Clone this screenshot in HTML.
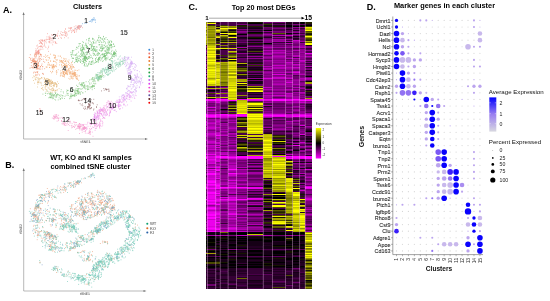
<!DOCTYPE html>
<html><head><meta charset="utf-8"><style>
html,body{margin:0;padding:0;background:#fff;}
body{width:550px;height:301px;overflow:hidden;position:relative;}
svg{position:absolute;left:0;top:0;will-change:transform;font-family:"Liberation Sans",sans-serif;}
</style></head><body>
<svg width="550" height="301" viewBox="0 0 550 301">
<text x="3.00" y="12.80" font-size="9" font-weight="bold" text-anchor="start" fill="#000" >A.</text>
<text x="87.50" y="8.70" font-size="7.25" font-weight="bold" text-anchor="middle" fill="#000" >Clusters</text>
<text x="5.30" y="168.00" font-size="9" font-weight="bold" text-anchor="start" fill="#000" >B.</text>
<text x="91.00" y="159.80" font-size="7.35" font-weight="bold" text-anchor="middle" fill="#000" >WT, KO and KI samples</text>
<text x="90.50" y="168.60" font-size="7.3" font-weight="bold" text-anchor="middle" fill="#000" >combined tSNE cluster</text>
<text x="188.50" y="9.90" font-size="9" font-weight="bold" text-anchor="start" fill="#000" >C.</text>
<text x="263.60" y="9.50" font-size="7.26" font-weight="bold" text-anchor="middle" fill="#000" >Top 20 most DEGs</text>
<text x="366.80" y="10.00" font-size="9" font-weight="bold" text-anchor="start" fill="#000" >D.</text>
<text x="444.50" y="8.20" font-size="7.36" font-weight="bold" text-anchor="middle" fill="#000" >Marker genes in each cluster</text>
<g fill="none" stroke-width="0.8" opacity="0.7"><path stroke="#3ea83e" d="M88.1 38.9h0.8M88.7 38.5h0.8M89.0 38.2h0.8M92.0 38.3h0.8M92.3 38.9h0.8M92.7 38.6h0.8M98.1 38.1h0.8M98.2 37.4h0.8M98.5 35.7h0.8M98.8 37.2h0.8M100.0 38.2h0.8M100.2 37.5h0.8M101.6 38.4h0.8M101.7 39.3h0.8M102.0 39.2h0.8M103.0 36.9h0.8M103.2 36.4h0.8M103.9 38.8h0.8M103.9 38.9h0.8M104.6 39.1h0.8M105.6 37.6h0.8M78.7 43.5h0.8M78.9 44.0h0.8M79.9 43.5h0.8M81.8 44.9h0.8M82.4 41.7h0.8M82.4 45.0h0.8M83.2 42.6h0.8M85.3 44.9h0.8M85.4 43.2h0.8M85.5 43.9h0.8M85.9 45.1h0.8M86.1 39.8h0.8M87.9 43.1h0.8M88.1 40.8h0.8M88.7 40.1h0.8M89.3 44.8h0.8M89.7 41.3h0.8M90.2 44.4h0.8M90.5 44.8h0.8M90.9 42.6h0.8M91.0 44.0h0.8M91.7 45.3h0.8M92.3 44.1h0.8M92.5 39.5h0.8M92.7 41.6h0.8M93.1 42.1h0.8M93.2 42.5h0.8M93.3 43.4h0.8M93.8 40.1h0.8M94.5 42.9h0.8M95.6 42.9h0.8M95.7 41.2h0.8M97.3 39.9h0.8M97.5 40.4h0.8M97.6 40.8h0.8M98.4 42.2h0.8M98.5 44.8h0.8M99.1 44.8h0.8M99.2 42.3h0.8M99.3 44.6h0.8M99.5 40.1h0.8M99.9 40.9h0.8M100.8 44.4h0.8M100.9 42.1h0.8M101.5 42.4h0.8M102.3 44.9h0.8M102.9 40.4h0.8M103.2 42.1h0.8M103.8 45.1h0.8M103.9 41.4h0.8M104.9 42.3h0.8M105.3 43.7h0.8M106.9 39.5h0.8M107.6 42.3h0.8M107.8 43.8h0.8M107.9 41.0h0.8M108.5 44.7h0.8M108.7 42.6h0.8M109.0 45.4h0.8M109.1 42.3h0.8M109.2 41.3h0.8M109.8 43.9h0.8M110.4 44.6h0.8M110.5 40.8h0.8M110.7 44.8h0.8M111.0 41.8h0.8M111.0 42.0h0.8M111.1 44.4h0.8M111.3 44.5h0.8M111.4 41.9h0.8M113.0 43.9h0.8M113.3 44.4h0.8M71.9 50.9h0.8M72.1 50.7h0.8M73.4 50.6h0.8M75.7 49.3h0.8M76.2 47.4h0.8M76.6 47.3h0.8M77.5 48.2h0.8M78.2 46.3h0.8M79.6 46.0h0.8M80.1 49.0h0.8M80.3 50.6h0.8M80.5 48.7h0.8M80.6 49.8h0.8M80.8 47.4h0.8M81.0 50.7h0.8M81.6 50.9h0.8M81.6 50.0h0.8M81.8 50.8h0.8M81.9 50.0h0.8M82.0 49.4h0.8M82.2 49.1h0.8M82.2 46.0h0.8M82.2 46.0h0.8M82.2 47.2h0.8M82.4 49.5h0.8M82.5 51.3h0.8M82.5 49.4h0.8M82.6 47.6h0.8M82.9 48.4h0.8M83.1 48.1h0.8M83.3 49.4h0.8M83.4 47.2h0.8M83.4 47.7h0.8M83.7 48.6h0.8M84.3 49.7h0.8M84.6 45.7h0.8M85.8 47.5h0.8M86.1 45.8h0.8M86.2 47.6h0.8M86.3 45.5h0.8M86.4 46.3h0.8M86.8 46.5h0.8M86.9 46.8h0.8M87.2 48.1h0.8M87.5 48.0h0.8M87.7 47.7h0.8M88.5 49.2h0.8M89.3 48.8h0.8M90.7 48.7h0.8M90.7 50.2h0.8M90.7 48.0h0.8M90.9 46.5h0.8M91.0 47.3h0.8M91.4 45.6h0.8M91.4 50.5h0.8M91.5 46.0h0.8M91.8 46.6h0.8M92.0 49.8h0.8M92.2 49.3h0.8M92.4 50.0h0.8M92.7 49.0h0.8M93.0 50.9h0.8M93.0 46.8h0.8M93.1 46.9h0.8M93.2 48.6h0.8M93.4 48.7h0.8M93.5 48.1h0.8M93.6 46.9h0.8M93.9 49.5h0.8M93.9 49.8h0.8M94.0 46.5h0.8M94.0 50.5h0.8M94.6 48.4h0.8M94.7 50.9h0.8M95.1 49.7h0.8M95.3 51.1h0.8M95.4 51.0h0.8M95.8 46.8h0.8M95.8 50.6h0.8M96.5 49.5h0.8M96.6 47.1h0.8M96.8 51.2h0.8M98.9 50.2h0.8M99.0 50.0h0.8M99.8 47.2h0.8M100.0 48.3h0.8M100.6 48.1h0.8M100.7 51.0h0.8M100.7 46.3h0.8M100.7 50.5h0.8M100.8 48.1h0.8M100.9 51.1h0.8M101.4 46.0h0.8M101.7 47.3h0.8M101.7 49.2h0.8M101.8 48.4h0.8M102.1 50.6h0.8M102.1 48.6h0.8M102.3 48.6h0.8M102.3 46.2h0.8M102.4 49.7h0.8M102.6 48.8h0.8M103.3 48.0h0.8M103.5 48.3h0.8M103.7 47.6h0.8M103.9 45.6h0.8M104.3 50.9h0.8M104.9 51.1h0.8M105.0 51.0h0.8M105.2 46.4h0.8M105.6 47.2h0.8M105.9 50.1h0.8M106.3 48.8h0.8M106.6 46.2h0.8M106.7 45.8h0.8M107.0 50.3h0.8M107.0 47.6h0.8M107.1 49.4h0.8M107.7 48.9h0.8M107.7 47.2h0.8M107.8 49.8h0.8M108.2 47.8h0.8M108.4 49.1h0.8M108.4 48.1h0.8M108.5 50.4h0.8M108.6 48.5h0.8M108.6 50.0h0.8M109.2 47.8h0.8M109.3 49.2h0.8M109.4 46.1h0.8M109.7 45.8h0.8M110.0 45.4h0.8M110.5 47.7h0.8M110.9 45.6h0.8M111.0 45.8h0.8M111.2 47.8h0.8M111.6 50.3h0.8M111.7 46.9h0.8M112.7 46.6h0.8M113.5 51.3h0.8M114.0 46.4h0.8M114.3 46.1h0.8M115.3 50.0h0.8M70.4 52.3h0.8M70.6 54.8h0.8M70.8 54.3h0.8M71.1 56.4h0.8M71.3 54.8h0.8M71.8 52.7h0.8M72.1 54.0h0.8M72.4 51.9h0.8M72.8 55.0h0.8M74.6 54.9h0.8M74.8 55.4h0.8M75.2 55.0h0.8M76.2 54.7h0.8M76.5 53.4h0.8M76.5 55.9h0.8M77.2 57.3h0.8M77.8 56.2h0.8M78.2 52.1h0.8M79.2 55.9h0.8M79.9 56.5h0.8M80.4 54.3h0.8M80.5 57.0h0.8M80.6 53.7h0.8M81.0 55.6h0.8M81.1 52.1h0.8M81.6 53.6h0.8M81.7 54.5h0.8M81.7 56.2h0.8M81.8 52.1h0.8M81.8 55.6h0.8M82.4 54.9h0.8M82.8 56.4h0.8M82.8 54.2h0.8M82.9 52.7h0.8M83.3 52.3h0.8M83.3 53.4h0.8M83.4 53.1h0.8M83.5 56.0h0.8M83.7 57.3h0.8M83.9 56.2h0.8M84.2 57.3h0.8M84.2 54.1h0.8M84.2 57.0h0.8M84.4 57.0h0.8M84.5 54.8h0.8M84.5 56.6h0.8M84.6 56.1h0.8M84.9 56.7h0.8M85.2 56.6h0.8M85.3 56.8h0.8M85.4 55.4h0.8M85.4 52.7h0.8M85.6 56.9h0.8M85.9 52.7h0.8M85.9 57.4h0.8M86.2 54.3h0.8M86.3 51.9h0.8M86.7 54.2h0.8M87.1 53.8h0.8M87.5 52.2h0.8M87.9 56.8h0.8M88.1 56.9h0.8M88.9 51.6h0.8M89.0 56.5h0.8M89.1 53.3h0.8M89.6 54.8h0.8M90.6 55.5h0.8M91.0 57.2h0.8M92.7 52.0h0.8M92.7 53.7h0.8M93.3 55.3h0.8M93.5 53.5h0.8M93.9 53.8h0.8M94.1 54.6h0.8M94.8 55.2h0.8M95.4 55.6h0.8M95.5 51.7h0.8M96.4 54.2h0.8M96.9 55.4h0.8M97.1 53.6h0.8M97.4 54.9h0.8M97.7 52.6h0.8M98.3 54.9h0.8M98.3 52.9h0.8M98.6 53.7h0.8M98.6 53.6h0.8M99.1 53.6h0.8M99.6 56.9h0.8M100.4 55.6h0.8M100.9 54.4h0.8M102.2 54.7h0.8M102.2 54.0h0.8M102.3 54.1h0.8M102.6 54.9h0.8M102.7 56.9h0.8M103.0 56.5h0.8M103.0 56.7h0.8M103.5 55.0h0.8M103.5 53.9h0.8M103.8 54.1h0.8M103.8 55.0h0.8M103.9 55.5h0.8M104.0 56.3h0.8M104.0 53.6h0.8M104.0 56.5h0.8M104.3 54.8h0.8M104.3 55.9h0.8M104.5 56.5h0.8M104.6 56.7h0.8M104.7 55.5h0.8M104.7 56.2h0.8M105.0 55.5h0.8M105.0 53.5h0.8M105.2 56.0h0.8M105.6 52.0h0.8M105.9 52.7h0.8M105.9 55.0h0.8M106.1 53.7h0.8M106.4 55.0h0.8M106.4 52.3h0.8M106.5 55.0h0.8M106.6 52.0h0.8M106.8 53.5h0.8M107.4 53.4h0.8M107.5 52.7h0.8M107.5 52.2h0.8M107.6 57.2h0.8M107.9 52.2h0.8M108.4 52.1h0.8M108.4 53.2h0.8M109.1 53.3h0.8M109.7 53.0h0.8M110.5 54.2h0.8M111.0 57.0h0.8M111.0 51.7h0.8M111.2 53.8h0.8M111.8 55.0h0.8M111.9 55.1h0.8M112.4 56.0h0.8M112.5 56.6h0.8M112.7 54.5h0.8M113.0 52.7h0.8M113.0 53.5h0.8M113.0 53.9h0.8M113.0 53.9h0.8M113.2 54.8h0.8M113.4 52.8h0.8M113.5 53.8h0.8M113.5 56.6h0.8M113.6 53.9h0.8M113.7 54.9h0.8M113.8 54.1h0.8M113.8 53.3h0.8M113.9 53.2h0.8M114.0 52.6h0.8M114.0 51.9h0.8M114.0 56.7h0.8M114.2 54.5h0.8M114.2 53.0h0.8M114.4 53.9h0.8M114.4 54.9h0.8M115.1 53.6h0.8M115.1 52.7h0.8M115.3 53.6h0.8M115.4 55.7h0.8M115.5 53.3h0.8M115.6 54.8h0.8M115.9 51.4h0.8M71.7 58.0h0.8M72.0 61.2h0.8M72.3 58.4h0.8M72.8 58.3h0.8M73.0 58.4h0.8M74.0 62.6h0.8M75.0 58.0h0.8M75.4 61.6h0.8M75.5 59.6h0.8M75.6 60.0h0.8M76.1 61.3h0.8M76.1 57.7h0.8M76.1 59.5h0.8M76.3 61.0h0.8M76.5 59.9h0.8M76.6 59.8h0.8M76.9 58.4h0.8M77.2 62.2h0.8M77.3 61.4h0.8M77.9 60.0h0.8M78.2 60.8h0.8M78.3 58.4h0.8M78.6 60.5h0.8M79.1 58.3h0.8M79.6 61.4h0.8M79.9 59.7h0.8M80.2 62.2h0.8M80.2 62.2h0.8M80.2 59.9h0.8M81.4 60.9h0.8M82.2 61.4h0.8M82.2 59.2h0.8M82.8 58.3h0.8M83.1 62.4h0.8M83.1 60.9h0.8M83.2 61.7h0.8M83.2 61.3h0.8M83.3 58.4h0.8M83.5 59.7h0.8M83.6 59.3h0.8M83.7 63.1h0.8M83.7 60.2h0.8M84.1 57.6h0.8M84.2 58.2h0.8M84.2 58.1h0.8M84.2 58.1h0.8M84.3 58.8h0.8M84.4 62.7h0.8M84.5 60.2h0.8M84.5 58.8h0.8M84.6 58.7h0.8M84.6 60.7h0.8M84.6 63.0h0.8M84.7 59.2h0.8M84.8 59.9h0.8M84.8 59.2h0.8M84.9 60.7h0.8M85.0 58.1h0.8M85.1 58.8h0.8M85.2 60.4h0.8M85.3 57.5h0.8M85.5 57.5h0.8M85.7 61.1h0.8M85.9 61.5h0.8M86.0 58.8h0.8M86.0 58.3h0.8M86.1 58.3h0.8M86.1 57.5h0.8M86.5 57.4h0.8M86.5 57.9h0.8M86.7 58.6h0.8M86.8 59.3h0.8M87.0 59.4h0.8M88.0 58.5h0.8M88.6 58.2h0.8M88.6 63.2h0.8M88.9 61.5h0.8M89.5 57.7h0.8M89.6 62.1h0.8M89.8 57.7h0.8M91.0 61.4h0.8M91.1 62.4h0.8M91.4 61.9h0.8M92.0 58.7h0.8M92.1 61.2h0.8M92.3 58.2h0.8M92.6 62.3h0.8M92.7 60.9h0.8M93.8 63.2h0.8M94.8 62.6h0.8M95.1 59.3h0.8M95.1 58.5h0.8M95.2 60.6h0.8M95.4 62.3h0.8M95.9 61.8h0.8M96.1 57.8h0.8M96.3 61.7h0.8M96.5 61.7h0.8M96.9 59.8h0.8M97.6 59.4h0.8M97.6 61.2h0.8M97.9 60.7h0.8M97.9 62.3h0.8M98.0 58.5h0.8M98.2 59.2h0.8M98.3 58.5h0.8M98.4 57.7h0.8M98.4 60.7h0.8M98.5 58.7h0.8M98.5 59.4h0.8M98.6 59.4h0.8M98.8 57.9h0.8M98.9 57.4h0.8M99.2 58.2h0.8M99.4 59.5h0.8M99.6 57.7h0.8M100.4 60.7h0.8M100.6 58.0h0.8M101.4 59.1h0.8M101.7 58.2h0.8M102.1 57.5h0.8M102.3 61.5h0.8M102.8 60.6h0.8M104.2 59.2h0.8M104.6 57.9h0.8M104.7 57.6h0.8M104.9 58.8h0.8M105.1 58.3h0.8M105.1 59.0h0.8M105.5 60.6h0.8M105.7 59.4h0.8M105.9 58.3h0.8M106.0 57.8h0.8M107.4 58.8h0.8M108.9 59.6h0.8M109.0 59.8h0.8M110.0 58.7h0.8M110.2 60.0h0.8M111.1 58.1h0.8M112.1 58.4h0.8M81.7 63.6h0.8M83.8 65.6h0.8M84.0 64.7h0.8M84.2 64.6h0.8M84.6 66.1h0.8M85.8 66.0h0.8M86.3 64.1h0.8M87.0 66.1h0.8M87.5 65.6h0.8M88.0 63.9h0.8M88.2 64.3h0.8M89.7 64.1h0.8M90.0 64.2h0.8M90.9 64.0h0.8M91.2 64.5h0.8M92.5 64.0h0.8"/><path stroke="#ee6cd2" d="M106.1 104.3h0.8M106.4 102.6h0.8M107.3 102.2h0.8M107.7 100.8h0.8M107.7 103.9h0.8M108.4 103.7h0.8M108.4 101.3h0.8M108.6 104.9h0.8M108.8 101.9h0.8M109.0 104.3h0.8M109.0 103.2h0.8M109.2 104.0h0.8M109.4 104.0h0.8M109.5 103.6h0.8M109.5 103.6h0.8M109.6 103.4h0.8M109.8 102.5h0.8M110.1 104.3h0.8M110.2 103.1h0.8M110.4 103.6h0.8M110.8 101.3h0.8M112.1 104.2h0.8M112.2 103.0h0.8M98.4 110.1h0.8M98.6 110.3h0.8M99.0 109.6h0.8M99.3 111.0h0.8M99.4 109.9h0.8M99.8 107.6h0.8M100.0 111.1h0.8M100.1 108.7h0.8M100.7 109.8h0.8M101.0 110.5h0.8M101.2 109.6h0.8M101.5 109.0h0.8M101.5 110.9h0.8M101.6 109.2h0.8M101.7 109.8h0.8M102.0 111.0h0.8M102.0 110.1h0.8M102.2 110.2h0.8M102.8 110.8h0.8M102.9 107.5h0.8M102.9 108.3h0.8M103.1 109.8h0.8M103.2 111.0h0.8M103.6 105.8h0.8M103.7 107.4h0.8M103.7 109.7h0.8M104.1 110.4h0.8M104.2 108.5h0.8M104.6 106.0h0.8M104.7 109.7h0.8M105.2 109.8h0.8M105.3 110.8h0.8M105.7 105.4h0.8M106.9 106.8h0.8M107.0 110.6h0.8M107.3 109.6h0.8M107.5 106.6h0.8M107.7 107.7h0.8M109.0 108.1h0.8M110.4 110.6h0.8M110.9 107.5h0.8M112.0 106.3h0.8M112.2 105.9h0.8M94.3 116.5h0.8M94.6 115.3h0.8M96.0 117.2h0.8M96.7 111.7h0.8M96.9 115.0h0.8M97.1 112.3h0.8M97.1 113.4h0.8M97.2 112.6h0.8M98.6 113.1h0.8M98.9 115.7h0.8M99.4 113.5h0.8M99.9 113.6h0.8M100.3 111.5h0.8M100.6 113.5h0.8M100.8 114.8h0.8M101.2 114.7h0.8M102.0 115.3h0.8M102.4 111.8h0.8M103.5 111.5h0.8M103.9 112.3h0.8M103.9 112.9h0.8M104.5 112.7h0.8M105.7 111.8h0.8M105.9 115.3h0.8M106.6 113.3h0.8M106.9 114.5h0.8M108.7 115.9h0.8M109.0 114.9h0.8M109.4 113.1h0.8M110.1 111.5h0.8M87.1 123.1h0.8M87.6 122.2h0.8M89.4 123.3h0.8M89.5 122.9h0.8M90.3 123.1h0.8M90.7 121.0h0.8M92.2 119.5h0.8M92.9 119.4h0.8M93.1 121.2h0.8M93.2 121.4h0.8M93.7 119.8h0.8M93.8 122.5h0.8M94.0 119.2h0.8M94.8 120.7h0.8M96.3 122.1h0.8M97.6 119.6h0.8M99.1 118.1h0.8M99.3 122.4h0.8M99.9 121.6h0.8M100.1 120.3h0.8M100.3 119.2h0.8M100.8 121.0h0.8M101.9 123.3h0.8M102.1 121.3h0.8M102.3 118.4h0.8M102.5 122.8h0.8M103.0 117.6h0.8M103.7 117.6h0.8M103.8 118.3h0.8M104.5 118.3h0.8M80.4 126.2h0.8M81.4 124.4h0.8M82.6 125.0h0.8M82.7 128.4h0.8M82.8 124.6h0.8M82.8 124.5h0.8M83.3 129.0h0.8M83.8 129.2h0.8M84.1 128.3h0.8M84.1 126.9h0.8M85.6 127.1h0.8M85.6 127.4h0.8M86.5 124.7h0.8M86.5 128.7h0.8M86.6 128.0h0.8M87.6 126.3h0.8M89.7 123.8h0.8M89.9 126.2h0.8M90.3 123.6h0.8M90.8 124.3h0.8M90.8 124.3h0.8M90.8 124.3h0.8M91.0 123.9h0.8M91.1 124.1h0.8M91.2 128.4h0.8M91.3 128.8h0.8M92.0 127.0h0.8M92.6 123.7h0.8M92.6 123.6h0.8M93.2 127.5h0.8M93.4 123.6h0.8M93.7 123.8h0.8M94.0 124.5h0.8M94.1 125.5h0.8M94.1 126.8h0.8M94.9 128.7h0.8M95.0 126.0h0.8M95.3 125.2h0.8M95.4 128.3h0.8M95.6 123.8h0.8M95.7 124.5h0.8M95.7 124.1h0.8M95.9 128.4h0.8M96.3 124.1h0.8M96.4 127.0h0.8M96.5 123.7h0.8M96.5 123.8h0.8M96.6 126.5h0.8M96.6 125.6h0.8M97.3 126.0h0.8M98.1 124.9h0.8M98.4 125.2h0.8M98.9 124.8h0.8M99.0 123.4h0.8M99.1 126.9h0.8M99.1 126.7h0.8M99.2 127.1h0.8M99.4 124.7h0.8M99.5 128.3h0.8M99.5 125.7h0.8M99.6 126.0h0.8M99.9 125.7h0.8M100.0 123.9h0.8M101.5 126.3h0.8M102.3 125.0h0.8M81.8 130.3h0.8M82.4 129.4h0.8M85.2 131.0h0.8M85.5 130.2h0.8M86.4 129.4h0.8M86.7 133.3h0.8M89.7 131.0h0.8M91.9 132.1h0.8M94.7 130.4h0.8"/><path stroke="#c58ff0" d="M125.3 56.9h0.8M126.7 57.4h0.8M127.7 57.2h0.8M128.6 57.3h0.8M131.1 57.2h0.8M121.7 58.0h0.8M121.9 58.9h0.8M122.7 59.1h0.8M122.9 61.7h0.8M123.6 57.9h0.8M124.1 57.7h0.8M124.3 59.9h0.8M124.5 58.7h0.8M124.8 60.5h0.8M124.9 63.1h0.8M125.1 59.4h0.8M125.3 62.7h0.8M125.6 57.5h0.8M126.4 60.8h0.8M126.7 59.6h0.8M126.8 59.0h0.8M127.1 58.8h0.8M127.2 62.4h0.8M127.8 58.5h0.8M128.0 57.5h0.8M128.0 58.1h0.8M128.6 59.3h0.8M129.9 60.0h0.8M130.2 62.8h0.8M130.2 61.9h0.8M130.6 62.8h0.8M130.8 62.5h0.8M130.8 62.7h0.8M131.0 61.1h0.8M131.2 61.5h0.8M131.4 62.9h0.8M131.4 62.1h0.8M131.4 63.1h0.8M131.8 61.9h0.8M132.0 62.8h0.8M124.1 64.4h0.8M125.3 66.6h0.8M125.9 64.1h0.8M125.9 65.5h0.8M126.3 65.8h0.8M126.6 68.9h0.8M127.5 68.5h0.8M127.6 64.7h0.8M127.7 63.7h0.8M128.3 68.0h0.8M128.4 67.9h0.8M128.5 68.3h0.8M128.6 67.0h0.8M128.9 63.9h0.8M128.9 66.6h0.8M128.9 67.9h0.8M129.2 65.7h0.8M129.3 67.4h0.8M129.6 66.5h0.8M129.6 64.6h0.8M129.6 66.7h0.8M129.6 69.3h0.8M129.7 67.2h0.8M129.9 67.0h0.8M130.0 65.3h0.8M130.1 63.5h0.8M130.5 64.1h0.8M130.6 63.5h0.8M130.6 65.5h0.8M130.6 63.8h0.8M130.7 63.8h0.8M130.9 63.9h0.8M131.1 63.8h0.8M131.2 64.2h0.8M131.6 64.0h0.8M131.7 66.5h0.8M132.0 63.6h0.8M132.4 63.8h0.8M132.7 68.8h0.8M133.1 68.7h0.8M133.5 63.8h0.8M133.8 63.5h0.8M134.2 67.0h0.8M134.9 67.6h0.8M135.1 64.5h0.8M135.7 66.3h0.8M135.7 65.4h0.8M126.9 70.9h0.8M127.4 73.9h0.8M127.6 72.2h0.8M127.9 69.8h0.8M128.0 73.0h0.8M128.3 73.8h0.8M128.4 73.6h0.8M128.5 70.3h0.8M128.6 72.5h0.8M128.7 74.9h0.8M128.9 74.7h0.8M129.1 72.9h0.8M129.4 70.1h0.8M129.5 73.4h0.8M129.7 72.3h0.8M129.7 72.8h0.8M129.8 74.2h0.8M129.8 73.6h0.8M129.8 73.6h0.8M129.9 71.4h0.8M130.1 69.8h0.8M130.2 74.2h0.8M130.2 74.4h0.8M130.4 73.3h0.8M130.6 71.9h0.8M131.1 71.6h0.8M131.3 71.3h0.8M131.3 72.9h0.8M131.3 72.0h0.8M134.0 70.2h0.8M134.1 75.1h0.8M134.6 75.0h0.8M134.7 69.7h0.8M136.6 70.6h0.8M136.8 74.5h0.8M136.8 73.7h0.8M137.1 70.6h0.8M139.1 71.7h0.8M140.5 74.1h0.8M129.3 76.3h0.8M129.3 76.3h0.8M130.1 78.4h0.8M130.4 77.7h0.8M130.6 79.6h0.8M130.7 79.6h0.8M130.8 78.6h0.8M130.8 80.1h0.8M131.0 80.1h0.8M131.2 78.7h0.8M131.8 80.5h0.8M131.9 78.9h0.8M132.2 78.9h0.8M132.5 80.4h0.8M132.7 80.5h0.8M132.9 80.4h0.8M133.2 79.5h0.8M133.2 79.4h0.8M133.8 80.5h0.8M134.3 80.1h0.8M134.3 78.0h0.8M134.6 79.8h0.8M134.8 75.5h0.8M135.2 77.4h0.8M135.3 76.9h0.8M135.3 78.1h0.8M135.5 76.7h0.8M135.9 77.3h0.8M135.9 77.6h0.8M136.0 81.2h0.8M136.3 78.6h0.8M136.4 79.9h0.8M136.6 79.2h0.8M136.6 76.2h0.8M136.9 75.8h0.8M136.9 76.4h0.8M137.4 81.1h0.8M137.6 77.3h0.8M138.0 77.7h0.8M138.4 81.1h0.8M138.6 77.0h0.8M138.8 80.6h0.8M139.7 79.1h0.8M140.4 78.0h0.8M140.6 78.5h0.8M140.8 75.6h0.8M141.0 79.0h0.8M141.1 78.3h0.8M141.2 80.3h0.8M141.9 77.0h0.8M127.6 85.8h0.8M127.6 86.0h0.8M128.3 86.7h0.8M128.5 86.6h0.8M129.6 86.8h0.8M129.7 86.1h0.8M130.3 84.5h0.8M130.6 82.0h0.8M130.8 82.5h0.8M131.1 81.8h0.8M131.7 84.6h0.8M132.6 86.6h0.8M132.7 87.3h0.8M132.8 84.7h0.8M132.9 84.5h0.8M133.5 85.7h0.8M133.6 82.7h0.8M133.7 86.2h0.8M133.8 83.4h0.8M134.1 81.9h0.8M134.9 81.8h0.8M135.1 82.1h0.8M135.2 87.2h0.8M135.4 82.9h0.8M136.1 83.5h0.8M136.6 87.1h0.8M136.7 85.4h0.8M136.8 82.6h0.8M137.5 81.8h0.8M138.4 82.7h0.8M138.9 86.8h0.8M138.9 81.5h0.8M139.2 87.3h0.8M139.6 81.9h0.8M139.7 81.7h0.8M139.9 84.0h0.8M140.1 82.3h0.8M140.3 85.0h0.8M140.3 83.4h0.8M140.5 81.7h0.8M142.1 82.8h0.8M142.5 82.4h0.8M125.2 93.0h0.8M125.6 92.6h0.8M126.1 88.5h0.8M126.4 93.0h0.8M126.5 93.3h0.8M126.5 88.3h0.8M126.7 89.6h0.8M126.9 87.8h0.8M127.0 91.4h0.8M128.4 90.3h0.8M128.6 90.6h0.8M128.6 90.8h0.8M128.7 91.3h0.8M130.3 92.1h0.8M130.5 91.5h0.8M130.8 89.2h0.8M130.9 93.0h0.8M131.4 93.0h0.8M131.5 88.4h0.8M132.4 92.7h0.8M132.6 91.7h0.8M133.0 91.5h0.8M133.7 92.3h0.8M133.9 89.8h0.8M134.4 89.6h0.8M134.8 89.6h0.8M134.9 93.1h0.8M135.2 90.8h0.8M135.2 88.8h0.8M135.5 91.1h0.8M135.9 91.7h0.8M136.2 90.8h0.8M136.2 88.3h0.8M138.9 87.7h0.8M118.9 96.9h0.8M120.9 96.5h0.8M121.6 97.6h0.8M121.6 95.3h0.8M122.4 95.5h0.8M122.5 95.9h0.8M122.5 94.8h0.8M123.3 94.7h0.8M124.2 98.7h0.8M124.3 96.6h0.8M124.5 97.3h0.8M124.6 95.0h0.8M125.7 98.8h0.8M127.3 96.3h0.8M127.8 94.2h0.8M128.4 94.2h0.8M128.8 95.5h0.8M129.0 96.3h0.8M129.0 94.9h0.8M129.4 97.7h0.8M130.9 96.7h0.8M132.5 95.3h0.8M132.7 94.6h0.8M133.6 96.2h0.8M123.6 99.4h0.8M124.1 99.5h0.8M124.7 99.6h0.8M125.0 100.0h0.8"/><path stroke="#3a8ad8" d="M89.6 21.3h0.8M90.4 21.4h0.8M90.7 20.5h0.8M91.3 19.5h0.8M91.9 19.7h0.8M92.0 21.0h0.8M92.4 19.0h0.8M92.5 19.5h0.8M92.6 20.5h0.8M93.0 19.5h0.8M93.5 17.7h0.8M93.7 18.2h0.8M93.8 19.4h0.8M94.5 20.3h0.8M95.1 19.9h0.8M77.1 27.1h0.8M77.3 27.2h0.8M79.2 25.9h0.8M79.4 27.1h0.8M80.4 26.7h0.8M80.8 25.7h0.8M82.2 23.7h0.8M84.5 23.5h0.8M85.5 22.7h0.8M86.0 23.2h0.8M88.9 21.5h0.8M91.4 22.0h0.8M95.2 22.3h0.8M75.3 28.5h0.8M77.6 27.7h0.8"/><path stroke="#f068b0" d="M53.3 115.8h0.8M53.4 117.0h0.8M53.6 116.5h0.8M54.2 117.2h0.8M54.3 116.2h0.8M54.7 114.7h0.8M54.9 116.6h0.8M55.0 117.1h0.8M55.5 115.4h0.8M56.1 114.7h0.8M56.2 116.8h0.8M56.2 116.8h0.8M56.5 115.1h0.8M57.1 117.1h0.8M57.6 117.4h0.8M58.1 115.3h0.8M61.6 117.4h0.8M51.9 118.0h0.8M53.2 118.6h0.8M53.7 119.0h0.8M53.8 118.7h0.8M54.6 117.7h0.8M54.7 117.7h0.8M55.7 118.5h0.8M56.7 121.1h0.8M57.6 118.5h0.8M57.7 118.4h0.8M58.0 119.0h0.8M58.0 120.6h0.8M59.6 118.0h0.8M61.1 120.9h0.8M61.1 120.7h0.8M61.3 121.3h0.8M62.2 118.4h0.8M62.6 122.9h0.8M63.5 122.8h0.8M64.2 122.9h0.8M64.7 122.7h0.8M67.0 122.9h0.8M68.2 121.0h0.8M68.3 120.2h0.8M68.7 119.5h0.8M68.9 122.9h0.8M70.1 121.3h0.8M70.3 122.9h0.8M73.0 122.0h0.8M74.3 122.1h0.8M74.6 122.4h0.8M75.4 122.6h0.8M76.1 122.5h0.8M61.6 123.8h0.8M62.5 124.0h0.8M63.1 123.8h0.8M63.8 125.1h0.8M64.1 124.4h0.8M64.3 124.9h0.8M64.7 123.6h0.8M65.1 125.4h0.8M66.5 125.1h0.8M66.5 123.7h0.8M68.0 124.5h0.8M69.4 125.6h0.8M71.1 125.9h0.8M71.4 127.8h0.8M71.5 125.7h0.8M71.7 123.7h0.8M72.3 127.3h0.8M72.8 126.3h0.8M73.1 126.5h0.8M74.1 127.5h0.8M74.3 126.2h0.8M74.3 124.3h0.8M75.1 125.8h0.8M75.8 124.8h0.8M76.4 128.4h0.8M77.4 128.3h0.8M77.4 126.0h0.8M77.5 127.1h0.8M77.6 126.4h0.8M77.8 126.3h0.8M77.8 124.5h0.8M77.8 125.7h0.8M77.8 126.5h0.8M78.3 126.8h0.8M78.4 128.2h0.8M78.6 127.7h0.8M78.6 126.2h0.8M78.6 126.4h0.8M78.8 124.0h0.8M78.9 125.7h0.8M78.9 128.5h0.8M79.0 126.7h0.8M79.0 123.5h0.8M79.1 127.8h0.8M79.3 123.8h0.8M79.3 127.4h0.8M79.4 127.0h0.8M79.6 124.5h0.8M79.6 128.0h0.8M79.8 126.3h0.8M80.2 126.9h0.8M80.3 124.3h0.8M80.4 125.9h0.8M80.7 128.7h0.8M80.9 125.9h0.8M81.6 126.8h0.8M82.0 125.1h0.8M82.0 128.3h0.8M82.5 127.7h0.8M82.9 125.9h0.8M83.0 125.6h0.8M83.3 128.6h0.8M83.3 127.6h0.8M83.4 127.8h0.8M83.5 129.0h0.8M83.8 128.8h0.8M83.8 128.0h0.8M83.8 126.8h0.8M84.1 127.4h0.8M84.1 127.0h0.8M84.4 127.7h0.8M84.6 124.4h0.8M84.8 127.7h0.8M85.0 128.4h0.8M85.4 128.5h0.8M85.6 127.7h0.8M89.2 128.7h0.8M89.9 129.3h0.8M67.8 130.5h0.8M75.4 129.4h0.8M79.2 133.5h0.8M79.3 129.8h0.8M80.8 129.9h0.8M81.7 129.8h0.8M81.8 132.2h0.8M83.6 129.7h0.8M83.7 131.5h0.8M84.9 133.0h0.8M85.0 131.1h0.8M88.0 133.4h0.8M88.6 132.2h0.8M88.9 130.8h0.8M89.2 132.4h0.8M89.3 133.7h0.8M89.4 131.8h0.8M89.4 132.5h0.8M89.8 134.5h0.8M90.0 133.0h0.8M90.0 131.7h0.8M92.6 136.3h0.8"/><path stroke="#d9a04c" d="M32.4 77.7h0.8M33.0 76.0h0.8M33.0 80.5h0.8M34.0 76.7h0.8M34.7 79.1h0.8M34.9 75.7h0.8M35.3 79.8h0.8M35.3 78.0h0.8M35.5 79.5h0.8M36.1 77.3h0.8M37.3 81.1h0.8M37.5 78.1h0.8M37.6 77.9h0.8M37.9 79.6h0.8M38.1 81.3h0.8M38.6 78.6h0.8M38.8 80.9h0.8M38.9 79.0h0.8M39.5 79.1h0.8M40.3 78.5h0.8M41.2 77.7h0.8M41.3 77.6h0.8M41.6 78.1h0.8M43.7 79.7h0.8M43.8 77.6h0.8M44.0 78.7h0.8M44.3 78.5h0.8M45.0 79.6h0.8M45.0 79.7h0.8M45.0 81.3h0.8M45.2 80.6h0.8M45.5 81.3h0.8M45.8 78.9h0.8M46.2 78.9h0.8M46.8 81.0h0.8M46.9 79.0h0.8M47.3 80.5h0.8M47.5 78.6h0.8M47.7 80.2h0.8M48.1 79.4h0.8M48.2 80.1h0.8M48.2 79.5h0.8M48.3 80.4h0.8M48.3 79.9h0.8M48.7 81.3h0.8M48.9 79.7h0.8M48.9 80.8h0.8M49.1 79.6h0.8M49.5 80.6h0.8M49.9 80.2h0.8M49.9 81.2h0.8M50.9 80.2h0.8M51.4 81.2h0.8M34.0 83.2h0.8M37.0 87.0h0.8M37.0 82.7h0.8M37.4 82.2h0.8M37.5 84.2h0.8M37.9 82.6h0.8M37.9 82.4h0.8M39.5 82.7h0.8M40.5 82.3h0.8M40.7 83.3h0.8M41.2 85.2h0.8M42.8 85.6h0.8M44.0 82.5h0.8M44.0 84.5h0.8M44.0 84.5h0.8M44.3 81.6h0.8M44.7 87.0h0.8M45.1 85.3h0.8M45.4 86.5h0.8M45.6 84.3h0.8M45.7 82.5h0.8M45.8 83.6h0.8M46.1 82.7h0.8M46.3 82.0h0.8M46.4 81.9h0.8M46.5 85.9h0.8M46.6 82.0h0.8M46.8 85.4h0.8M47.1 83.3h0.8M47.3 81.6h0.8M47.9 81.9h0.8M48.0 81.6h0.8M48.8 82.8h0.8M49.1 85.0h0.8M49.1 83.9h0.8M49.2 81.7h0.8M49.3 83.4h0.8M49.3 85.6h0.8M49.4 83.7h0.8M49.5 84.9h0.8M49.5 82.3h0.8M49.5 81.5h0.8M49.7 86.5h0.8M49.8 83.4h0.8M49.8 84.0h0.8M50.0 81.6h0.8M50.2 83.0h0.8M50.6 85.0h0.8M50.8 82.7h0.8M51.1 83.0h0.8M51.1 83.1h0.8M51.1 82.6h0.8M51.1 86.5h0.8M51.2 83.1h0.8M51.2 84.1h0.8M51.8 81.7h0.8M51.8 82.9h0.8M51.9 81.8h0.8M52.0 83.3h0.8M52.2 82.6h0.8M52.2 81.7h0.8M52.3 83.1h0.8M52.5 83.5h0.8M52.7 83.1h0.8M52.8 85.6h0.8M52.9 85.5h0.8M53.0 83.0h0.8M53.0 85.0h0.8M53.6 86.4h0.8M53.7 86.1h0.8M53.9 85.5h0.8M53.9 84.5h0.8M53.9 83.7h0.8M54.3 82.5h0.8M54.4 83.9h0.8M55.1 82.8h0.8M55.2 83.1h0.8M55.3 83.9h0.8M55.6 84.2h0.8M55.6 83.8h0.8M56.0 86.0h0.8M56.0 83.9h0.8M56.1 86.8h0.8M56.1 84.7h0.8M56.3 84.7h0.8M56.3 86.8h0.8M56.6 86.2h0.8M56.9 85.0h0.8M57.1 81.8h0.8M58.1 83.5h0.8M41.3 88.5h0.8M41.5 88.5h0.8M42.3 87.5h0.8M42.5 89.5h0.8M42.9 90.2h0.8M44.8 88.0h0.8M44.9 89.2h0.8M45.7 91.7h0.8M46.2 90.0h0.8M46.4 89.8h0.8M47.7 87.8h0.8M48.3 92.0h0.8M48.6 88.1h0.8M49.3 89.3h0.8M49.7 92.1h0.8M50.4 89.5h0.8M50.6 92.3h0.8M50.8 90.2h0.8M51.4 88.9h0.8M51.7 88.9h0.8M51.9 92.2h0.8M51.9 90.6h0.8M52.3 88.3h0.8M52.5 87.9h0.8M52.8 90.6h0.8M52.9 90.4h0.8M52.9 90.1h0.8M53.0 88.9h0.8M53.4 89.5h0.8M54.4 92.0h0.8M54.7 90.6h0.8M54.8 90.4h0.8M55.0 90.9h0.8M55.6 90.4h0.8M56.7 90.7h0.8M56.8 89.5h0.8M58.7 88.6h0.8"/><path stroke="#ee883a" d="M45.2 55.0h0.8M46.4 56.3h0.8M47.4 55.6h0.8M50.2 54.2h0.8M53.2 55.1h0.8M53.7 55.2h0.8M54.4 57.3h0.8M54.4 55.2h0.8M55.2 55.9h0.8M55.2 56.0h0.8M57.8 56.0h0.8M59.8 56.2h0.8M59.9 56.2h0.8M45.2 57.4h0.8M45.7 59.6h0.8M46.3 60.4h0.8M47.8 62.9h0.8M47.8 57.5h0.8M47.8 60.1h0.8M48.1 62.6h0.8M49.2 57.4h0.8M49.3 58.6h0.8M50.0 61.2h0.8M50.3 60.9h0.8M53.0 61.1h0.8M53.0 61.4h0.8M53.7 61.3h0.8M53.9 58.0h0.8M54.4 57.8h0.8M54.7 61.5h0.8M54.7 58.1h0.8M55.3 57.4h0.8M55.6 59.6h0.8M55.7 62.5h0.8M56.5 60.4h0.8M56.8 59.7h0.8M59.1 60.3h0.8M59.3 62.1h0.8M60.1 61.7h0.8M60.5 60.4h0.8M60.8 60.5h0.8M60.8 61.7h0.8M61.0 57.8h0.8M61.0 60.6h0.8M61.5 62.0h0.8M61.6 62.0h0.8M61.6 61.7h0.8M62.3 62.1h0.8M62.3 62.7h0.8M62.5 60.8h0.8M62.6 62.8h0.8M63.2 63.3h0.8M63.3 58.3h0.8M63.3 60.6h0.8M63.8 59.3h0.8M64.4 61.6h0.8M64.6 58.7h0.8M65.1 61.0h0.8M65.2 61.3h0.8M65.5 61.0h0.8M65.8 59.0h0.8M66.2 63.2h0.8M66.9 61.1h0.8M67.9 61.8h0.8M68.2 62.3h0.8M68.6 60.0h0.8M68.9 63.3h0.8M71.0 62.8h0.8M71.5 62.4h0.8M45.7 66.9h0.8M46.4 67.3h0.8M46.6 67.0h0.8M47.3 64.9h0.8M47.9 64.9h0.8M49.1 67.5h0.8M49.2 64.3h0.8M49.3 67.4h0.8M49.6 65.3h0.8M49.7 65.4h0.8M51.0 64.9h0.8M51.5 66.0h0.8M51.7 68.1h0.8M51.8 67.5h0.8M51.8 65.7h0.8M52.1 66.6h0.8M52.1 67.8h0.8M52.3 66.9h0.8M52.3 67.2h0.8M52.5 67.6h0.8M52.8 64.7h0.8M52.8 69.2h0.8M52.9 64.5h0.8M52.9 66.7h0.8M53.1 65.7h0.8M53.2 66.5h0.8M53.4 64.9h0.8M53.4 68.0h0.8M53.5 65.8h0.8M53.5 66.9h0.8M53.9 66.6h0.8M53.9 67.4h0.8M54.8 66.1h0.8M54.9 65.8h0.8M55.7 66.0h0.8M56.0 66.7h0.8M56.3 64.0h0.8M59.2 64.9h0.8M61.0 64.4h0.8M61.4 65.4h0.8M61.6 67.5h0.8M61.8 66.5h0.8M63.2 65.6h0.8M63.4 65.6h0.8M63.9 69.1h0.8M64.0 64.9h0.8M64.1 64.3h0.8M64.2 66.3h0.8M64.5 65.1h0.8M64.5 63.7h0.8M64.9 65.6h0.8M65.3 67.0h0.8M65.4 64.8h0.8M65.6 65.7h0.8M66.0 65.5h0.8M66.0 66.5h0.8M66.3 67.9h0.8M66.5 67.0h0.8M66.5 65.7h0.8M66.7 65.2h0.8M66.7 67.5h0.8M67.0 66.3h0.8M68.0 64.6h0.8M68.4 68.7h0.8M68.8 68.3h0.8M69.0 65.6h0.8M69.9 67.6h0.8M70.2 66.3h0.8M70.5 65.8h0.8M70.5 66.9h0.8M70.6 67.8h0.8M70.6 64.3h0.8M70.6 68.8h0.8M70.6 66.6h0.8M71.1 69.4h0.8M71.4 68.8h0.8M71.8 66.0h0.8M71.9 67.8h0.8M72.0 64.7h0.8M72.7 66.7h0.8M72.9 66.6h0.8M73.1 67.0h0.8M73.7 67.6h0.8M50.2 71.4h0.8M51.1 72.8h0.8M52.2 71.3h0.8M52.3 71.8h0.8M55.8 71.7h0.8M56.0 74.1h0.8M56.1 70.5h0.8M56.3 72.7h0.8M56.6 72.1h0.8M57.8 69.7h0.8M60.4 74.1h0.8M60.4 70.8h0.8M60.5 73.0h0.8M60.6 73.2h0.8M61.4 72.7h0.8M61.7 75.1h0.8M62.0 70.0h0.8M62.3 71.2h0.8M62.5 72.0h0.8M62.6 73.3h0.8M62.9 73.5h0.8M63.1 72.0h0.8M63.1 73.1h0.8M63.1 73.2h0.8M63.3 71.6h0.8M63.3 73.0h0.8M63.3 72.9h0.8M63.4 71.7h0.8M63.5 72.4h0.8M63.5 74.5h0.8M63.7 74.8h0.8M63.8 72.1h0.8M63.8 74.2h0.8M63.9 74.7h0.8M64.2 75.1h0.8M64.6 71.9h0.8M64.6 69.7h0.8M64.8 70.8h0.8M64.9 73.9h0.8M65.1 73.0h0.8M65.1 73.5h0.8M65.2 72.9h0.8M65.4 73.5h0.8M65.7 72.4h0.8M66.0 72.4h0.8M66.0 70.8h0.8M66.1 73.8h0.8M66.1 71.5h0.8M66.1 73.6h0.8M66.5 70.2h0.8M66.5 71.3h0.8M66.6 70.0h0.8M66.6 73.8h0.8M66.9 74.7h0.8M67.2 72.2h0.8M67.3 70.9h0.8M67.3 74.3h0.8M67.3 73.7h0.8M68.0 70.0h0.8M68.3 69.4h0.8M68.4 70.6h0.8M68.6 71.5h0.8M68.6 72.2h0.8M69.0 73.0h0.8M69.3 74.2h0.8M69.3 70.3h0.8M69.6 73.5h0.8M69.6 72.5h0.8M69.8 72.6h0.8M69.8 71.8h0.8M70.0 75.0h0.8M70.1 73.3h0.8M70.6 71.5h0.8M70.8 72.9h0.8M71.3 75.0h0.8M71.4 73.3h0.8M71.7 74.1h0.8M72.0 74.2h0.8M72.0 74.1h0.8M72.0 72.1h0.8M72.1 73.7h0.8M72.2 71.0h0.8M72.6 73.5h0.8M72.9 72.7h0.8M72.9 73.3h0.8M72.9 74.0h0.8M73.1 74.0h0.8M73.2 74.0h0.8M73.5 74.0h0.8M73.6 71.2h0.8M73.7 73.5h0.8M74.0 72.2h0.8M74.0 73.9h0.8M74.1 73.2h0.8M74.1 75.1h0.8M74.1 72.5h0.8M74.2 74.5h0.8M74.3 75.0h0.8M74.5 70.1h0.8M74.5 73.9h0.8M74.8 73.1h0.8M74.8 73.2h0.8M74.8 72.8h0.8M74.9 74.7h0.8M75.0 75.4h0.8M75.0 74.4h0.8M75.3 72.7h0.8M75.5 70.4h0.8M76.5 74.4h0.8M77.1 70.6h0.8M78.5 69.9h0.8M59.9 76.0h0.8M60.4 75.6h0.8M62.0 76.0h0.8M62.7 76.2h0.8M62.9 76.4h0.8M63.7 76.1h0.8M64.0 77.0h0.8M68.5 78.4h0.8M69.5 79.3h0.8M69.8 76.5h0.8M70.6 78.0h0.8M70.9 78.2h0.8M71.0 76.5h0.8M71.4 77.8h0.8M71.8 76.1h0.8M72.4 78.9h0.8M72.5 77.2h0.8M72.6 78.6h0.8M73.1 75.8h0.8M73.4 76.5h0.8M73.9 75.5h0.8M74.6 75.6h0.8M74.8 76.5h0.8M75.2 75.8h0.8M75.4 77.8h0.8M75.9 78.0h0.8M76.1 78.7h0.8M76.3 78.9h0.8M76.3 76.4h0.8M76.4 76.5h0.8M76.8 75.8h0.8M76.8 77.9h0.8M77.0 78.9h0.8M77.3 79.3h0.8M78.3 80.3h0.8M78.5 75.9h0.8M79.1 75.8h0.8"/><path stroke="#f0766c" d="M73.8 26.8h0.8M75.5 25.8h0.8M75.8 27.3h0.8M76.8 27.1h0.8M77.5 26.8h0.8M77.6 27.3h0.8M77.6 26.4h0.8M77.8 25.6h0.8M77.9 27.1h0.8M78.0 27.1h0.8M78.3 25.7h0.8M78.4 26.6h0.8M78.5 27.0h0.8M78.8 26.5h0.8M79.2 25.7h0.8M79.6 27.3h0.8M80.4 25.8h0.8M80.6 26.2h0.8M80.7 26.3h0.8M57.4 33.2h0.8M57.9 31.1h0.8M60.1 33.3h0.8M60.7 31.7h0.8M62.3 32.5h0.8M63.7 32.5h0.8M64.1 30.9h0.8M64.4 32.1h0.8M64.8 31.6h0.8M65.0 33.2h0.8M65.0 28.9h0.8M65.2 29.1h0.8M65.7 32.7h0.8M66.3 32.2h0.8M66.5 33.4h0.8M68.1 31.3h0.8M68.2 28.0h0.8M68.9 30.9h0.8M69.0 28.2h0.8M69.8 28.1h0.8M70.0 29.1h0.8M70.1 28.6h0.8M70.4 27.6h0.8M70.7 30.5h0.8M71.1 32.6h0.8M71.2 28.3h0.8M71.3 27.5h0.8M71.6 31.6h0.8M71.9 30.0h0.8M72.9 30.8h0.8M73.3 30.3h0.8M73.4 30.2h0.8M74.0 32.2h0.8M74.0 30.9h0.8M74.1 29.1h0.8M74.2 32.5h0.8M74.3 32.0h0.8M74.7 28.7h0.8M75.6 29.8h0.8M75.9 31.8h0.8M76.3 30.0h0.8M76.6 29.5h0.8M76.8 28.0h0.8M77.5 28.4h0.8M77.8 28.6h0.8M78.4 28.2h0.8M78.7 29.0h0.8M79.2 28.3h0.8M79.4 29.4h0.8M79.9 27.5h0.8M82.1 27.7h0.8M45.9 39.2h0.8M46.5 36.9h0.8M47.2 33.7h0.8M47.2 39.4h0.8M48.3 37.0h0.8M48.5 39.3h0.8M48.6 39.0h0.8M48.9 39.2h0.8M48.9 36.2h0.8M49.0 37.6h0.8M49.4 38.2h0.8M49.5 39.1h0.8M49.7 38.0h0.8M50.4 37.1h0.8M50.6 38.5h0.8M51.2 34.8h0.8M51.3 38.9h0.8M51.8 35.4h0.8M52.4 37.6h0.8M52.8 34.8h0.8M53.0 34.5h0.8M54.1 34.3h0.8M55.2 36.9h0.8M55.7 34.8h0.8M56.5 35.7h0.8M56.5 35.1h0.8M57.2 36.5h0.8M57.3 35.3h0.8M58.2 38.4h0.8M59.4 35.8h0.8M60.5 37.6h0.8M60.9 34.7h0.8M61.0 34.9h0.8M61.2 38.3h0.8M62.3 35.4h0.8M62.6 34.5h0.8M63.8 35.3h0.8M64.0 37.7h0.8M64.8 33.6h0.8M65.0 35.3h0.8M65.2 35.0h0.8M65.8 36.5h0.8M65.9 35.1h0.8M67.0 34.9h0.8M67.8 37.9h0.8M37.0 45.1h0.8M38.7 40.7h0.8M39.0 40.8h0.8M39.3 43.3h0.8M39.6 43.3h0.8M40.0 40.0h0.8M40.2 41.6h0.8M40.4 42.3h0.8M40.5 42.4h0.8M40.6 42.7h0.8M41.0 42.9h0.8M41.1 40.1h0.8M41.1 43.2h0.8M41.2 43.4h0.8M41.5 40.7h0.8M41.7 40.0h0.8M41.9 44.4h0.8M42.0 41.1h0.8M42.0 40.6h0.8M42.1 43.7h0.8M42.3 40.0h0.8M42.7 41.0h0.8M43.7 40.8h0.8M43.9 42.9h0.8M44.0 45.2h0.8M44.0 40.6h0.8M44.2 44.1h0.8M44.3 40.7h0.8M44.3 40.8h0.8M44.5 39.6h0.8M45.4 41.4h0.8M45.8 42.8h0.8M45.9 39.9h0.8M48.2 41.9h0.8M49.0 41.2h0.8M49.1 42.4h0.8M49.4 39.6h0.8M49.4 41.6h0.8M49.6 42.9h0.8M50.7 40.6h0.8M51.6 42.9h0.8M52.3 44.8h0.8M52.4 40.9h0.8M52.7 39.6h0.8M53.1 42.1h0.8M54.7 41.5h0.8M54.8 43.1h0.8M55.0 42.3h0.8M55.3 42.5h0.8M55.3 42.9h0.8M56.4 43.5h0.8M35.1 50.7h0.8M35.5 48.8h0.8M35.8 51.4h0.8M36.3 45.9h0.8M36.3 50.1h0.8M36.7 51.0h0.8M37.3 48.4h0.8M37.4 47.1h0.8M37.4 51.3h0.8M38.0 51.2h0.8M38.0 50.7h0.8M38.0 50.0h0.8M38.1 50.8h0.8M38.2 50.7h0.8M38.3 46.9h0.8M38.5 50.8h0.8M38.7 51.1h0.8M39.2 46.5h0.8M39.5 50.0h0.8M39.7 49.1h0.8M40.1 46.2h0.8M40.2 46.2h0.8M40.6 47.1h0.8M40.7 46.5h0.8M40.7 49.3h0.8M41.2 45.9h0.8M41.4 46.5h0.8M42.2 47.3h0.8M42.5 49.1h0.8M42.8 46.1h0.8M44.6 46.3h0.8M45.5 47.4h0.8M47.4 48.9h0.8M48.2 47.4h0.8M48.3 46.2h0.8M34.9 52.9h0.8M35.0 54.3h0.8M35.1 52.1h0.8M35.6 53.4h0.8M35.7 52.8h0.8M36.0 52.9h0.8M36.1 52.5h0.8M36.4 52.5h0.8M36.5 52.5h0.8M36.7 54.5h0.8M36.8 52.1h0.8M37.1 51.7h0.8M37.3 52.1h0.8M37.5 53.7h0.8M37.6 51.8h0.8M37.6 52.8h0.8M37.7 53.3h0.8M37.8 52.9h0.8M37.8 52.8h0.8M37.9 51.8h0.8M38.0 51.5h0.8M38.1 53.2h0.8M38.2 52.0h0.8M38.3 52.4h0.8M38.4 53.0h0.8M38.5 52.1h0.8M38.8 53.4h0.8M38.9 52.5h0.8M48.1 51.4h0.8"/><path stroke="#e06ee8" d="M127.2 93.4h0.8M129.6 92.5h0.8M130.3 92.0h0.8M131.5 92.3h0.8M131.7 92.7h0.8M119.2 99.3h0.8M121.4 98.8h0.8M122.8 97.3h0.8M122.9 98.4h0.8M123.2 97.6h0.8M123.3 98.0h0.8M123.6 95.7h0.8M124.3 96.4h0.8M124.4 96.8h0.8M125.8 98.5h0.8M126.1 95.3h0.8M126.2 96.9h0.8M126.4 98.5h0.8M126.7 96.8h0.8M126.9 95.2h0.8M127.3 95.4h0.8M127.6 99.3h0.8M128.3 94.7h0.8M128.6 97.1h0.8M129.3 97.1h0.8M129.3 93.8h0.8M129.6 96.0h0.8M129.7 97.7h0.8M130.1 96.8h0.8M130.4 95.5h0.8M131.7 97.7h0.8M133.9 97.9h0.8M134.4 98.4h0.8M134.8 95.1h0.8M135.7 95.6h0.8M108.6 105.3h0.8M111.2 103.9h0.8M112.9 103.4h0.8M113.6 104.7h0.8M115.6 101.7h0.8M115.8 102.5h0.8M116.6 100.9h0.8M116.7 100.2h0.8M116.8 102.5h0.8M117.5 101.8h0.8M117.6 102.3h0.8M117.8 104.6h0.8M117.9 105.1h0.8M117.9 102.8h0.8M118.3 103.7h0.8M118.4 104.7h0.8M118.5 101.2h0.8M118.6 102.7h0.8M118.6 99.5h0.8M118.8 100.7h0.8M118.8 102.2h0.8M118.9 104.4h0.8M119.0 102.5h0.8M119.1 102.3h0.8M119.2 102.1h0.8M119.4 101.8h0.8M119.5 102.2h0.8M119.5 100.8h0.8M119.8 99.6h0.8M120.0 101.0h0.8M120.2 104.9h0.8M120.5 101.7h0.8M121.3 102.6h0.8M121.9 102.1h0.8M122.5 99.5h0.8M122.6 100.3h0.8M122.7 101.2h0.8M123.3 104.6h0.8M123.4 104.9h0.8M123.5 101.0h0.8M123.5 103.2h0.8M123.6 100.8h0.8M124.0 104.8h0.8M124.5 99.9h0.8M126.1 101.8h0.8M127.0 104.9h0.8M129.3 99.5h0.8M130.7 101.1h0.8M96.6 110.8h0.8M97.6 111.3h0.8M99.1 110.8h0.8M99.7 111.2h0.8M100.0 110.0h0.8M100.4 109.8h0.8M100.8 109.7h0.8M101.2 109.8h0.8M102.4 108.9h0.8M102.6 109.6h0.8M105.3 111.2h0.8M105.7 108.7h0.8M106.1 107.1h0.8M107.0 106.7h0.8M108.7 109.8h0.8M109.3 111.0h0.8M109.5 106.1h0.8M109.8 107.7h0.8M109.9 106.2h0.8M109.9 106.2h0.8M110.1 107.7h0.8M110.2 108.0h0.8M110.5 107.3h0.8M110.7 109.1h0.8M111.1 108.9h0.8M111.2 108.5h0.8M111.3 107.3h0.8M111.6 107.2h0.8M111.8 105.5h0.8M111.9 109.1h0.8M112.1 106.7h0.8M112.4 108.7h0.8M112.5 106.7h0.8M112.5 107.1h0.8M112.6 106.9h0.8M112.6 107.8h0.8M112.6 108.6h0.8M112.7 106.5h0.8M112.7 107.4h0.8M113.1 108.3h0.8M113.1 106.1h0.8M113.3 107.3h0.8M113.7 110.5h0.8M114.0 110.1h0.8M114.0 106.7h0.8M114.3 106.8h0.8M114.9 110.0h0.8M115.2 106.1h0.8M115.6 107.1h0.8M116.3 105.4h0.8M117.6 105.8h0.8M117.8 106.0h0.8M118.1 106.0h0.8M118.2 107.0h0.8M118.3 106.6h0.8M118.3 107.9h0.8M118.4 106.4h0.8M118.5 106.2h0.8M118.9 105.9h0.8M119.1 106.3h0.8M119.2 109.1h0.8M119.4 109.0h0.8M119.8 105.9h0.8M120.2 108.7h0.8M120.7 105.8h0.8M122.3 107.9h0.8M125.4 105.9h0.8M93.5 116.8h0.8M93.7 114.6h0.8M93.9 114.7h0.8M93.9 117.3h0.8M94.0 117.3h0.8M94.1 116.1h0.8M94.2 116.4h0.8M94.3 116.0h0.8M94.3 115.9h0.8M94.4 112.9h0.8M94.6 115.7h0.8M94.7 113.9h0.8M95.0 117.1h0.8M95.5 113.2h0.8M95.5 113.7h0.8M95.7 117.1h0.8M95.8 116.6h0.8M96.6 115.1h0.8M96.6 117.3h0.8M97.0 117.2h0.8M97.0 113.1h0.8M97.0 112.3h0.8M97.2 112.4h0.8M97.2 115.1h0.8M97.3 115.9h0.8M97.4 116.1h0.8M97.4 115.9h0.8M97.6 117.1h0.8M97.8 116.5h0.8M97.8 117.4h0.8M98.0 113.2h0.8M98.2 115.4h0.8M98.4 116.9h0.8M98.5 114.1h0.8M98.9 112.9h0.8M99.0 111.8h0.8M99.0 115.0h0.8M99.3 112.4h0.8M99.6 116.2h0.8M99.9 113.0h0.8M100.8 113.4h0.8M101.2 113.7h0.8M101.4 114.1h0.8M102.0 116.3h0.8M103.0 113.0h0.8M103.2 117.2h0.8M103.3 114.8h0.8M103.6 115.1h0.8M103.8 114.0h0.8M104.9 115.8h0.8M105.0 114.7h0.8M105.6 113.1h0.8M105.9 111.8h0.8M106.0 112.8h0.8M106.6 115.1h0.8M106.7 114.1h0.8M109.0 113.1h0.8M109.0 115.3h0.8M109.5 112.9h0.8M110.1 112.0h0.8M110.2 112.4h0.8M115.9 111.6h0.8M92.4 119.0h0.8M92.7 118.7h0.8M93.6 118.3h0.8M94.0 117.8h0.8M94.0 117.4h0.8M94.1 117.7h0.8M94.3 118.2h0.8M94.7 118.2h0.8M95.0 119.2h0.8M95.4 118.5h0.8M96.1 119.2h0.8M96.1 117.4h0.8M96.2 118.3h0.8M96.2 120.2h0.8M97.7 118.7h0.8M97.9 118.5h0.8M98.3 119.4h0.8M103.0 117.5h0.8"/><path stroke="#55b04e" d="M95.6 74.2h0.8M95.8 74.9h0.8M96.3 74.7h0.8M96.9 75.1h0.8M99.5 73.0h0.8M100.2 72.2h0.8M100.6 70.3h0.8M100.7 75.3h0.8M102.1 73.0h0.8M102.2 74.3h0.8M89.1 80.0h0.8M90.7 79.7h0.8M91.6 79.3h0.8M91.6 78.6h0.8M92.0 81.2h0.8M92.1 79.0h0.8M92.4 77.7h0.8M92.5 77.8h0.8M92.6 79.4h0.8M92.6 77.9h0.8M93.2 79.8h0.8M93.3 81.2h0.8M93.5 80.9h0.8M94.0 79.4h0.8M94.1 78.1h0.8M94.3 80.8h0.8M94.8 76.9h0.8M94.8 81.2h0.8M96.3 78.1h0.8M96.4 76.1h0.8M96.4 78.0h0.8M96.8 75.7h0.8M96.9 79.3h0.8M97.2 80.7h0.8M97.8 76.9h0.8M97.9 79.3h0.8M97.9 77.0h0.8M98.0 77.0h0.8M98.0 79.0h0.8M98.0 80.3h0.8M98.2 78.0h0.8M98.4 77.7h0.8M98.4 77.3h0.8M98.4 79.0h0.8M98.4 80.9h0.8M98.5 77.3h0.8M98.6 78.4h0.8M98.7 75.4h0.8M98.9 76.5h0.8M98.9 77.4h0.8M98.9 76.7h0.8M99.2 76.4h0.8M99.3 78.8h0.8M99.5 79.5h0.8M99.5 78.2h0.8M99.5 78.1h0.8M99.6 78.0h0.8M99.7 77.0h0.8M100.0 76.4h0.8M100.1 77.1h0.8M100.1 75.8h0.8M100.4 75.6h0.8M100.7 76.2h0.8M100.7 76.2h0.8M101.0 79.3h0.8M101.1 77.3h0.8M101.2 76.7h0.8M101.3 77.4h0.8M101.6 76.5h0.8M101.8 75.8h0.8M103.2 75.6h0.8M76.2 85.3h0.8M77.0 86.4h0.8M77.6 86.4h0.8M78.7 83.9h0.8M79.3 82.8h0.8M79.9 84.7h0.8M80.4 84.6h0.8M80.5 85.1h0.8M81.3 84.4h0.8M81.3 84.0h0.8M81.3 83.0h0.8M81.4 85.0h0.8M81.4 84.9h0.8M81.5 86.3h0.8M81.7 84.2h0.8M81.8 85.0h0.8M82.0 85.3h0.8M82.3 85.2h0.8M82.6 83.6h0.8M82.7 82.5h0.8M82.7 82.9h0.8M82.9 86.1h0.8M82.9 87.3h0.8M83.4 83.0h0.8M83.4 87.0h0.8M83.5 86.1h0.8M83.6 82.8h0.8M83.9 85.5h0.8M84.1 85.0h0.8M84.3 87.0h0.8M84.3 85.2h0.8M84.4 87.0h0.8M84.6 85.2h0.8M84.7 86.9h0.8M85.7 81.7h0.8M86.4 86.3h0.8M86.8 85.5h0.8M87.0 87.1h0.8M87.5 86.3h0.8M88.3 81.7h0.8M88.4 86.1h0.8M89.2 83.1h0.8M89.5 84.3h0.8M89.7 86.5h0.8M90.8 83.1h0.8M91.1 86.5h0.8M91.3 86.7h0.8M91.9 85.2h0.8M92.1 85.8h0.8M92.1 85.9h0.8M92.1 86.5h0.8M92.1 86.1h0.8M92.4 86.3h0.8M92.4 87.0h0.8M92.6 86.2h0.8M93.1 86.3h0.8M93.2 83.2h0.8M93.3 85.5h0.8M93.4 86.1h0.8M93.9 83.9h0.8M94.0 86.0h0.8M94.2 86.3h0.8M94.7 83.2h0.8M95.4 83.8h0.8M44.9 93.1h0.8M47.0 91.1h0.8M50.3 92.8h0.8M51.4 93.4h0.8M55.1 93.2h0.8M55.4 92.7h0.8M60.5 91.7h0.8M60.8 89.7h0.8M62.8 91.8h0.8M63.0 93.0h0.8M66.1 91.8h0.8M66.5 90.0h0.8M66.6 93.3h0.8M67.0 90.5h0.8M67.3 90.8h0.8M67.8 90.4h0.8M69.8 91.3h0.8M70.8 90.6h0.8M71.1 88.4h0.8M71.4 88.9h0.8M71.8 89.6h0.8M72.0 91.5h0.8M72.9 90.1h0.8M73.9 90.2h0.8M74.0 91.2h0.8M74.4 92.4h0.8M75.0 89.9h0.8M75.1 91.1h0.8M75.4 92.6h0.8M75.6 90.7h0.8M75.6 88.3h0.8M76.2 90.8h0.8M76.7 89.1h0.8M76.7 90.6h0.8M76.9 92.3h0.8M77.0 90.8h0.8M77.0 90.9h0.8M77.0 91.4h0.8M77.1 90.4h0.8M77.2 91.7h0.8M77.4 90.2h0.8M77.6 90.7h0.8M77.6 88.6h0.8M77.8 88.5h0.8M77.8 89.9h0.8M78.0 92.0h0.8M78.1 92.8h0.8M78.1 91.7h0.8M78.2 89.0h0.8M78.6 91.3h0.8M79.1 88.7h0.8M79.4 93.0h0.8M79.4 92.2h0.8M79.7 92.7h0.8M80.2 89.0h0.8M80.8 91.6h0.8M81.0 89.1h0.8M82.0 88.7h0.8M82.4 92.6h0.8M82.5 93.1h0.8M83.8 87.9h0.8M84.6 88.6h0.8M84.9 91.7h0.8M85.4 89.0h0.8M86.7 88.3h0.8M87.0 89.7h0.8M87.2 89.3h0.8M87.6 89.4h0.8M88.1 89.2h0.8M88.5 89.1h0.8M88.6 87.5h0.8M90.2 88.0h0.8M90.8 87.6h0.8M91.8 87.8h0.8M91.8 89.7h0.8M94.1 88.4h0.8M42.5 94.1h0.8M45.1 95.5h0.8M45.4 93.5h0.8M47.2 93.7h0.8M48.4 97.8h0.8M48.6 93.6h0.8M49.3 94.2h0.8M49.4 97.3h0.8M49.5 97.6h0.8M49.6 93.8h0.8M49.6 96.2h0.8M49.7 93.8h0.8M50.0 94.0h0.8M50.2 94.2h0.8M50.2 97.6h0.8M50.2 97.5h0.8M50.4 97.0h0.8M50.4 97.7h0.8M50.7 95.4h0.8M51.0 97.0h0.8M51.3 94.3h0.8M51.4 95.4h0.8M51.5 97.9h0.8M51.6 96.0h0.8M51.7 96.0h0.8M51.8 97.5h0.8M52.1 94.1h0.8M52.3 98.7h0.8M52.4 95.1h0.8M52.8 94.3h0.8M53.0 97.1h0.8M53.1 95.9h0.8M53.1 98.4h0.8M53.2 95.5h0.8M53.8 95.2h0.8M54.0 94.6h0.8M54.6 95.2h0.8M54.6 96.7h0.8M55.0 93.5h0.8M55.7 97.5h0.8M55.8 96.8h0.8M55.9 96.2h0.8M55.9 95.0h0.8M56.0 95.4h0.8M56.3 94.7h0.8M56.9 94.4h0.8M57.2 94.0h0.8M57.4 95.8h0.8M57.9 94.5h0.8M58.7 97.8h0.8M58.8 95.2h0.8M59.2 95.7h0.8M59.8 99.4h0.8M60.0 98.9h0.8M60.1 96.2h0.8M60.3 98.5h0.8M60.6 94.8h0.8M61.5 97.8h0.8M61.6 95.7h0.8M62.0 95.7h0.8M62.1 98.3h0.8M62.6 95.9h0.8M64.2 98.5h0.8M64.6 96.3h0.8M65.7 95.2h0.8M67.3 93.7h0.8M67.5 95.0h0.8M67.7 93.4h0.8M67.8 95.5h0.8M69.1 98.7h0.8M69.7 98.0h0.8M69.8 96.5h0.8M70.2 96.7h0.8M70.3 94.0h0.8M70.4 95.6h0.8M70.5 96.0h0.8M70.7 98.0h0.8M71.0 95.2h0.8M71.0 96.6h0.8M71.4 94.0h0.8M71.5 96.4h0.8M72.2 95.6h0.8M72.2 95.3h0.8M72.4 95.5h0.8M72.7 96.0h0.8M72.9 95.5h0.8M73.4 95.2h0.8M73.8 94.8h0.8M74.1 95.1h0.8M74.2 96.1h0.8M74.2 95.3h0.8M74.3 94.1h0.8M74.5 96.3h0.8M75.1 93.7h0.8M75.1 93.8h0.8M75.5 93.7h0.8M75.6 95.6h0.8M75.7 93.8h0.8M75.7 93.7h0.8M75.9 95.3h0.8M77.3 93.9h0.8M77.6 93.6h0.8M78.0 93.7h0.8M78.1 93.8h0.8M79.8 94.2h0.8M79.9 94.0h0.8M54.5 99.4h0.8M55.3 100.1h0.8M57.8 99.9h0.8"/><path stroke="#6b3232" d="M101.2 90.9h0.8M103.4 88.5h0.8M103.8 90.2h0.8M105.0 88.7h0.8M105.5 89.4h0.8M105.8 89.4h0.8M105.9 89.9h0.8M106.1 89.7h0.8M106.3 89.2h0.8M106.9 89.4h0.8M108.4 89.0h0.8M108.4 89.7h0.8M108.5 91.4h0.8M108.7 90.9h0.8M83.1 98.7h0.8M83.9 98.7h0.8M85.5 98.4h0.8M93.4 99.3h0.8M77.9 100.5h0.8M78.1 100.2h0.8M78.4 100.1h0.8M78.6 100.8h0.8M79.5 100.5h0.8M79.7 103.7h0.8M80.8 105.0h0.8M81.2 100.3h0.8M82.0 104.0h0.8M82.2 99.8h0.8M83.8 99.4h0.8M84.7 99.7h0.8M84.9 100.1h0.8M85.0 103.1h0.8M88.2 104.1h0.8M88.2 103.6h0.8M88.4 104.8h0.8M88.8 104.8h0.8M89.0 100.7h0.8M89.1 104.1h0.8M89.1 104.4h0.8M89.3 105.3h0.8M89.4 104.7h0.8M89.8 104.0h0.8M90.2 101.2h0.8M90.5 102.9h0.8M90.8 99.7h0.8M92.3 102.9h0.8M92.4 102.9h0.8M93.2 103.8h0.8M96.8 104.8h0.8M82.4 105.7h0.8M83.1 108.2h0.8M84.4 109.4h0.8M84.7 108.2h0.8M84.7 106.5h0.8M85.2 108.2h0.8M86.7 109.2h0.8M87.0 108.1h0.8M87.2 106.8h0.8M87.4 106.6h0.8M87.5 107.3h0.8M87.7 107.6h0.8M87.8 107.8h0.8M87.9 107.2h0.8M88.2 106.5h0.8M88.4 106.0h0.8M88.8 106.4h0.8M88.8 106.5h0.8M89.3 105.5h0.8M89.4 107.5h0.8M89.5 108.4h0.8M89.5 109.0h0.8M89.9 105.7h0.8M90.0 108.5h0.8M91.0 108.1h0.8M91.0 107.5h0.8M93.2 110.0h0.8M93.5 109.0h0.8M96.0 107.5h0.8M96.2 106.6h0.8"/><path stroke="#e8602e" d="M29.9 54.7h0.8M34.0 55.4h0.8M34.2 54.2h0.8M34.5 56.5h0.8M34.7 57.1h0.8M34.9 54.0h0.8M35.5 54.9h0.8M35.8 53.9h0.8M35.8 56.0h0.8M35.9 54.1h0.8M36.2 55.9h0.8M37.6 53.4h0.8M38.3 53.8h0.8M38.5 57.1h0.8M38.5 54.8h0.8M39.2 56.7h0.8M40.1 54.5h0.8M40.1 54.8h0.8M40.1 54.1h0.8M40.6 55.2h0.8M40.8 56.7h0.8M41.0 54.8h0.8M43.6 56.5h0.8M28.9 57.5h0.8M30.0 59.8h0.8M30.1 58.4h0.8M30.8 62.5h0.8M30.9 60.4h0.8M31.3 62.7h0.8M31.7 58.2h0.8M32.1 61.2h0.8M32.2 60.8h0.8M32.3 60.2h0.8M32.3 59.9h0.8M32.6 62.1h0.8M32.7 61.3h0.8M32.9 60.4h0.8M32.9 61.3h0.8M33.0 61.3h0.8M33.2 63.3h0.8M33.2 61.4h0.8M33.3 59.4h0.8M33.3 58.8h0.8M33.5 59.2h0.8M33.9 61.2h0.8M34.2 60.4h0.8M34.3 58.8h0.8M34.3 61.0h0.8M34.3 62.2h0.8M34.6 61.5h0.8M34.7 61.5h0.8M34.7 62.5h0.8M34.7 62.5h0.8M34.9 61.5h0.8M34.9 60.8h0.8M35.0 62.3h0.8M35.0 62.4h0.8M35.3 63.2h0.8M35.6 58.0h0.8M35.6 61.5h0.8M35.8 62.1h0.8M36.1 63.2h0.8M36.5 61.5h0.8M36.6 61.1h0.8M37.0 60.2h0.8M37.0 63.0h0.8M37.7 59.0h0.8M38.1 62.3h0.8M38.1 63.4h0.8M38.8 58.5h0.8M38.9 59.8h0.8M39.3 61.5h0.8M39.6 60.2h0.8M40.2 58.6h0.8M41.1 59.4h0.8M42.8 59.2h0.8M43.0 61.4h0.8M44.3 62.2h0.8M29.6 68.1h0.8M30.8 67.5h0.8M30.9 65.7h0.8M32.2 67.2h0.8M32.2 67.8h0.8M32.9 65.0h0.8M33.2 65.0h0.8M33.3 67.1h0.8M33.5 68.2h0.8M33.8 63.6h0.8M34.1 67.6h0.8M34.3 64.3h0.8M34.8 66.8h0.8M35.3 65.5h0.8M35.4 65.9h0.8M35.4 64.8h0.8M35.8 69.0h0.8M35.9 68.6h0.8M36.5 67.3h0.8M36.8 64.1h0.8M36.8 66.9h0.8M36.9 68.9h0.8M36.9 66.9h0.8M36.9 64.4h0.8M36.9 66.7h0.8M37.1 65.1h0.8M37.2 68.0h0.8M37.2 65.7h0.8M37.4 68.7h0.8M37.8 65.3h0.8M37.8 64.0h0.8M37.9 66.7h0.8M38.1 65.5h0.8M38.1 65.4h0.8M38.4 65.5h0.8M38.4 68.6h0.8M38.7 69.1h0.8M39.6 67.9h0.8M39.8 69.3h0.8M39.9 66.6h0.8M40.2 66.6h0.8M41.2 65.4h0.8M41.6 64.0h0.8M41.8 69.0h0.8M42.2 66.7h0.8M42.4 66.6h0.8M44.3 68.7h0.8M33.2 72.9h0.8M33.8 72.0h0.8M35.2 74.9h0.8M35.2 72.7h0.8M35.7 72.1h0.8M36.5 74.8h0.8M36.5 75.2h0.8M36.7 72.0h0.8M37.2 72.5h0.8M37.4 71.6h0.8M37.6 74.0h0.8M39.2 75.0h0.8M42.3 73.4h0.8M42.6 73.6h0.8M42.9 74.4h0.8"/><path stroke="#66c095" d="M113.3 56.5h0.8M116.2 56.0h0.8M118.8 57.0h0.8M119.9 56.0h0.8M124.2 56.7h0.8M107.9 63.4h0.8M110.4 63.2h0.8M111.1 60.6h0.8M111.4 61.0h0.8M111.4 61.2h0.8M111.7 60.8h0.8M111.9 62.2h0.8M112.2 62.1h0.8M112.4 61.1h0.8M113.6 61.9h0.8M114.5 60.4h0.8M115.3 62.8h0.8M116.0 62.3h0.8M117.4 63.0h0.8M117.5 59.3h0.8M117.7 62.5h0.8M117.8 58.8h0.8M118.7 62.1h0.8M119.5 62.3h0.8M119.6 62.7h0.8M119.7 60.9h0.8M119.8 59.4h0.8M120.1 63.0h0.8M120.3 61.1h0.8M121.0 61.4h0.8M121.3 61.5h0.8M121.9 61.3h0.8M122.1 61.4h0.8M122.1 62.9h0.8M122.6 60.6h0.8M123.0 63.0h0.8M123.2 60.0h0.8M123.7 62.2h0.8M124.0 58.3h0.8M124.1 60.4h0.8M124.8 61.0h0.8M101.8 68.7h0.8M102.8 68.4h0.8M102.8 68.7h0.8M102.9 69.1h0.8M104.6 69.4h0.8M104.8 68.7h0.8M105.1 67.6h0.8M105.5 69.1h0.8M106.8 67.7h0.8M106.9 66.4h0.8M106.9 69.3h0.8M107.2 67.7h0.8M107.3 65.3h0.8M107.3 68.7h0.8M107.8 67.9h0.8M107.9 69.3h0.8M107.9 68.2h0.8M108.6 67.2h0.8M109.2 64.3h0.8M109.3 68.0h0.8M109.8 64.4h0.8M109.9 67.4h0.8M111.6 65.1h0.8M111.7 67.0h0.8M111.7 64.2h0.8M112.0 63.5h0.8M112.0 66.7h0.8M112.2 67.9h0.8M112.4 66.1h0.8M112.6 66.9h0.8M112.6 67.8h0.8M113.1 68.0h0.8M113.5 69.3h0.8M114.3 63.7h0.8M114.9 67.3h0.8M115.1 66.0h0.8M115.4 65.2h0.8M115.4 63.4h0.8M115.9 65.1h0.8M115.9 64.9h0.8M116.1 68.6h0.8M116.5 64.4h0.8M116.6 64.1h0.8M116.6 64.4h0.8M116.8 64.8h0.8M117.4 64.7h0.8M117.4 66.6h0.8M117.7 64.2h0.8M117.9 65.2h0.8M118.3 66.0h0.8M118.4 67.2h0.8M118.6 63.5h0.8M118.6 64.9h0.8M119.1 63.9h0.8M119.1 64.1h0.8M119.1 63.6h0.8M119.2 63.9h0.8M119.7 63.7h0.8M119.7 66.4h0.8M119.8 64.8h0.8M119.9 64.5h0.8M120.5 65.4h0.8M121.8 64.4h0.8M122.0 63.9h0.8M123.0 63.6h0.8M96.2 75.1h0.8M97.0 74.4h0.8M97.1 74.9h0.8M97.5 74.5h0.8M97.5 72.5h0.8M98.6 74.2h0.8M98.8 72.5h0.8M99.8 73.6h0.8M100.1 71.2h0.8M101.0 70.8h0.8M101.3 72.2h0.8M101.3 71.8h0.8M101.5 72.2h0.8M101.6 73.9h0.8M101.9 69.9h0.8M102.1 71.3h0.8M102.4 69.8h0.8M102.6 71.1h0.8M103.7 69.8h0.8M103.8 69.7h0.8M103.9 70.7h0.8M104.0 70.7h0.8M104.1 71.4h0.8M104.5 72.7h0.8M105.1 73.1h0.8M105.2 73.3h0.8M105.3 69.8h0.8M105.7 70.2h0.8M105.9 71.6h0.8M105.9 72.3h0.8M106.0 74.4h0.8M106.1 69.7h0.8M106.1 69.7h0.8M106.3 69.7h0.8M106.4 72.3h0.8M106.5 72.5h0.8M106.5 71.2h0.8M106.7 69.9h0.8M106.8 74.0h0.8M107.2 69.8h0.8M107.3 75.0h0.8M107.4 69.7h0.8M107.4 74.9h0.8M107.6 75.4h0.8M107.8 71.2h0.8M107.8 69.5h0.8M107.8 74.4h0.8M107.9 69.5h0.8M108.0 74.6h0.8M108.1 69.7h0.8M108.2 71.8h0.8M108.5 70.7h0.8M108.6 73.4h0.8M108.9 70.7h0.8M109.1 73.9h0.8M109.7 70.0h0.8M109.8 72.3h0.8M109.8 70.4h0.8M110.1 73.2h0.8M111.0 70.4h0.8M111.4 69.6h0.8M111.7 70.8h0.8M112.1 71.7h0.8M112.6 70.8h0.8M113.9 70.9h0.8M115.3 69.5h0.8M94.4 78.2h0.8M95.3 78.3h0.8M95.5 75.5h0.8M96.0 78.4h0.8M96.1 77.3h0.8M96.5 77.0h0.8M96.7 78.3h0.8M96.9 77.8h0.8M97.2 77.1h0.8M97.3 76.5h0.8M97.4 79.1h0.8M97.4 79.3h0.8M97.7 77.7h0.8M97.7 78.4h0.8M97.8 76.7h0.8M97.9 78.9h0.8M98.2 78.5h0.8M98.6 78.9h0.8M98.6 78.0h0.8M98.9 78.3h0.8M99.2 76.0h0.8M99.3 77.5h0.8M99.9 79.5h0.8M100.4 77.7h0.8M100.9 78.0h0.8M101.7 76.3h0.8M103.4 77.2h0.8M104.5 76.0h0.8"/><path stroke="#e82020" d="M39.5 108.8h0.8M39.5 111.0h0.8M39.9 111.1h0.8M40.0 110.4h0.8M41.9 113.1h0.8"/></g>
<text x="86.0" y="23.0" font-size="6.7" text-anchor="middle" fill="#222" stroke="#222" stroke-width="0.12">1</text>
<text x="54.4" y="38.9" font-size="6.7" text-anchor="middle" fill="#222" stroke="#222" stroke-width="0.12">2</text>
<text x="35.3" y="67.7" font-size="6.7" text-anchor="middle" fill="#222" stroke="#222" stroke-width="0.12">3</text>
<text x="64.3" y="70.5" font-size="6.7" text-anchor="middle" fill="#222" stroke="#222" stroke-width="0.12">4</text>
<text x="46.9" y="85.3" font-size="6.7" text-anchor="middle" fill="#222" stroke="#222" stroke-width="0.12">5</text>
<text x="71.5" y="92.2" font-size="6.7" text-anchor="middle" fill="#222" stroke="#222" stroke-width="0.12">6</text>
<text x="88.4" y="52.9" font-size="6.7" text-anchor="middle" fill="#222" stroke="#222" stroke-width="0.12">7</text>
<text x="109.8" y="69.3" font-size="6.7" text-anchor="middle" fill="#222" stroke="#222" stroke-width="0.12">8</text>
<text x="129.7" y="80.1" font-size="6.7" text-anchor="middle" fill="#222" stroke="#222" stroke-width="0.12">9</text>
<text x="112.4" y="107.5" font-size="6.7" text-anchor="middle" fill="#222" stroke="#222" stroke-width="0.12">10</text>
<text x="93.0" y="123.7" font-size="6.7" text-anchor="middle" fill="#222" stroke="#222" stroke-width="0.12">11</text>
<text x="66.0" y="121.5" font-size="6.7" text-anchor="middle" fill="#222" stroke="#222" stroke-width="0.12">12</text>
<text x="87.6" y="102.6" font-size="6.7" text-anchor="middle" fill="#222" stroke="#222" stroke-width="0.12">14</text>
<text x="39.5" y="114.5" font-size="6.7" text-anchor="middle" fill="#222" stroke="#222" stroke-width="0.12">15</text>
<text x="124.0" y="34.5" font-size="6.7" text-anchor="middle" fill="#222" stroke="#222" stroke-width="0.12">15</text>
<path d="M23.6,139 V14 M146,139 H23.6" fill="none" stroke="#8a8a8a" stroke-width="0.6"/>
<path d="M22.5,15 L23.6,12 L24.7,15 Z M145,137.9 L148,139 L145,140.1 Z" fill="#777"/>
<text transform="translate(21.5,75) rotate(-90)" font-size="3.5" text-anchor="middle" fill="#333" text-rendering="geometricPrecision">tSNE2</text>
<text x="85.6" y="143.4" font-size="3.5" text-anchor="middle" fill="#333" text-rendering="geometricPrecision">tSNE1</text>
<circle cx="149.3" cy="49.70" r="0.95" fill="#3a8ad8"/>
<text transform="translate(152.0,51.10) scale(0.38)" font-size="10" fill="#555" text-rendering="geometricPrecision">1</text>
<circle cx="149.3" cy="53.49" r="0.95" fill="#f0766c"/>
<text transform="translate(152.0,54.89) scale(0.38)" font-size="10" fill="#555" text-rendering="geometricPrecision">2</text>
<circle cx="149.3" cy="57.28" r="0.95" fill="#e8521e"/>
<text transform="translate(152.0,58.68) scale(0.38)" font-size="10" fill="#555" text-rendering="geometricPrecision">3</text>
<circle cx="149.3" cy="61.07" r="0.95" fill="#f07a2c"/>
<text transform="translate(152.0,62.47) scale(0.38)" font-size="10" fill="#555" text-rendering="geometricPrecision">4</text>
<circle cx="149.3" cy="64.86" r="0.95" fill="#d8a040"/>
<text transform="translate(152.0,66.26) scale(0.38)" font-size="10" fill="#555" text-rendering="geometricPrecision">5</text>
<circle cx="149.3" cy="68.65" r="0.95" fill="#30a030"/>
<text transform="translate(152.0,70.05) scale(0.38)" font-size="10" fill="#555" text-rendering="geometricPrecision">6</text>
<circle cx="149.3" cy="72.44" r="0.95" fill="#20a040"/>
<text transform="translate(152.0,73.84) scale(0.38)" font-size="10" fill="#555" text-rendering="geometricPrecision">7</text>
<circle cx="149.3" cy="76.23" r="0.95" fill="#20b070"/>
<text transform="translate(152.0,77.63) scale(0.38)" font-size="10" fill="#555" text-rendering="geometricPrecision">8</text>
<circle cx="149.3" cy="80.02" r="0.95" fill="#c060f0"/>
<text transform="translate(152.0,81.42) scale(0.38)" font-size="10" fill="#555" text-rendering="geometricPrecision">9</text>
<circle cx="149.3" cy="83.81" r="0.95" fill="#e040f0"/>
<text transform="translate(152.0,85.21) scale(0.38)" font-size="10" fill="#555" text-rendering="geometricPrecision">10</text>
<circle cx="149.3" cy="87.60" r="0.95" fill="#f040d0"/>
<text transform="translate(152.0,89.00) scale(0.38)" font-size="10" fill="#555" text-rendering="geometricPrecision">11</text>
<circle cx="149.3" cy="91.39" r="0.95" fill="#e85090"/>
<text transform="translate(152.0,92.79) scale(0.38)" font-size="10" fill="#555" text-rendering="geometricPrecision">12</text>
<circle cx="149.3" cy="95.18" r="0.95" fill="#6050a0"/>
<text transform="translate(152.0,96.58) scale(0.38)" font-size="10" fill="#555" text-rendering="geometricPrecision">13</text>
<circle cx="149.3" cy="98.97" r="0.95" fill="#602020"/>
<text transform="translate(152.0,100.37) scale(0.38)" font-size="10" fill="#555" text-rendering="geometricPrecision">14</text>
<circle cx="149.3" cy="102.76" r="0.95" fill="#f00000"/>
<text transform="translate(152.0,104.16) scale(0.38)" font-size="10" fill="#555" text-rendering="geometricPrecision">15</text>
<g fill="none" stroke-width="0.8" opacity="0.62"><path stroke="#e06a30" d="M88.5 176.6h0.8M89.3 176.7h0.8M91.2 174.4h0.8M68.3 183.2h0.8M69.6 182.6h0.8M70.6 182.6h0.8M74.7 180.9h0.8M75.0 182.3h0.8M75.9 182.2h0.8M75.9 183.0h0.8M76.4 182.2h0.8M76.7 182.3h0.8M76.7 182.7h0.8M77.0 182.2h0.8M77.5 183.2h0.8M77.5 181.7h0.8M77.6 182.1h0.8M78.3 183.3h0.8M78.3 181.0h0.8M79.7 181.3h0.8M81.1 182.8h0.8M83.5 178.7h0.8M46.9 188.5h0.8M53.6 189.1h0.8M56.9 188.0h0.8M59.5 188.1h0.8M60.1 186.6h0.8M61.7 187.3h0.8M62.0 189.3h0.8M63.1 187.4h0.8M63.5 185.9h0.8M64.1 188.4h0.8M64.2 186.5h0.8M65.6 187.1h0.8M67.4 186.2h0.8M69.3 183.6h0.8M70.0 185.5h0.8M70.8 186.5h0.8M72.5 185.3h0.8M72.6 185.2h0.8M73.4 187.4h0.8M73.5 186.9h0.8M74.5 183.5h0.8M74.7 184.8h0.8M75.8 184.5h0.8M76.7 183.4h0.8M77.0 183.6h0.8M77.8 184.0h0.8M38.5 195.3h0.8M38.8 195.3h0.8M39.8 194.6h0.8M41.3 195.3h0.8M44.0 195.3h0.8M44.2 194.2h0.8M45.6 194.4h0.8M48.0 191.7h0.8M48.2 193.9h0.8M48.5 193.8h0.8M48.6 190.9h0.8M48.6 192.2h0.8M49.0 194.2h0.8M49.1 192.8h0.8M49.3 192.6h0.8M50.3 195.2h0.8M50.8 189.6h0.8M50.9 193.5h0.8M52.3 194.2h0.8M56.7 191.2h0.8M60.4 189.7h0.8M60.6 192.9h0.8M61.7 190.2h0.8M63.3 192.4h0.8M64.3 190.0h0.8M64.6 189.8h0.8M65.2 191.2h0.8M65.2 189.9h0.8M85.0 194.4h0.8M87.6 194.7h0.8M87.9 192.8h0.8M91.2 193.6h0.8M91.4 194.1h0.8M91.6 193.2h0.8M92.6 194.7h0.8M96.4 195.3h0.8M96.9 192.7h0.8M96.9 192.1h0.8M97.3 190.4h0.8M99.0 192.2h0.8M100.3 193.0h0.8M100.4 193.9h0.8M100.7 193.8h0.8M102.6 193.5h0.8M103.2 193.7h0.8M104.2 192.3h0.8M109.1 195.4h0.8M39.4 197.7h0.8M40.2 196.7h0.8M40.2 196.9h0.8M40.4 197.2h0.8M40.5 200.8h0.8M40.8 197.4h0.8M41.8 195.7h0.8M42.4 195.6h0.8M42.5 200.4h0.8M43.6 197.4h0.8M43.7 199.6h0.8M43.9 198.5h0.8M45.1 195.9h0.8M47.8 196.4h0.8M49.0 196.1h0.8M51.2 197.3h0.8M51.9 199.1h0.8M54.8 197.0h0.8M54.9 197.4h0.8M77.3 200.6h0.8M77.9 198.0h0.8M78.1 198.5h0.8M78.7 200.3h0.8M79.0 197.9h0.8M81.3 200.3h0.8M82.2 197.1h0.8M84.3 199.2h0.8M84.4 197.6h0.8M84.9 199.5h0.8M85.1 200.1h0.8M85.4 200.7h0.8M85.8 200.8h0.8M85.8 201.1h0.8M86.8 197.5h0.8M88.6 195.9h0.8M89.4 199.2h0.8M89.8 200.8h0.8M90.2 199.9h0.8M90.5 199.7h0.8M91.2 198.5h0.8M91.5 196.1h0.8M91.8 201.1h0.8M91.9 196.6h0.8M91.9 201.2h0.8M92.0 197.0h0.8M92.8 200.8h0.8M93.3 197.3h0.8M94.5 195.7h0.8M94.6 201.1h0.8M97.2 196.7h0.8M97.2 199.1h0.8M97.8 199.2h0.8M98.0 196.8h0.8M98.0 199.0h0.8M98.7 195.5h0.8M99.4 200.6h0.8M100.1 200.4h0.8M101.0 200.6h0.8M102.4 199.5h0.8M102.6 199.9h0.8M103.6 196.8h0.8M103.9 200.7h0.8M104.0 198.2h0.8M106.5 195.5h0.8M107.3 197.1h0.8M107.5 199.7h0.8M108.0 200.4h0.8M108.9 199.0h0.8M109.2 199.2h0.8M109.5 200.1h0.8M109.8 198.9h0.8M111.5 198.3h0.8M111.8 198.8h0.8M112.4 200.7h0.8M112.8 200.4h0.8M34.8 206.9h0.8M35.4 203.0h0.8M35.5 207.4h0.8M35.6 206.9h0.8M35.7 205.5h0.8M35.9 206.5h0.8M36.3 206.6h0.8M36.7 206.2h0.8M37.3 205.5h0.8M37.4 206.9h0.8M37.5 207.3h0.8M37.6 206.8h0.8M37.8 205.4h0.8M37.8 204.9h0.8M37.9 207.2h0.8M38.0 206.1h0.8M38.1 206.5h0.8M38.3 207.1h0.8M38.5 205.2h0.8M38.7 206.6h0.8M40.5 203.5h0.8M42.2 203.3h0.8M47.1 203.1h0.8M47.9 201.7h0.8M71.1 206.8h0.8M71.1 205.1h0.8M71.3 204.9h0.8M71.6 206.0h0.8M72.6 204.7h0.8M75.7 207.4h0.8M76.6 202.4h0.8M77.3 206.2h0.8M79.2 203.2h0.8M79.9 201.7h0.8M80.8 206.2h0.8M81.0 203.6h0.8M81.3 201.5h0.8M81.5 203.7h0.8M81.6 205.4h0.8M82.0 202.6h0.8M82.0 206.7h0.8M82.1 202.3h0.8M82.3 203.6h0.8M82.3 206.4h0.8M82.4 201.5h0.8M82.5 202.0h0.8M82.7 202.8h0.8M83.3 203.9h0.8M84.8 201.8h0.8M84.8 206.8h0.8M85.2 201.9h0.8M85.3 206.0h0.8M86.7 202.0h0.8M87.4 203.4h0.8M87.8 205.7h0.8M88.2 203.0h0.8M89.6 202.9h0.8M89.6 204.4h0.8M89.6 202.2h0.8M89.8 201.6h0.8M90.3 204.6h0.8M90.8 204.0h0.8M91.1 203.5h0.8M91.3 204.1h0.8M91.5 203.2h0.8M91.5 206.1h0.8M91.8 205.0h0.8M92.3 202.9h0.8M92.4 202.3h0.8M92.8 204.7h0.8M93.4 202.6h0.8M93.6 205.0h0.8M93.9 203.9h0.8M94.2 205.1h0.8M94.3 205.8h0.8M94.6 204.7h0.8M95.3 203.7h0.8M97.6 204.3h0.8M97.7 204.2h0.8M98.8 202.5h0.8M99.4 202.3h0.8M99.4 205.2h0.8M99.6 202.4h0.8M100.4 201.6h0.8M100.4 203.4h0.8M100.5 202.6h0.8M100.8 204.7h0.8M100.8 202.8h0.8M100.9 202.8h0.8M101.0 203.9h0.8M101.3 203.1h0.8M101.9 202.2h0.8M102.1 202.5h0.8M102.4 201.9h0.8M103.0 205.1h0.8M103.6 205.2h0.8M104.2 206.1h0.8M104.5 204.3h0.8M104.9 203.1h0.8M105.0 206.4h0.8M105.6 201.9h0.8M105.7 203.6h0.8M106.1 206.3h0.8M106.3 203.1h0.8M107.0 203.3h0.8M107.0 206.2h0.8M107.0 202.3h0.8M107.1 204.5h0.8M107.2 204.1h0.8M107.6 207.4h0.8M107.9 203.4h0.8M109.0 201.9h0.8M109.5 205.8h0.8M109.7 202.0h0.8M110.1 204.5h0.8M111.5 206.8h0.8M111.8 206.9h0.8M112.0 205.4h0.8M112.5 206.7h0.8M112.5 206.0h0.8M113.7 204.2h0.8M113.9 207.4h0.8M114.3 205.5h0.8M29.9 208.7h0.8M33.2 213.2h0.8M33.3 212.7h0.8M33.9 209.3h0.8M34.1 208.2h0.8M34.2 212.6h0.8M34.6 211.0h0.8M34.9 208.3h0.8M35.4 208.8h0.8M35.6 207.9h0.8M35.7 209.9h0.8M35.7 208.1h0.8M36.1 209.8h0.8M37.3 207.7h0.8M37.5 207.5h0.8M38.1 207.8h0.8M38.4 208.8h0.8M38.6 212.4h0.8M39.0 210.7h0.8M39.9 208.5h0.8M39.9 208.7h0.8M39.9 208.1h0.8M40.0 212.4h0.8M40.6 210.6h0.8M40.8 208.8h0.8M42.6 213.0h0.8M46.1 210.3h0.8M47.5 211.3h0.8M48.8 211.3h0.8M54.0 211.2h0.8M54.0 211.6h0.8M54.3 211.9h0.8M54.7 209.9h0.8M54.9 211.3h0.8M59.2 210.1h0.8M64.0 212.5h0.8M69.9 208.8h0.8M70.1 208.3h0.8M70.6 208.8h0.8M72.0 212.1h0.8M72.1 209.0h0.8M73.8 208.9h0.8M74.0 209.3h0.8M74.3 209.0h0.8M74.7 213.4h0.8M75.3 211.6h0.8M75.3 213.3h0.8M75.7 209.8h0.8M78.2 212.1h0.8M78.3 209.8h0.8M79.0 210.4h0.8M79.5 208.3h0.8M79.6 207.7h0.8M80.0 209.5h0.8M80.7 210.1h0.8M80.9 209.6h0.8M81.8 208.2h0.8M81.9 212.1h0.8M82.3 212.3h0.8M82.4 207.5h0.8M82.5 209.9h0.8M82.6 213.1h0.8M82.7 211.2h0.8M83.0 210.1h0.8M83.2 212.0h0.8M83.2 211.9h0.8M83.2 210.9h0.8M83.2 212.0h0.8M83.4 210.9h0.8M83.5 208.7h0.8M83.5 210.5h0.8M83.5 212.6h0.8M83.6 212.6h0.8M83.9 210.6h0.8M84.2 210.5h0.8M84.3 210.7h0.8M84.3 209.4h0.8M84.5 211.4h0.8M84.6 210.8h0.8M84.9 211.3h0.8M85.0 212.7h0.8M85.0 212.2h0.8M85.1 212.1h0.8M85.1 208.3h0.8M85.5 211.3h0.8M85.5 211.7h0.8M85.6 208.2h0.8M85.6 212.5h0.8M86.9 210.7h0.8M87.0 210.8h0.8M87.5 212.1h0.8M88.5 208.8h0.8M88.7 211.6h0.8M89.5 209.5h0.8M89.9 211.1h0.8M90.9 212.5h0.8M91.2 212.0h0.8M91.6 207.7h0.8M92.2 209.3h0.8M93.9 212.3h0.8M94.9 211.7h0.8M95.7 209.4h0.8M95.9 207.6h0.8M96.2 208.9h0.8M96.4 213.2h0.8M96.8 212.4h0.8M97.3 212.5h0.8M97.3 213.2h0.8M97.4 207.7h0.8M97.8 207.6h0.8M97.9 212.1h0.8M98.1 213.3h0.8M98.3 211.6h0.8M98.4 210.8h0.8M99.2 209.5h0.8M99.6 208.4h0.8M100.1 212.9h0.8M100.4 212.1h0.8M100.9 208.7h0.8M101.3 208.9h0.8M101.4 210.8h0.8M101.7 210.6h0.8M102.1 208.0h0.8M102.4 208.1h0.8M102.6 210.2h0.8M102.6 207.6h0.8M102.6 210.4h0.8M102.9 208.8h0.8M103.0 209.9h0.8M103.2 210.6h0.8M103.3 211.8h0.8M103.3 211.5h0.8M103.5 212.6h0.8M103.6 209.4h0.8M103.8 212.8h0.8M103.8 209.9h0.8M104.3 213.2h0.8M105.0 209.0h0.8M105.4 207.5h0.8M106.0 207.5h0.8M106.0 212.6h0.8M106.2 211.1h0.8M108.6 212.5h0.8M109.0 208.2h0.8M109.6 211.9h0.8M109.7 207.8h0.8M110.3 209.0h0.8M110.9 209.9h0.8M111.5 208.0h0.8M111.7 208.8h0.8M112.1 207.9h0.8M112.1 208.9h0.8M112.3 208.1h0.8M112.5 210.6h0.8M112.6 208.5h0.8M112.8 208.8h0.8M113.7 207.7h0.8M113.9 209.6h0.8M114.1 208.8h0.8M118.2 213.2h0.8M121.9 211.7h0.8M122.4 211.5h0.8M124.9 213.4h0.8M125.3 212.6h0.8M32.1 214.6h0.8M32.2 214.0h0.8M32.2 213.7h0.8M32.6 215.0h0.8M33.1 216.9h0.8M33.1 215.1h0.8M33.7 217.2h0.8M33.8 215.0h0.8M34.2 214.7h0.8M34.2 215.9h0.8M34.3 217.9h0.8M34.5 215.2h0.8M34.6 216.2h0.8M34.6 216.1h0.8M34.9 216.1h0.8M35.1 216.9h0.8M35.5 215.3h0.8M35.6 215.8h0.8M36.0 216.8h0.8M36.4 214.8h0.8M36.6 217.7h0.8M36.7 218.0h0.8M36.9 216.7h0.8M36.9 218.7h0.8M37.1 219.3h0.8M37.7 218.8h0.8M37.9 219.0h0.8M38.0 216.0h0.8M38.2 219.1h0.8M41.4 217.6h0.8M44.0 215.9h0.8M46.0 214.2h0.8M46.9 218.5h0.8M49.2 218.8h0.8M52.4 218.3h0.8M52.6 214.8h0.8M52.9 218.5h0.8M54.2 215.2h0.8M55.2 216.2h0.8M56.0 214.2h0.8M58.7 218.5h0.8M58.7 215.8h0.8M59.9 214.1h0.8M60.4 218.0h0.8M63.5 217.9h0.8M63.8 218.7h0.8M64.4 214.8h0.8M64.6 215.0h0.8M64.8 214.7h0.8M65.3 219.1h0.8M65.8 219.2h0.8M66.3 214.8h0.8M68.3 219.2h0.8M69.9 217.9h0.8M70.2 216.4h0.8M75.4 214.7h0.8M75.7 213.7h0.8M76.4 215.1h0.8M77.0 213.8h0.8M77.3 214.5h0.8M77.7 214.3h0.8M79.2 215.9h0.8M79.3 215.8h0.8M79.3 213.6h0.8M80.4 214.7h0.8M80.7 217.2h0.8M81.2 215.1h0.8M82.1 216.1h0.8M82.1 214.7h0.8M82.3 215.0h0.8M82.5 213.5h0.8M82.8 219.1h0.8M83.2 218.2h0.8M83.4 216.3h0.8M83.5 213.9h0.8M83.6 216.7h0.8M83.8 213.6h0.8M86.5 219.2h0.8M87.9 215.2h0.8M88.5 215.8h0.8M88.9 217.8h0.8M90.1 218.2h0.8M90.3 215.7h0.8M90.9 214.9h0.8M91.5 216.0h0.8M91.5 214.6h0.8M92.6 216.9h0.8M93.6 216.3h0.8M94.7 215.5h0.8M95.1 215.4h0.8M95.3 215.4h0.8M95.7 213.6h0.8M96.6 214.4h0.8M96.7 216.0h0.8M99.1 214.5h0.8M104.1 214.4h0.8M107.5 213.6h0.8M107.7 217.9h0.8M110.2 214.5h0.8M110.7 215.8h0.8M112.1 215.6h0.8M112.8 217.3h0.8M118.1 214.6h0.8M118.2 218.1h0.8M119.3 215.1h0.8M120.1 218.0h0.8M122.6 213.7h0.8M124.1 217.7h0.8M124.2 219.0h0.8M128.1 218.9h0.8M128.8 217.4h0.8M129.4 217.9h0.8M130.0 215.6h0.8M130.6 217.4h0.8M32.1 220.7h0.8M33.7 225.3h0.8M35.3 219.5h0.8M36.6 225.3h0.8M36.7 220.4h0.8M36.7 222.3h0.8M37.3 224.9h0.8M38.5 222.6h0.8M39.6 222.8h0.8M39.7 220.1h0.8M41.6 222.4h0.8M42.0 220.2h0.8M45.4 220.4h0.8M46.1 220.8h0.8M48.8 221.0h0.8M49.9 224.7h0.8M51.1 219.5h0.8M51.4 221.0h0.8M51.7 221.2h0.8M52.7 220.0h0.8M53.0 221.4h0.8M53.1 220.4h0.8M53.4 220.1h0.8M53.5 220.9h0.8M54.3 219.6h0.8M55.3 219.5h0.8M57.3 223.1h0.8M61.0 221.0h0.8M61.2 220.0h0.8M61.4 223.4h0.8M61.7 224.5h0.8M61.9 225.3h0.8M63.2 222.5h0.8M63.6 219.9h0.8M63.9 225.2h0.8M64.0 223.1h0.8M64.7 220.5h0.8M65.9 224.6h0.8M67.7 222.2h0.8M68.1 221.7h0.8M69.8 220.4h0.8M69.8 221.3h0.8M70.6 222.3h0.8M71.0 219.6h0.8M71.9 220.2h0.8M73.6 223.5h0.8M77.6 223.3h0.8M83.6 219.6h0.8M100.5 222.1h0.8M102.7 224.0h0.8M103.7 221.1h0.8M104.7 223.1h0.8M104.7 223.1h0.8M105.3 223.3h0.8M105.5 222.7h0.8M109.9 223.0h0.8M111.1 224.1h0.8M113.5 219.5h0.8M116.8 220.7h0.8M127.8 220.2h0.8M127.9 220.7h0.8M134.7 224.0h0.8M137.1 225.1h0.8M33.1 226.2h0.8M33.9 229.8h0.8M34.8 228.9h0.8M35.2 231.1h0.8M36.0 230.4h0.8M37.3 231.2h0.8M39.0 228.2h0.8M41.0 230.7h0.8M41.4 231.2h0.8M42.6 227.6h0.8M50.7 226.1h0.8M55.5 227.4h0.8M55.8 226.0h0.8M59.8 227.3h0.8M62.0 226.5h0.8M62.2 229.6h0.8M62.3 226.7h0.8M62.9 225.7h0.8M63.4 230.1h0.8M64.6 226.2h0.8M66.6 227.5h0.8M66.6 226.9h0.8M70.2 231.3h0.8M70.6 228.2h0.8M70.6 226.6h0.8M72.4 227.3h0.8M74.0 229.6h0.8M93.0 231.2h0.8M95.2 229.3h0.8M95.6 228.3h0.8M96.2 227.7h0.8M96.5 230.1h0.8M96.7 230.1h0.8M97.1 230.4h0.8M97.3 227.4h0.8M97.5 225.8h0.8M97.7 230.5h0.8M97.7 231.4h0.8M99.8 230.4h0.8M102.1 230.4h0.8M132.9 228.7h0.8M134.9 226.9h0.8M134.9 228.9h0.8M33.0 233.5h0.8M35.4 232.5h0.8M36.8 235.6h0.8M37.3 235.2h0.8M37.7 232.6h0.8M37.7 235.4h0.8M37.8 235.3h0.8M38.0 234.2h0.8M38.5 231.6h0.8M38.7 232.0h0.8M40.1 231.5h0.8M44.0 231.5h0.8M44.0 234.5h0.8M44.7 234.2h0.8M44.9 233.6h0.8M45.4 235.4h0.8M45.8 235.6h0.8M45.9 231.9h0.8M46.0 234.9h0.8M46.0 234.8h0.8M46.6 232.0h0.8M46.8 236.2h0.8M47.0 234.5h0.8M47.2 231.7h0.8M47.3 233.2h0.8M47.5 234.8h0.8M47.7 234.6h0.8M47.8 233.1h0.8M47.9 233.3h0.8M48.3 234.3h0.8M48.5 235.7h0.8M48.5 232.7h0.8M48.6 233.8h0.8M48.8 236.7h0.8M48.8 234.6h0.8M49.0 236.3h0.8M49.1 233.6h0.8M49.1 235.2h0.8M49.4 236.3h0.8M49.5 234.2h0.8M49.6 234.5h0.8M49.8 235.9h0.8M50.5 233.2h0.8M50.7 235.5h0.8M50.8 236.9h0.8M51.3 234.6h0.8M51.6 236.2h0.8M51.7 235.5h0.8M51.9 236.0h0.8M52.1 236.3h0.8M52.3 236.0h0.8M52.6 235.9h0.8M54.0 236.7h0.8M54.8 236.8h0.8M55.5 236.7h0.8M56.6 234.7h0.8M78.4 235.7h0.8M80.3 237.2h0.8M80.4 236.8h0.8M81.6 236.5h0.8M84.7 234.6h0.8M88.1 236.0h0.8M89.6 236.0h0.8M90.4 232.3h0.8M90.5 231.7h0.8M90.8 234.2h0.8M91.5 232.4h0.8M92.4 233.8h0.8M93.1 233.7h0.8M93.5 236.1h0.8M93.7 234.2h0.8M96.0 233.7h0.8M96.6 232.4h0.8M96.7 231.9h0.8M98.2 232.5h0.8M98.7 232.5h0.8M129.1 233.1h0.8M36.8 239.7h0.8M40.9 238.0h0.8M41.3 241.1h0.8M42.6 238.4h0.8M44.4 239.7h0.8M44.5 240.7h0.8M46.1 242.4h0.8M46.2 238.7h0.8M48.7 237.8h0.8M48.9 241.9h0.8M49.0 238.4h0.8M49.1 237.7h0.8M50.2 237.8h0.8M50.4 242.7h0.8M51.3 241.6h0.8M51.5 243.2h0.8M52.1 240.6h0.8M52.4 243.1h0.8M52.4 238.2h0.8M52.6 237.8h0.8M53.2 239.1h0.8M53.5 238.3h0.8M54.4 243.0h0.8M55.5 238.8h0.8M55.8 237.5h0.8M55.8 239.6h0.8M65.9 242.6h0.8M70.1 243.2h0.8M72.1 242.7h0.8M75.8 241.7h0.8M75.9 243.2h0.8M76.1 243.3h0.8M76.7 239.2h0.8M76.7 243.3h0.8M76.9 242.5h0.8M79.0 237.5h0.8M79.5 237.9h0.8M80.5 237.7h0.8M80.8 237.8h0.8M81.4 238.0h0.8M82.0 240.0h0.8M83.3 239.7h0.8M83.6 241.3h0.8M85.8 238.3h0.8M87.4 241.7h0.8M88.6 239.2h0.8M90.7 237.9h0.8M90.9 238.5h0.8M91.2 239.1h0.8M102.0 241.2h0.8M102.4 242.8h0.8M103.7 241.3h0.8M104.2 242.0h0.8M104.8 242.3h0.8M105.0 241.8h0.8M105.5 242.0h0.8M106.9 241.7h0.8M107.0 242.3h0.8M124.8 241.0h0.8M48.2 246.1h0.8M49.2 248.5h0.8M49.3 244.6h0.8M49.7 246.4h0.8M49.8 246.6h0.8M50.0 245.3h0.8M50.2 244.8h0.8M50.3 247.8h0.8M51.0 245.9h0.8M51.3 248.3h0.8M53.5 247.0h0.8M53.9 244.5h0.8M54.1 247.6h0.8M55.3 249.1h0.8M56.4 246.9h0.8M57.4 246.9h0.8M65.0 247.6h0.8M65.4 244.3h0.8M67.0 245.9h0.8M69.1 248.8h0.8M69.6 246.5h0.8M71.4 248.0h0.8M72.1 247.9h0.8M72.6 247.6h0.8M73.4 248.4h0.8M73.5 246.5h0.8M73.7 248.7h0.8M74.2 246.2h0.8M74.8 248.0h0.8M74.8 246.3h0.8M76.1 243.5h0.8M77.2 245.3h0.8M77.3 244.2h0.8M81.4 245.1h0.8M99.9 243.5h0.8M107.1 243.9h0.8M121.9 248.1h0.8M126.6 246.6h0.8M129.7 244.8h0.8M130.8 247.0h0.8M49.8 249.8h0.8M51.9 251.0h0.8M52.7 250.7h0.8M54.0 251.7h0.8M59.3 251.6h0.8M69.0 250.3h0.8M70.0 250.3h0.8M77.2 252.4h0.8M77.5 252.3h0.8M80.2 252.5h0.8M81.2 252.0h0.8M82.1 251.0h0.8M82.9 251.0h0.8M84.0 255.2h0.8M84.4 250.7h0.8M89.1 253.3h0.8M89.4 255.0h0.8M91.1 255.0h0.8M91.3 255.0h0.8M92.2 251.6h0.8M107.0 253.4h0.8M107.6 255.3h0.8M118.1 251.9h0.8M121.8 253.1h0.8M122.8 252.1h0.8M123.2 252.2h0.8M127.9 250.0h0.8M83.7 258.4h0.8M84.2 260.1h0.8M85.7 261.0h0.8M86.0 260.0h0.8M86.3 258.5h0.8M86.7 259.5h0.8M87.7 258.4h0.8M87.7 258.4h0.8M87.8 256.8h0.8M88.2 257.5h0.8M88.3 259.4h0.8M88.4 260.3h0.8M88.8 257.6h0.8M88.9 260.4h0.8M89.9 260.0h0.8M89.9 259.4h0.8M109.1 259.2h0.8M109.5 259.5h0.8M110.4 260.9h0.8M110.6 258.6h0.8M111.4 255.5h0.8M111.8 259.2h0.8M112.8 258.7h0.8M113.7 258.1h0.8M116.8 258.3h0.8M117.5 258.3h0.8M39.3 262.7h0.8M39.8 262.2h0.8M56.0 266.7h0.8M92.0 261.8h0.8M95.7 266.6h0.8M95.8 264.0h0.8M97.1 261.9h0.8M97.3 265.7h0.8M98.6 265.2h0.8M99.3 265.2h0.8M101.8 261.6h0.8M101.9 262.8h0.8M101.9 266.4h0.8M103.6 267.4h0.8M105.2 266.7h0.8M53.3 270.4h0.8M53.8 268.7h0.8M56.2 272.5h0.8M56.6 268.7h0.8M57.1 268.9h0.8M57.4 270.5h0.8M60.7 272.7h0.8M67.6 271.6h0.8M89.6 272.4h0.8M92.5 271.2h0.8M92.9 268.9h0.8M92.9 268.8h0.8M93.1 269.7h0.8M95.0 269.8h0.8M96.3 268.6h0.8M63.6 276.1h0.8M65.8 275.0h0.8M69.6 274.2h0.8M72.3 277.6h0.8M81.9 275.7h0.8M82.4 278.8h0.8M86.0 274.4h0.8M86.6 277.5h0.8M92.9 278.0h0.8M97.8 277.9h0.8M85.7 284.2h0.8M86.9 284.3h0.8M88.2 283.3h0.8M88.9 283.9h0.8M90.1 279.5h0.8M94.7 279.5h0.8"/><path stroke="#1ea88a" d="M87.8 176.8h0.8M89.6 175.8h0.8M90.3 177.2h0.8M90.8 175.1h0.8M91.4 175.8h0.8M91.8 174.8h0.8M92.4 173.2h0.8M92.5 173.6h0.8M93.4 175.7h0.8M93.9 175.2h0.8M67.5 183.0h0.8M69.1 183.1h0.8M70.4 183.3h0.8M73.0 181.8h0.8M76.7 181.5h0.8M77.0 180.8h0.8M77.1 182.2h0.8M77.9 181.6h0.8M78.3 180.8h0.8M78.5 182.2h0.8M79.5 181.8h0.8M79.9 180.8h0.8M81.3 178.9h0.8M85.0 178.4h0.8M52.6 189.3h0.8M64.3 188.0h0.8M64.3 183.9h0.8M65.1 187.5h0.8M68.2 185.8h0.8M70.4 187.5h0.8M72.2 185.7h0.8M73.2 187.1h0.8M73.2 185.9h0.8M73.3 184.1h0.8M78.5 184.4h0.8M41.5 194.6h0.8M41.8 195.2h0.8M42.1 194.5h0.8M43.4 195.4h0.8M43.7 195.2h0.8M44.0 195.3h0.8M45.6 193.8h0.8M48.3 193.6h0.8M49.2 193.7h0.8M50.0 191.8h0.8M51.4 190.1h0.8M51.9 195.4h0.8M52.0 192.3h0.8M52.3 189.6h0.8M54.8 191.6h0.8M55.2 189.6h0.8M56.0 190.4h0.8M56.0 189.9h0.8M56.8 190.1h0.8M57.7 193.1h0.8M59.9 192.2h0.8M63.2 190.0h0.8M66.3 189.7h0.8M67.1 192.5h0.8M87.0 195.3h0.8M87.6 193.1h0.8M90.8 192.9h0.8M96.0 194.5h0.8M96.3 194.9h0.8M98.8 192.8h0.8M101.6 191.6h0.8M101.9 191.1h0.8M102.6 193.4h0.8M105.5 194.0h0.8M37.3 201.4h0.8M38.1 201.2h0.8M39.1 200.8h0.8M39.1 197.7h0.8M39.9 200.5h0.8M40.0 196.1h0.8M40.4 201.4h0.8M40.9 197.6h0.8M41.0 200.3h0.8M41.0 197.8h0.8M41.9 198.1h0.8M48.7 196.9h0.8M52.7 196.6h0.8M54.2 196.0h0.8M54.3 197.5h0.8M54.5 196.8h0.8M55.9 197.9h0.8M81.3 200.3h0.8M81.5 199.4h0.8M83.6 200.0h0.8M84.5 198.3h0.8M88.2 199.2h0.8M89.8 197.1h0.8M90.7 200.9h0.8M92.1 197.8h0.8M92.4 201.2h0.8M94.4 197.3h0.8M99.5 198.8h0.8M100.2 196.9h0.8M101.0 199.3h0.8M102.6 195.9h0.8M105.3 200.1h0.8M106.2 196.8h0.8M107.1 199.0h0.8M107.7 196.8h0.8M107.7 195.8h0.8M108.2 200.2h0.8M109.4 200.0h0.8M109.6 196.5h0.8M109.9 196.4h0.8M110.2 201.2h0.8M35.0 204.9h0.8M35.0 206.2h0.8M35.9 207.0h0.8M36.1 204.3h0.8M36.9 205.8h0.8M37.1 202.6h0.8M37.2 206.2h0.8M37.6 207.0h0.8M37.9 205.6h0.8M37.9 205.0h0.8M38.0 204.9h0.8M38.4 206.2h0.8M39.3 204.2h0.8M39.5 203.3h0.8M45.2 201.7h0.8M69.6 206.4h0.8M75.3 201.7h0.8M75.7 201.6h0.8M79.5 202.9h0.8M79.7 204.0h0.8M80.1 204.9h0.8M80.7 205.0h0.8M80.7 204.2h0.8M81.2 203.3h0.8M81.6 203.6h0.8M81.7 201.9h0.8M84.4 206.8h0.8M86.2 202.4h0.8M86.5 202.3h0.8M92.7 203.7h0.8M95.6 205.3h0.8M96.5 206.7h0.8M97.0 206.9h0.8M98.5 201.5h0.8M99.4 204.7h0.8M99.7 205.2h0.8M103.5 205.2h0.8M105.2 206.1h0.8M105.6 204.5h0.8M106.1 206.8h0.8M106.4 204.0h0.8M106.5 206.3h0.8M107.0 207.3h0.8M107.1 202.7h0.8M112.3 207.3h0.8M112.4 207.3h0.8M113.6 206.8h0.8M28.9 211.4h0.8M30.1 212.3h0.8M31.6 212.0h0.8M33.4 213.1h0.8M34.4 210.4h0.8M34.8 208.0h0.8M35.5 211.9h0.8M36.6 208.5h0.8M37.5 212.8h0.8M38.6 207.5h0.8M44.9 209.0h0.8M45.0 211.3h0.8M48.9 212.4h0.8M49.8 208.2h0.8M53.2 209.1h0.8M53.5 211.8h0.8M54.0 209.1h0.8M54.7 209.8h0.8M55.1 213.4h0.8M57.3 209.9h0.8M59.3 210.2h0.8M60.4 211.6h0.8M63.2 213.1h0.8M71.3 208.0h0.8M71.5 212.2h0.8M72.2 212.2h0.8M74.2 211.8h0.8M76.0 212.2h0.8M76.4 211.2h0.8M76.9 210.2h0.8M77.4 212.2h0.8M79.6 210.9h0.8M80.7 207.7h0.8M80.7 208.5h0.8M83.2 211.2h0.8M83.3 212.6h0.8M83.6 210.1h0.8M84.1 212.7h0.8M84.3 211.4h0.8M85.1 211.4h0.8M85.9 213.2h0.8M86.0 207.9h0.8M92.8 207.8h0.8M93.0 208.6h0.8M93.6 209.1h0.8M94.2 209.6h0.8M95.2 208.2h0.8M97.0 208.9h0.8M97.5 211.8h0.8M100.8 211.4h0.8M100.9 208.0h0.8M102.1 209.0h0.8M102.5 208.9h0.8M102.5 209.5h0.8M102.8 213.0h0.8M103.2 210.5h0.8M103.3 209.4h0.8M103.4 210.1h0.8M103.7 207.6h0.8M103.7 212.1h0.8M104.7 207.8h0.8M110.7 212.2h0.8M111.0 210.6h0.8M111.2 208.5h0.8M111.8 210.5h0.8M114.7 210.0h0.8M115.9 213.1h0.8M116.2 212.7h0.8M117.2 210.9h0.8M120.0 211.9h0.8M121.0 213.0h0.8M122.5 210.6h0.8M122.8 212.6h0.8M123.3 213.2h0.8M123.5 210.8h0.8M123.9 211.4h0.8M124.9 211.3h0.8M125.1 212.8h0.8M125.9 211.1h0.8M126.0 212.3h0.8M126.2 211.3h0.8M126.2 211.9h0.8M126.8 211.2h0.8M126.8 213.1h0.8M129.2 211.1h0.8M30.8 216.2h0.8M30.9 214.2h0.8M32.1 214.9h0.8M32.6 215.8h0.8M32.8 218.6h0.8M33.1 218.6h0.8M34.8 215.2h0.8M34.8 214.5h0.8M35.2 219.1h0.8M35.3 218.4h0.8M36.3 215.3h0.8M38.0 218.9h0.8M38.0 217.0h0.8M38.7 213.5h0.8M39.1 215.3h0.8M42.8 215.1h0.8M47.4 216.6h0.8M47.5 213.9h0.8M47.6 218.5h0.8M47.7 216.3h0.8M48.9 218.0h0.8M49.7 214.9h0.8M49.9 214.7h0.8M50.6 218.5h0.8M51.4 219.3h0.8M52.6 215.1h0.8M53.0 219.3h0.8M53.3 215.0h0.8M55.8 217.6h0.8M56.3 213.5h0.8M58.5 214.1h0.8M59.6 215.4h0.8M60.3 214.2h0.8M60.3 215.5h0.8M60.5 214.4h0.8M60.9 218.9h0.8M60.9 215.7h0.8M61.0 215.7h0.8M61.1 215.4h0.8M61.9 214.5h0.8M62.0 216.4h0.8M62.6 217.0h0.8M62.7 214.4h0.8M62.8 219.1h0.8M63.4 218.5h0.8M63.9 217.4h0.8M64.3 219.2h0.8M64.8 218.4h0.8M65.5 216.8h0.8M66.0 218.8h0.8M67.2 215.5h0.8M67.5 216.0h0.8M67.9 213.8h0.8M68.2 217.0h0.8M69.7 219.3h0.8M70.7 216.1h0.8M71.2 218.3h0.8M74.8 213.8h0.8M75.2 215.0h0.8M78.7 215.1h0.8M79.0 213.5h0.8M82.7 214.0h0.8M83.1 218.3h0.8M83.6 214.5h0.8M84.2 214.2h0.8M84.6 214.8h0.8M84.9 215.2h0.8M86.9 217.5h0.8M87.2 217.9h0.8M87.5 216.8h0.8M88.6 217.7h0.8M89.9 215.1h0.8M90.0 216.1h0.8M91.4 217.6h0.8M94.2 216.0h0.8M96.4 215.0h0.8M97.2 214.5h0.8M101.0 215.3h0.8M101.4 214.4h0.8M105.9 218.9h0.8M108.3 218.0h0.8M108.7 213.8h0.8M108.9 216.9h0.8M110.0 215.0h0.8M110.1 218.7h0.8M110.5 215.9h0.8M110.5 217.1h0.8M110.9 214.8h0.8M113.0 214.2h0.8M113.8 216.5h0.8M113.8 218.7h0.8M113.9 217.1h0.8M114.3 218.6h0.8M114.3 218.4h0.8M114.5 216.0h0.8M114.9 218.0h0.8M115.0 217.8h0.8M115.1 218.0h0.8M115.8 218.3h0.8M115.8 216.7h0.8M116.1 217.9h0.8M116.1 216.2h0.8M116.3 218.8h0.8M117.0 218.5h0.8M117.1 215.8h0.8M117.5 217.2h0.8M117.6 217.6h0.8M117.9 216.0h0.8M117.9 216.3h0.8M118.0 217.3h0.8M118.2 218.4h0.8M118.5 216.7h0.8M118.7 214.8h0.8M118.9 219.0h0.8M119.6 215.2h0.8M120.2 215.0h0.8M120.4 215.1h0.8M120.4 216.6h0.8M120.9 214.4h0.8M121.2 215.4h0.8M121.3 216.7h0.8M121.5 213.7h0.8M122.0 215.9h0.8M122.4 218.0h0.8M122.4 214.2h0.8M123.1 214.2h0.8M123.1 214.7h0.8M123.2 216.8h0.8M123.6 216.3h0.8M124.6 219.4h0.8M124.7 214.6h0.8M125.5 216.1h0.8M125.9 218.3h0.8M125.9 217.3h0.8M127.8 218.2h0.8M128.1 213.8h0.8M128.3 217.2h0.8M128.4 215.6h0.8M128.7 217.7h0.8M128.7 217.2h0.8M128.8 216.5h0.8M128.9 217.4h0.8M129.0 216.2h0.8M129.0 216.4h0.8M129.1 217.5h0.8M129.1 214.8h0.8M129.3 217.4h0.8M129.3 215.2h0.8M129.5 216.5h0.8M129.5 215.8h0.8M129.6 216.7h0.8M129.8 217.6h0.8M130.2 217.2h0.8M130.2 216.5h0.8M132.0 217.1h0.8M133.2 218.1h0.8M30.8 221.0h0.8M32.2 221.3h0.8M34.0 221.1h0.8M35.8 222.1h0.8M36.3 220.8h0.8M36.7 220.4h0.8M37.1 221.5h0.8M37.2 222.1h0.8M37.8 220.2h0.8M38.2 222.0h0.8M39.4 221.3h0.8M42.2 220.1h0.8M44.0 222.2h0.8M46.2 220.5h0.8M49.0 220.9h0.8M51.3 221.5h0.8M51.9 220.4h0.8M51.9 220.7h0.8M52.0 221.0h0.8M52.5 220.2h0.8M55.4 225.0h0.8M55.6 223.9h0.8M62.4 225.3h0.8M62.7 225.0h0.8M62.8 225.1h0.8M63.1 225.4h0.8M65.4 220.0h0.8M65.4 224.2h0.8M65.4 224.8h0.8M65.8 220.5h0.8M65.8 223.5h0.8M65.9 223.4h0.8M66.1 221.0h0.8M66.3 219.9h0.8M66.6 224.2h0.8M67.3 223.4h0.8M67.6 222.9h0.8M67.7 224.0h0.8M67.9 224.9h0.8M68.6 223.6h0.8M69.1 225.1h0.8M69.2 221.1h0.8M69.5 219.8h0.8M69.8 224.9h0.8M70.3 222.8h0.8M71.2 221.2h0.8M71.4 224.3h0.8M72.1 220.2h0.8M72.8 224.5h0.8M72.9 221.1h0.8M74.7 223.8h0.8M76.2 223.9h0.8M84.8 219.5h0.8M98.8 224.5h0.8M99.3 223.7h0.8M99.8 224.2h0.8M100.0 225.1h0.8M100.6 223.3h0.8M100.8 224.7h0.8M101.0 223.2h0.8M101.3 224.5h0.8M101.4 221.8h0.8M101.5 222.2h0.8M101.5 222.5h0.8M102.4 223.2h0.8M102.6 224.1h0.8M102.8 224.8h0.8M103.3 222.8h0.8M103.4 222.1h0.8M104.1 222.5h0.8M104.3 223.5h0.8M104.5 225.0h0.8M104.9 223.1h0.8M105.1 224.5h0.8M105.4 221.2h0.8M105.5 219.9h0.8M105.8 223.2h0.8M105.8 221.2h0.8M105.9 222.1h0.8M106.4 224.6h0.8M106.4 222.9h0.8M106.4 221.4h0.8M106.4 222.8h0.8M106.5 221.6h0.8M106.5 222.9h0.8M106.7 223.1h0.8M106.7 225.1h0.8M107.0 224.0h0.8M107.2 220.7h0.8M107.5 224.1h0.8M107.8 221.5h0.8M108.2 223.3h0.8M108.4 223.7h0.8M108.4 220.9h0.8M110.3 224.2h0.8M110.6 225.0h0.8M110.7 221.3h0.8M110.9 219.6h0.8M111.1 220.4h0.8M111.1 221.3h0.8M111.6 221.5h0.8M112.0 222.7h0.8M112.4 224.3h0.8M113.4 220.8h0.8M113.8 223.0h0.8M114.5 222.1h0.8M115.8 220.1h0.8M116.7 219.5h0.8M118.1 219.9h0.8M123.5 220.1h0.8M124.8 222.4h0.8M125.7 222.0h0.8M126.1 223.2h0.8M126.5 221.5h0.8M126.6 221.3h0.8M126.7 223.7h0.8M126.7 221.7h0.8M126.8 220.5h0.8M127.1 220.1h0.8M127.1 221.3h0.8M127.5 220.9h0.8M127.6 223.5h0.8M127.8 220.0h0.8M127.8 222.7h0.8M128.1 220.5h0.8M128.1 224.7h0.8M128.3 223.2h0.8M128.8 225.3h0.8M129.2 224.9h0.8M129.4 224.7h0.8M129.5 225.3h0.8M129.9 220.1h0.8M130.9 222.2h0.8M131.2 222.2h0.8M132.1 223.5h0.8M132.3 220.5h0.8M132.8 223.1h0.8M133.0 221.1h0.8M133.8 219.8h0.8M135.2 224.0h0.8M32.9 229.1h0.8M35.1 228.1h0.8M35.1 226.0h0.8M35.6 225.4h0.8M36.4 228.0h0.8M37.1 225.8h0.8M37.5 227.3h0.8M37.5 231.0h0.8M41.1 230.7h0.8M42.1 226.7h0.8M42.3 226.8h0.8M43.5 230.7h0.8M56.1 225.4h0.8M59.3 229.1h0.8M59.8 228.8h0.8M60.0 226.2h0.8M60.0 226.5h0.8M60.9 226.0h0.8M61.1 228.3h0.8M61.5 229.1h0.8M62.1 229.4h0.8M62.4 226.4h0.8M62.5 226.5h0.8M62.7 226.3h0.8M62.7 226.2h0.8M62.9 227.7h0.8M63.1 229.2h0.8M63.1 228.0h0.8M63.2 227.4h0.8M63.3 227.9h0.8M63.5 228.3h0.8M64.3 227.2h0.8M64.5 226.2h0.8M64.5 226.8h0.8M64.7 226.8h0.8M65.1 225.7h0.8M65.3 225.7h0.8M65.4 227.1h0.8M65.5 226.8h0.8M65.9 227.0h0.8M66.2 227.9h0.8M66.5 225.5h0.8M67.9 225.5h0.8M68.3 226.2h0.8M68.6 227.4h0.8M68.9 226.8h0.8M68.9 225.8h0.8M69.0 225.8h0.8M69.1 229.7h0.8M69.3 228.2h0.8M69.3 226.6h0.8M69.9 231.1h0.8M70.1 226.2h0.8M70.3 229.7h0.8M70.7 230.9h0.8M71.0 227.4h0.8M71.1 229.2h0.8M71.2 227.5h0.8M71.2 227.3h0.8M71.2 225.4h0.8M71.3 226.9h0.8M71.7 230.3h0.8M71.8 226.7h0.8M72.1 225.9h0.8M72.1 226.5h0.8M72.1 227.3h0.8M72.3 227.2h0.8M72.3 228.9h0.8M72.6 229.6h0.8M72.7 227.2h0.8M72.9 226.7h0.8M73.1 228.7h0.8M73.2 225.5h0.8M73.2 227.2h0.8M73.3 226.4h0.8M73.3 228.3h0.8M73.3 225.7h0.8M73.4 227.7h0.8M73.5 228.2h0.8M73.7 227.1h0.8M73.8 228.8h0.8M74.0 226.4h0.8M74.0 226.4h0.8M74.0 226.1h0.8M74.1 227.9h0.8M74.1 228.5h0.8M74.2 227.6h0.8M74.4 229.0h0.8M74.5 226.0h0.8M74.6 230.9h0.8M75.0 231.1h0.8M75.4 229.5h0.8M75.6 229.6h0.8M75.7 227.6h0.8M76.0 231.0h0.8M77.6 229.1h0.8M78.2 229.0h0.8M91.2 230.8h0.8M91.3 230.9h0.8M91.5 231.0h0.8M93.2 231.3h0.8M93.6 230.0h0.8M94.1 231.4h0.8M94.3 228.7h0.8M94.4 227.4h0.8M94.9 230.4h0.8M95.0 228.3h0.8M95.1 227.9h0.8M95.1 231.1h0.8M95.3 230.2h0.8M95.4 231.4h0.8M95.5 228.9h0.8M95.7 230.9h0.8M95.8 227.7h0.8M95.8 228.1h0.8M96.0 230.2h0.8M96.1 229.7h0.8M96.2 225.8h0.8M96.4 230.8h0.8M96.6 229.8h0.8M96.7 230.1h0.8M96.9 231.0h0.8M97.1 230.8h0.8M97.4 231.1h0.8M97.5 228.6h0.8M97.7 229.6h0.8M97.7 229.8h0.8M97.9 229.2h0.8M97.9 229.5h0.8M98.0 230.6h0.8M98.2 231.3h0.8M98.2 231.1h0.8M98.3 226.3h0.8M98.3 231.1h0.8M98.5 230.1h0.8M98.7 229.5h0.8M98.8 230.2h0.8M98.8 228.9h0.8M98.9 225.5h0.8M99.1 228.7h0.8M99.1 230.8h0.8M99.5 228.5h0.8M99.5 229.3h0.8M99.9 229.8h0.8M100.0 225.5h0.8M100.0 230.4h0.8M100.2 225.5h0.8M100.3 227.1h0.8M100.3 229.7h0.8M100.4 229.5h0.8M100.5 228.9h0.8M100.8 227.5h0.8M101.9 228.8h0.8M103.1 226.0h0.8M103.2 229.1h0.8M103.7 226.3h0.8M105.0 225.6h0.8M105.4 227.2h0.8M105.9 228.2h0.8M106.0 228.1h0.8M106.2 228.5h0.8M106.6 227.8h0.8M107.7 227.2h0.8M108.3 225.6h0.8M108.6 226.5h0.8M125.6 227.1h0.8M126.2 226.3h0.8M126.5 227.1h0.8M126.6 226.8h0.8M126.8 225.8h0.8M127.1 227.9h0.8M127.3 226.2h0.8M127.5 229.5h0.8M127.5 229.5h0.8M127.7 226.7h0.8M127.9 225.6h0.8M127.9 226.1h0.8M128.0 226.8h0.8M128.0 226.8h0.8M128.4 227.4h0.8M128.4 227.6h0.8M128.6 230.8h0.8M128.6 226.6h0.8M129.5 226.2h0.8M132.2 228.3h0.8M132.4 231.1h0.8M132.7 228.2h0.8M133.3 230.5h0.8M133.4 230.1h0.8M133.4 231.2h0.8M133.6 229.8h0.8M133.9 230.4h0.8M134.0 230.7h0.8M134.7 229.4h0.8M134.8 227.7h0.8M135.0 229.6h0.8M135.7 230.4h0.8M136.6 230.1h0.8M138.4 231.0h0.8M138.5 227.3h0.8M138.8 228.7h0.8M139.1 231.4h0.8M139.8 230.1h0.8M33.9 236.1h0.8M34.6 232.1h0.8M35.2 232.8h0.8M37.4 237.1h0.8M39.3 235.6h0.8M39.3 232.1h0.8M40.3 235.2h0.8M40.5 236.2h0.8M43.4 232.7h0.8M43.7 235.4h0.8M43.7 231.8h0.8M43.7 237.3h0.8M44.7 232.6h0.8M44.7 232.7h0.8M45.2 234.2h0.8M45.3 237.1h0.8M45.5 231.9h0.8M47.0 233.5h0.8M47.8 232.5h0.8M48.0 232.9h0.8M48.7 232.6h0.8M49.2 234.4h0.8M49.5 236.9h0.8M50.4 235.6h0.8M50.7 235.9h0.8M50.7 236.0h0.8M51.0 234.2h0.8M51.4 235.8h0.8M51.5 234.7h0.8M51.8 234.7h0.8M53.5 237.4h0.8M54.6 235.7h0.8M54.7 236.0h0.8M55.1 237.1h0.8M57.6 236.4h0.8M67.7 231.4h0.8M68.7 232.3h0.8M71.7 231.9h0.8M71.8 231.7h0.8M75.3 231.7h0.8M75.4 232.0h0.8M76.1 232.0h0.8M76.4 232.3h0.8M77.5 233.3h0.8M77.8 236.7h0.8M80.4 235.9h0.8M80.8 237.0h0.8M81.7 235.4h0.8M81.7 235.8h0.8M82.4 235.9h0.8M82.6 235.7h0.8M88.0 233.0h0.8M88.5 237.1h0.8M89.6 232.7h0.8M91.0 232.0h0.8M92.0 232.8h0.8M92.0 236.1h0.8M92.1 234.1h0.8M92.8 236.7h0.8M92.9 232.4h0.8M94.2 236.6h0.8M94.8 231.5h0.8M95.7 232.3h0.8M96.2 232.1h0.8M96.2 232.4h0.8M96.5 231.4h0.8M96.8 232.0h0.8M96.8 233.3h0.8M96.9 231.6h0.8M97.2 233.8h0.8M97.3 232.0h0.8M98.0 231.9h0.8M99.7 232.3h0.8M128.3 231.4h0.8M128.7 232.6h0.8M128.8 234.9h0.8M128.8 232.6h0.8M128.9 235.4h0.8M129.0 231.7h0.8M129.0 233.1h0.8M129.3 234.8h0.8M129.4 231.7h0.8M129.9 233.4h0.8M130.6 233.4h0.8M130.8 233.4h0.8M131.0 237.3h0.8M131.1 233.4h0.8M131.4 232.4h0.8M131.7 235.6h0.8M131.9 236.3h0.8M131.9 233.4h0.8M132.2 234.8h0.8M132.4 233.1h0.8M132.7 232.8h0.8M133.0 234.7h0.8M133.2 235.0h0.8M133.5 235.8h0.8M134.1 234.2h0.8M134.4 231.6h0.8M134.4 232.9h0.8M134.6 232.2h0.8M134.9 235.5h0.8M135.4 234.0h0.8M136.4 235.6h0.8M136.5 234.0h0.8M136.8 233.6h0.8M137.0 234.4h0.8M137.6 234.8h0.8M137.7 234.6h0.8M137.7 232.1h0.8M137.9 236.9h0.8M138.1 235.2h0.8M138.3 236.3h0.8M138.5 234.7h0.8M138.6 231.5h0.8M139.0 232.0h0.8M139.1 233.3h0.8M140.0 235.7h0.8M140.5 235.3h0.8M41.1 241.1h0.8M42.1 240.2h0.8M42.3 242.1h0.8M42.6 242.8h0.8M44.6 241.8h0.8M44.8 238.1h0.8M45.1 239.2h0.8M45.9 242.6h0.8M48.3 240.7h0.8M50.0 242.1h0.8M50.7 239.2h0.8M51.0 241.6h0.8M52.4 238.4h0.8M52.5 243.0h0.8M52.5 242.7h0.8M52.5 241.6h0.8M53.2 238.9h0.8M55.2 243.0h0.8M55.6 239.5h0.8M55.6 237.5h0.8M56.1 239.0h0.8M56.2 243.3h0.8M56.3 242.1h0.8M56.4 237.8h0.8M58.1 241.2h0.8M60.2 242.3h0.8M66.3 243.1h0.8M66.6 243.4h0.8M67.1 243.0h0.8M70.3 241.0h0.8M70.6 241.6h0.8M71.0 242.2h0.8M74.7 243.2h0.8M74.8 241.0h0.8M76.1 239.1h0.8M76.3 243.0h0.8M76.6 242.7h0.8M76.7 241.2h0.8M76.9 241.2h0.8M77.3 241.7h0.8M78.2 241.3h0.8M79.2 241.6h0.8M79.5 237.4h0.8M80.1 241.7h0.8M80.4 237.8h0.8M81.0 238.1h0.8M81.1 241.4h0.8M81.9 238.9h0.8M82.5 238.9h0.8M82.9 238.3h0.8M83.1 237.8h0.8M83.3 238.0h0.8M83.4 239.7h0.8M83.6 238.0h0.8M83.7 239.6h0.8M85.4 239.1h0.8M85.7 240.9h0.8M86.0 242.3h0.8M86.0 239.8h0.8M86.1 241.9h0.8M86.5 239.1h0.8M86.5 242.0h0.8M87.1 241.8h0.8M87.4 238.9h0.8M87.5 240.2h0.8M89.7 240.3h0.8M90.0 239.3h0.8M90.2 239.5h0.8M90.6 240.5h0.8M90.7 242.3h0.8M91.0 238.7h0.8M91.0 238.9h0.8M91.5 238.9h0.8M91.9 239.1h0.8M92.2 238.3h0.8M92.2 238.8h0.8M92.8 238.8h0.8M92.9 241.1h0.8M93.0 239.1h0.8M104.4 242.0h0.8M104.6 242.5h0.8M124.4 241.2h0.8M124.9 242.2h0.8M125.8 238.8h0.8M126.5 239.4h0.8M126.6 242.9h0.8M126.8 239.3h0.8M126.8 243.1h0.8M127.8 239.5h0.8M127.9 238.8h0.8M128.9 241.8h0.8M129.7 241.1h0.8M129.9 237.4h0.8M130.7 239.3h0.8M130.8 240.0h0.8M130.9 237.5h0.8M131.6 238.5h0.8M131.9 238.9h0.8M132.1 242.4h0.8M132.5 242.3h0.8M132.9 242.2h0.8M133.3 239.9h0.8M133.3 241.4h0.8M134.3 243.4h0.8M134.3 241.0h0.8M134.7 239.8h0.8M134.8 238.2h0.8M136.9 240.4h0.8M136.9 239.5h0.8M137.2 240.0h0.8M138.3 237.8h0.8M42.3 246.5h0.8M44.6 245.6h0.8M44.8 247.9h0.8M45.4 244.2h0.8M46.7 243.6h0.8M46.8 246.2h0.8M47.9 244.5h0.8M49.0 246.6h0.8M50.0 249.3h0.8M50.6 249.4h0.8M50.9 246.8h0.8M51.0 247.8h0.8M51.2 248.3h0.8M51.5 244.7h0.8M51.7 246.5h0.8M52.0 247.5h0.8M52.4 246.7h0.8M52.6 248.3h0.8M52.8 247.8h0.8M53.4 247.6h0.8M54.2 249.0h0.8M54.6 246.0h0.8M54.6 243.5h0.8M54.6 245.7h0.8M54.9 245.2h0.8M55.4 247.4h0.8M55.8 247.1h0.8M56.7 246.5h0.8M56.9 248.1h0.8M58.3 247.6h0.8M59.6 248.5h0.8M59.9 244.3h0.8M60.1 247.3h0.8M61.0 248.0h0.8M61.4 248.1h0.8M62.4 245.4h0.8M64.0 248.6h0.8M65.9 245.7h0.8M66.6 246.2h0.8M66.8 247.4h0.8M67.1 247.8h0.8M69.1 243.9h0.8M69.4 249.0h0.8M69.7 248.0h0.8M69.7 248.4h0.8M70.3 247.6h0.8M70.3 249.0h0.8M70.6 246.5h0.8M70.7 248.8h0.8M71.3 244.1h0.8M71.4 247.7h0.8M71.6 247.9h0.8M73.0 247.2h0.8M73.2 243.7h0.8M73.3 247.5h0.8M73.4 247.7h0.8M74.3 246.2h0.8M74.6 246.2h0.8M75.0 247.7h0.8M75.4 243.4h0.8M76.0 244.8h0.8M76.3 244.2h0.8M76.7 246.0h0.8M77.2 244.5h0.8M77.2 246.2h0.8M77.2 246.3h0.8M77.7 243.9h0.8M78.5 245.5h0.8M78.5 244.7h0.8M78.8 245.2h0.8M78.9 246.6h0.8M78.9 246.5h0.8M79.9 244.2h0.8M81.5 245.6h0.8M83.8 244.3h0.8M107.3 243.5h0.8M117.3 249.2h0.8M119.2 248.9h0.8M119.9 247.7h0.8M120.7 247.9h0.8M120.8 248.2h0.8M120.8 247.2h0.8M121.6 247.1h0.8M122.6 248.7h0.8M122.6 248.9h0.8M122.7 249.1h0.8M122.9 247.4h0.8M123.5 245.4h0.8M123.8 245.1h0.8M124.3 247.7h0.8M124.4 249.2h0.8M124.7 245.5h0.8M124.7 245.8h0.8M124.9 249.1h0.8M125.2 244.0h0.8M125.5 245.9h0.8M125.6 248.7h0.8M125.6 247.8h0.8M126.1 246.7h0.8M126.5 247.2h0.8M126.8 243.4h0.8M126.9 243.9h0.8M127.0 247.9h0.8M127.2 248.7h0.8M127.2 247.3h0.8M127.5 246.3h0.8M127.8 245.0h0.8M127.8 248.4h0.8M128.3 249.1h0.8M128.5 244.6h0.8M128.5 244.5h0.8M128.5 247.9h0.8M129.0 249.1h0.8M129.0 245.5h0.8M129.9 245.2h0.8M130.5 245.2h0.8M130.7 247.7h0.8M130.7 244.2h0.8M131.2 244.0h0.8M131.7 248.5h0.8M132.9 247.5h0.8M133.0 245.6h0.8M133.3 243.4h0.8M133.6 243.6h0.8M133.8 248.0h0.8M134.0 244.2h0.8M48.0 250.1h0.8M49.0 249.6h0.8M49.2 249.9h0.8M49.8 249.9h0.8M50.1 250.0h0.8M51.1 250.1h0.8M51.4 249.8h0.8M52.5 249.5h0.8M54.8 252.3h0.8M55.3 249.8h0.8M57.2 252.1h0.8M59.8 250.7h0.8M60.9 250.1h0.8M61.5 250.6h0.8M63.6 250.8h0.8M68.4 250.9h0.8M77.0 252.7h0.8M77.8 253.0h0.8M78.6 252.7h0.8M82.8 251.6h0.8M83.9 252.3h0.8M87.9 252.9h0.8M89.7 252.0h0.8M105.0 254.7h0.8M105.9 254.3h0.8M106.3 253.0h0.8M107.4 254.0h0.8M108.4 254.6h0.8M108.7 255.2h0.8M109.3 253.4h0.8M110.7 255.1h0.8M114.0 253.8h0.8M114.3 254.6h0.8M115.0 253.1h0.8M115.1 252.4h0.8M115.2 254.7h0.8M115.9 253.9h0.8M116.0 254.5h0.8M116.3 254.9h0.8M116.9 253.3h0.8M116.9 254.8h0.8M117.0 251.8h0.8M117.1 252.9h0.8M117.2 254.4h0.8M117.4 254.7h0.8M117.5 254.4h0.8M117.6 254.2h0.8M117.6 251.5h0.8M117.8 253.9h0.8M117.9 254.4h0.8M117.9 253.0h0.8M118.4 253.1h0.8M118.8 253.8h0.8M119.6 254.7h0.8M119.8 251.0h0.8M120.2 254.2h0.8M120.8 251.7h0.8M120.9 252.5h0.8M121.2 249.6h0.8M121.2 250.7h0.8M121.5 249.9h0.8M121.6 250.3h0.8M121.9 251.6h0.8M121.9 253.0h0.8M122.4 251.7h0.8M122.5 251.0h0.8M122.8 249.6h0.8M123.0 251.8h0.8M124.0 251.0h0.8M124.0 250.8h0.8M124.3 254.0h0.8M124.6 250.8h0.8M125.8 251.5h0.8M126.8 249.5h0.8M127.5 249.4h0.8M127.5 251.8h0.8M127.6 250.0h0.8M128.8 253.2h0.8M129.9 250.0h0.8M132.0 250.2h0.8M132.5 250.7h0.8M39.3 260.6h0.8M78.8 255.8h0.8M79.9 257.0h0.8M81.1 256.0h0.8M81.5 257.7h0.8M83.4 261.2h0.8M83.7 260.1h0.8M86.2 258.8h0.8M86.5 259.3h0.8M86.7 259.7h0.8M86.9 259.1h0.8M87.1 258.4h0.8M87.2 255.7h0.8M87.3 257.9h0.8M87.4 256.8h0.8M88.0 256.2h0.8M88.1 256.5h0.8M88.2 257.3h0.8M88.3 256.8h0.8M88.5 260.9h0.8M92.0 255.9h0.8M92.3 260.9h0.8M94.8 259.4h0.8M95.5 256.8h0.8M98.5 259.5h0.8M98.8 260.5h0.8M100.2 260.9h0.8M100.3 261.1h0.8M101.0 260.8h0.8M101.6 259.4h0.8M101.6 260.2h0.8M102.2 257.8h0.8M102.4 259.3h0.8M102.8 260.4h0.8M103.3 258.0h0.8M104.3 260.6h0.8M104.3 257.4h0.8M104.7 256.3h0.8M104.8 259.0h0.8M105.5 258.8h0.8M105.6 258.7h0.8M106.1 258.5h0.8M106.3 255.9h0.8M106.3 259.6h0.8M106.9 255.7h0.8M107.2 256.9h0.8M107.2 257.3h0.8M107.6 256.3h0.8M107.6 260.0h0.8M107.8 256.0h0.8M107.9 256.0h0.8M108.0 255.7h0.8M108.1 258.1h0.8M108.1 255.5h0.8M108.4 259.6h0.8M108.5 258.2h0.8M108.5 258.1h0.8M108.6 259.6h0.8M108.6 256.3h0.8M108.7 259.9h0.8M108.9 255.6h0.8M109.2 261.0h0.8M109.6 260.8h0.8M109.7 260.3h0.8M109.8 255.9h0.8M109.9 259.2h0.8M110.2 259.1h0.8M110.3 257.5h0.8M110.5 258.3h0.8M110.6 256.3h0.8M110.7 257.9h0.8M110.9 260.6h0.8M111.0 258.6h0.8M111.0 259.0h0.8M111.1 258.8h0.8M111.1 259.7h0.8M111.1 260.5h0.8M111.2 258.5h0.8M111.2 259.3h0.8M111.6 260.2h0.8M111.6 258.1h0.8M112.1 256.7h0.8M112.5 258.7h0.8M114.1 259.1h0.8M114.7 257.4h0.8M116.0 257.8h0.8M116.3 258.0h0.8M116.3 257.1h0.8M116.6 258.9h0.8M116.7 258.5h0.8M116.7 255.7h0.8M116.7 259.8h0.8M116.9 258.1h0.8M117.3 256.5h0.8M117.3 257.9h0.8M117.6 261.0h0.8M117.8 260.8h0.8M118.2 257.9h0.8M118.6 260.6h0.8M118.6 256.9h0.8M119.1 257.8h0.8M120.6 259.8h0.8M121.6 256.6h0.8M121.7 256.9h0.8M122.3 256.8h0.8M123.6 257.9h0.8M125.2 256.9h0.8M39.7 262.9h0.8M52.8 267.4h0.8M54.3 266.3h0.8M55.6 266.4h0.8M57.6 266.9h0.8M92.6 266.2h0.8M92.7 266.3h0.8M93.3 264.6h0.8M93.5 266.9h0.8M93.5 267.3h0.8M93.5 265.6h0.8M94.3 264.9h0.8M94.3 265.4h0.8M95.4 266.7h0.8M95.4 262.6h0.8M95.5 263.4h0.8M95.8 264.8h0.8M95.8 264.0h0.8M95.9 265.1h0.8M96.0 264.3h0.8M96.0 264.1h0.8M96.0 266.7h0.8M96.4 263.0h0.8M96.7 264.9h0.8M97.0 267.0h0.8M97.3 262.1h0.8M97.4 264.8h0.8M97.6 264.6h0.8M97.6 267.3h0.8M97.8 263.6h0.8M97.8 266.6h0.8M97.9 262.6h0.8M98.0 262.8h0.8M98.1 264.1h0.8M98.1 261.7h0.8M98.5 263.0h0.8M98.7 264.7h0.8M98.7 261.8h0.8M98.8 262.9h0.8M99.0 263.3h0.8M99.1 261.6h0.8M99.4 261.7h0.8M99.5 261.6h0.8M99.5 265.1h0.8M99.5 266.4h0.8M99.7 262.3h0.8M99.9 266.4h0.8M99.9 261.6h0.8M99.9 261.4h0.8M99.9 265.4h0.8M100.1 265.7h0.8M100.2 262.7h0.8M100.4 261.6h0.8M100.7 262.8h0.8M100.7 266.9h0.8M100.7 261.9h0.8M100.9 262.0h0.8M101.1 263.6h0.8M101.2 261.5h0.8M101.5 262.6h0.8M101.7 264.7h0.8M102.2 263.3h0.8M102.2 266.7h0.8M102.4 261.6h0.8M102.4 265.6h0.8M102.5 264.0h0.8M102.6 264.6h0.8M102.8 262.2h0.8M103.2 264.4h0.8M103.4 261.5h0.8M103.7 266.3h0.8M103.8 261.6h0.8M103.9 262.6h0.8M104.0 263.0h0.8M104.2 264.7h0.8M104.3 263.5h0.8M104.5 266.9h0.8M104.5 263.5h0.8M104.6 264.5h0.8M105.2 265.0h0.8M105.3 265.8h0.8M105.5 266.2h0.8M105.6 262.4h0.8M105.9 261.5h0.8M107.3 261.6h0.8M107.5 264.8h0.8M107.5 266.9h0.8M107.6 266.6h0.8M107.9 262.8h0.8M107.9 264.8h0.8M108.1 264.6h0.8M108.6 263.8h0.8M108.6 263.3h0.8M108.7 264.2h0.8M108.9 262.3h0.8M112.2 262.3h0.8M112.5 261.9h0.8M113.4 261.9h0.8M114.4 263.3h0.8M51.5 269.5h0.8M52.8 270.0h0.8M52.9 268.5h0.8M53.1 268.1h0.8M53.3 270.2h0.8M53.8 267.8h0.8M54.1 269.2h0.8M54.3 269.2h0.8M54.4 268.2h0.8M54.6 268.6h0.8M55.2 270.0h0.8M55.7 268.4h0.8M55.7 268.4h0.8M57.1 270.0h0.8M57.2 269.9h0.8M57.5 271.9h0.8M59.0 269.5h0.8M60.5 272.3h0.8M60.5 272.1h0.8M61.0 268.9h0.8M61.6 269.9h0.8M67.5 272.4h0.8M67.9 271.0h0.8M69.4 272.6h0.8M72.2 273.3h0.8M91.1 270.9h0.8M91.3 270.4h0.8M91.6 270.2h0.8M91.8 270.8h0.8M91.9 272.6h0.8M92.1 272.8h0.8M92.5 269.8h0.8M92.8 268.9h0.8M92.8 269.3h0.8M92.8 270.7h0.8M92.9 269.2h0.8M93.0 267.7h0.8M93.0 268.0h0.8M93.1 267.6h0.8M93.2 267.5h0.8M93.5 269.7h0.8M93.6 272.1h0.8M93.8 270.6h0.8M93.9 268.7h0.8M94.2 270.0h0.8M94.5 268.6h0.8M94.6 268.2h0.8M94.8 268.7h0.8M94.9 270.7h0.8M94.9 269.0h0.8M95.0 271.7h0.8M95.4 268.8h0.8M95.7 268.8h0.8M96.1 267.5h0.8M96.1 267.7h0.8M96.2 267.5h0.8M96.4 271.0h0.8M96.4 270.1h0.8M96.6 268.0h0.8M96.6 268.9h0.8M96.7 270.0h0.8M97.1 270.9h0.8M97.2 268.4h0.8M97.8 269.6h0.8M98.4 267.8h0.8M98.6 272.9h0.8M98.9 271.7h0.8M99.5 272.4h0.8M100.7 267.8h0.8M100.8 272.7h0.8M101.0 269.9h0.8M101.7 269.1h0.8M101.8 268.8h0.8M102.4 269.1h0.8M102.5 269.8h0.8M103.1 269.8h0.8M107.2 267.5h0.8M61.0 275.1h0.8M61.9 275.3h0.8M62.5 275.1h0.8M62.9 274.1h0.8M63.1 276.3h0.8M63.5 275.7h0.8M63.5 274.2h0.8M64.0 274.1h0.8M64.1 274.9h0.8M64.4 276.6h0.8M65.8 276.3h0.8M66.3 274.2h0.8M67.3 275.8h0.8M68.2 274.2h0.8M68.7 276.8h0.8M70.4 277.1h0.8M70.6 278.9h0.8M70.7 276.9h0.8M70.9 275.0h0.8M72.0 277.5h0.8M73.2 278.6h0.8M73.5 273.4h0.8M73.5 277.4h0.8M73.5 275.6h0.8M73.8 273.7h0.8M74.3 277.0h0.8M74.5 273.9h0.8M75.0 276.1h0.8M75.2 273.8h0.8M76.5 279.4h0.8M76.5 277.2h0.8M76.7 278.3h0.8M76.7 277.5h0.8M76.9 277.5h0.8M76.9 275.7h0.8M76.9 276.9h0.8M77.0 277.7h0.8M77.4 277.9h0.8M77.5 279.3h0.8M77.7 278.8h0.8M77.7 277.4h0.8M77.7 277.5h0.8M77.9 275.3h0.8M78.0 276.9h0.8M78.1 277.8h0.8M78.1 274.8h0.8M78.2 278.9h0.8M78.4 275.1h0.8M78.4 278.6h0.8M78.5 278.1h0.8M78.6 275.7h0.8M78.7 279.1h0.8M78.9 277.5h0.8M79.2 278.0h0.8M79.4 275.6h0.8M79.5 277.4h0.8M79.5 277.1h0.8M80.0 277.1h0.8M80.5 275.7h0.8M80.7 278.0h0.8M81.1 276.3h0.8M81.5 278.8h0.8M81.6 276.2h0.8M81.9 275.8h0.8M82.0 277.0h0.8M82.1 276.8h0.8M82.4 278.9h0.8M82.8 279.1h0.8M82.8 278.0h0.8M83.1 279.4h0.8M83.1 278.5h0.8M83.1 278.0h0.8M83.2 278.1h0.8M83.4 278.8h0.8M83.6 275.7h0.8M83.8 278.8h0.8M84.5 278.2h0.8M84.6 278.5h0.8M84.6 278.8h0.8M85.4 275.9h0.8M85.5 279.1h0.8M86.5 273.5h0.8M88.4 274.6h0.8M88.4 274.2h0.8M88.6 275.0h0.8M88.8 277.4h0.8M89.2 274.9h0.8M89.2 274.3h0.8M89.6 275.6h0.8M89.7 275.6h0.8M89.7 275.5h0.8M89.9 275.2h0.8M90.0 275.4h0.8M90.8 278.1h0.8M91.4 275.0h0.8M91.5 274.9h0.8M92.1 278.6h0.8M92.2 274.9h0.8M92.6 275.1h0.8M92.7 273.8h0.8M92.9 275.8h0.8M92.9 276.7h0.8M93.8 277.2h0.8M94.1 276.5h0.8M94.2 279.4h0.8M94.4 275.0h0.8M94.5 275.7h0.8M94.5 275.3h0.8M95.1 273.5h0.8M95.1 275.4h0.8M95.2 278.1h0.8M95.3 275.0h0.8M95.3 275.0h0.8M95.4 277.6h0.8M95.4 276.8h0.8M96.1 277.2h0.8M96.9 276.1h0.8M97.1 276.4h0.8M97.6 276.0h0.8M97.8 274.7h0.8M97.8 278.1h0.8M97.9 278.3h0.8M98.1 273.7h0.8M98.2 279.4h0.8M98.2 276.9h0.8M98.3 277.2h0.8M98.7 276.9h0.8M98.7 275.2h0.8M100.2 277.4h0.8M100.6 274.6h0.8M101.0 276.2h0.8M101.2 274.1h0.8M67.1 281.5h0.8M74.5 280.5h0.8M75.5 279.5h0.8M78.0 279.6h0.8M78.3 284.4h0.8M78.4 280.8h0.8M79.8 279.7h0.8M79.9 281.0h0.8M80.7 280.9h0.8M80.9 283.1h0.8M80.9 281.3h0.8M81.1 279.4h0.8M81.4 280.5h0.8M81.8 279.5h0.8M82.3 279.6h0.8M82.3 280.0h0.8M82.5 280.1h0.8M82.6 280.7h0.8M82.7 282.4h0.8M82.8 280.2h0.8M82.8 279.9h0.8M83.9 283.9h0.8M84.0 282.0h0.8M84.0 279.5h0.8M84.2 282.0h0.8M84.4 279.6h0.8M84.5 281.3h0.8M85.5 279.8h0.8M87.5 283.1h0.8M87.8 281.8h0.8M88.1 279.8h0.8M88.2 284.6h0.8M88.3 282.8h0.8M88.3 283.5h0.8M88.6 282.0h0.8M88.7 285.3h0.8M88.8 280.3h0.8M88.9 282.7h0.8M90.2 279.9h0.8M90.8 283.0h0.8M93.5 281.4h0.8M93.7 279.7h0.8M91.4 287.1h0.8"/><path stroke="#2a62a8" d="M90.2 174.9h0.8M90.9 176.3h0.8M91.4 174.9h0.8M92.6 174.8h0.8M76.2 182.2h0.8M76.6 181.9h0.8M77.4 180.9h0.8M78.7 182.4h0.8M79.0 182.6h0.8M79.5 180.9h0.8M79.8 181.5h0.8M84.5 177.9h0.8M94.0 177.6h0.8M57.4 186.0h0.8M63.8 187.0h0.8M64.5 184.1h0.8M65.8 188.2h0.8M69.3 184.1h0.8M71.1 184.9h0.8M73.8 183.8h0.8M75.1 186.7h0.8M75.4 184.9h0.8M40.9 194.7h0.8M46.2 191.6h0.8M46.9 194.0h0.8M50.2 193.2h0.8M58.8 190.5h0.8M60.3 189.5h0.8M87.1 193.6h0.8M97.6 191.9h0.8M98.2 194.7h0.8M101.6 194.9h0.8M36.1 200.3h0.8M36.9 199.5h0.8M40.0 200.5h0.8M41.2 200.8h0.8M41.7 198.8h0.8M44.3 200.6h0.8M45.5 197.3h0.8M47.9 200.5h0.8M48.6 195.8h0.8M49.2 197.4h0.8M80.8 199.3h0.8M81.5 196.2h0.8M85.3 199.8h0.8M89.1 198.8h0.8M89.9 198.4h0.8M90.4 200.3h0.8M99.6 196.6h0.8M101.8 196.6h0.8M105.2 200.5h0.8M106.4 198.2h0.8M108.4 198.3h0.8M108.6 199.8h0.8M109.5 196.3h0.8M109.7 198.8h0.8M111.2 200.9h0.8M36.3 206.6h0.8M36.5 205.1h0.8M37.4 205.9h0.8M37.7 205.9h0.8M37.8 204.2h0.8M38.4 204.9h0.8M42.0 201.5h0.8M47.8 205.6h0.8M74.9 203.5h0.8M79.4 204.8h0.8M80.2 206.2h0.8M80.9 205.0h0.8M80.9 204.2h0.8M82.4 207.2h0.8M86.4 206.3h0.8M88.0 207.3h0.8M92.0 202.8h0.8M92.8 204.0h0.8M94.1 205.3h0.8M95.4 201.4h0.8M104.2 201.5h0.8M104.5 206.7h0.8M106.3 201.5h0.8M106.8 202.0h0.8M107.8 202.0h0.8M108.2 207.0h0.8M112.7 207.0h0.8M38.3 211.0h0.8M40.4 209.2h0.8M40.9 213.2h0.8M43.3 210.4h0.8M45.4 213.4h0.8M47.0 209.6h0.8M52.8 209.1h0.8M62.7 212.1h0.8M65.1 212.9h0.8M70.3 210.3h0.8M70.9 211.8h0.8M75.4 208.7h0.8M81.3 213.0h0.8M81.5 208.8h0.8M81.8 210.3h0.8M83.1 211.5h0.8M83.2 208.1h0.8M83.7 213.0h0.8M83.8 213.0h0.8M84.0 212.0h0.8M85.8 213.1h0.8M86.9 212.4h0.8M87.9 210.4h0.8M88.4 211.6h0.8M92.4 207.5h0.8M93.9 213.1h0.8M97.0 213.0h0.8M97.0 212.3h0.8M97.2 211.6h0.8M97.3 213.2h0.8M97.3 207.7h0.8M97.7 211.3h0.8M99.3 211.8h0.8M101.0 208.1h0.8M101.6 210.5h0.8M104.5 208.9h0.8M104.5 212.2h0.8M104.6 211.7h0.8M105.1 208.9h0.8M109.5 210.9h0.8M110.4 209.1h0.8M111.5 207.5h0.8M111.5 207.9h0.8M112.0 207.8h0.8M112.0 210.5h0.8M112.8 208.0h0.8M113.5 207.6h0.8M118.3 209.9h0.8M120.2 212.7h0.8M122.3 212.1h0.8M29.9 213.5h0.8M30.8 219.2h0.8M31.2 216.4h0.8M32.8 214.2h0.8M32.8 215.0h0.8M32.9 215.0h0.8M34.1 214.2h0.8M34.6 215.2h0.8M34.9 216.0h0.8M36.8 214.0h0.8M37.7 217.6h0.8M39.4 213.9h0.8M41.0 219.0h0.8M49.3 219.0h0.8M52.5 218.1h0.8M52.7 219.3h0.8M61.7 215.8h0.8M61.7 216.4h0.8M62.6 219.2h0.8M63.8 215.3h0.8M65.0 219.2h0.8M67.3 218.2h0.8M71.2 214.9h0.8M73.2 216.3h0.8M74.5 215.4h0.8M75.8 213.6h0.8M76.3 215.9h0.8M82.2 215.4h0.8M82.7 216.8h0.8M83.8 214.5h0.8M85.3 217.7h0.8M89.8 217.6h0.8M94.0 214.3h0.8M106.5 217.0h0.8M107.5 213.4h0.8M109.6 214.3h0.8M109.9 214.7h0.8M110.2 217.8h0.8M115.2 218.4h0.8M117.0 217.1h0.8M117.4 217.5h0.8M117.4 217.8h0.8M120.3 217.5h0.8M121.3 217.3h0.8M127.1 217.5h0.8M127.4 219.2h0.8M128.4 216.4h0.8M128.7 219.1h0.8M131.7 217.4h0.8M133.8 218.9h0.8M29.6 221.6h0.8M33.3 220.6h0.8M33.4 221.6h0.8M34.7 220.3h0.8M35.6 222.5h0.8M36.8 220.2h0.8M40.0 220.1h0.8M51.6 220.1h0.8M51.8 224.7h0.8M51.9 225.1h0.8M52.4 222.6h0.8M54.4 219.4h0.8M55.5 220.2h0.8M59.8 224.2h0.8M64.2 224.1h0.8M65.6 221.4h0.8M69.9 222.2h0.8M69.9 220.1h0.8M72.3 220.5h0.8M86.0 219.6h0.8M102.5 223.1h0.8M103.9 223.2h0.8M106.0 223.1h0.8M109.6 223.8h0.8M110.2 220.6h0.8M110.5 220.2h0.8M125.2 224.3h0.8M32.4 230.8h0.8M36.4 228.4h0.8M75.9 229.0h0.8M94.6 228.1h0.8M95.2 231.1h0.8M97.2 230.4h0.8M98.5 226.8h0.8M99.5 229.3h0.8M99.6 231.1h0.8M100.8 226.3h0.8M103.8 226.5h0.8M104.5 225.6h0.8M104.6 227.6h0.8M105.1 225.8h0.8M106.4 227.6h0.8M107.1 226.6h0.8M125.8 225.5h0.8M126.9 228.1h0.8M128.0 227.4h0.8M136.0 230.8h0.8M37.2 234.1h0.8M38.7 233.9h0.8M43.7 237.3h0.8M45.5 236.5h0.8M46.3 234.9h0.8M46.5 234.0h0.8M47.7 232.4h0.8M49.1 236.5h0.8M49.5 233.1h0.8M50.8 236.0h0.8M53.5 236.5h0.8M53.9 235.3h0.8M55.2 236.6h0.8M87.2 234.7h0.8M97.2 232.0h0.8M97.3 231.5h0.8M128.4 237.3h0.8M130.0 232.0h0.8M130.4 231.9h0.8M131.3 232.5h0.8M134.2 236.3h0.8M135.6 234.7h0.8M46.5 238.2h0.8M47.4 240.5h0.8M49.3 239.2h0.8M51.9 241.0h0.8M52.9 242.1h0.8M54.3 243.2h0.8M73.1 242.8h0.8M74.2 242.5h0.8M75.4 238.1h0.8M80.5 239.1h0.8M82.4 239.8h0.8M82.8 240.6h0.8M84.4 241.6h0.8M89.1 240.7h0.8M91.0 239.2h0.8M91.3 239.7h0.8M125.1 240.5h0.8M125.8 238.6h0.8M45.1 246.0h0.8M49.2 246.2h0.8M49.3 246.3h0.8M55.4 248.5h0.8M55.5 247.8h0.8M58.7 248.1h0.8M62.0 248.2h0.8M62.2 244.3h0.8M71.9 248.4h0.8M73.6 244.9h0.8M74.3 243.7h0.8M74.5 245.1h0.8M74.9 246.2h0.8M76.2 243.9h0.8M76.5 246.3h0.8M125.1 247.6h0.8M128.6 244.1h0.8M129.5 245.4h0.8M131.8 244.8h0.8M58.2 250.1h0.8M59.5 251.2h0.8M83.7 251.9h0.8M119.9 249.9h0.8M121.0 253.4h0.8M121.8 255.3h0.8M82.2 260.1h0.8M87.1 256.1h0.8M88.7 256.1h0.8M94.9 258.5h0.8M108.1 255.7h0.8M116.2 256.6h0.8M116.5 258.0h0.8M116.8 256.7h0.8M41.7 264.8h0.8M55.0 267.0h0.8M97.8 261.4h0.8M98.2 265.2h0.8M92.3 268.4h0.8M93.1 268.0h0.8M99.0 270.7h0.8M101.7 269.0h0.8M62.0 274.2h0.8M71.5 278.4h0.8M98.1 275.9h0.8M85.4 280.5h0.8"/></g>
<path d="M23.7,291 V170 M144.5,291 H23.7" fill="none" stroke="#8a8a8a" stroke-width="0.6"/>
<path d="M22.6,171 L23.7,168 L24.8,171 Z M143.5,289.9 L146.5,291 L143.5,292.1 Z" fill="#777"/>
<text transform="translate(21.5,229) rotate(-90)" font-size="3.5" text-anchor="middle" fill="#333" text-rendering="geometricPrecision">tSNE2</text>
<text x="85" y="295.3" font-size="3.5" text-anchor="middle" fill="#333" text-rendering="geometricPrecision">tSNE1</text>
<circle cx="147.3" cy="223.75" r="1.05" fill="#10a070"/>
<text x="149.9" y="225.25" font-size="4.2" fill="#333">WT</text>
<circle cx="147.3" cy="228.2" r="1.05" fill="#e06a28"/>
<text x="149.9" y="229.7" font-size="4.2" fill="#333">KO</text>
<circle cx="147.3" cy="232.5" r="1.05" fill="#2a62a8"/>
<text x="149.9" y="234.0" font-size="4.2" fill="#333">KI</text>
<defs><filter id="hb" x="-2%" y="-1%" width="104%" height="102%"><feGaussianBlur stdDeviation="0.45 0.65"/></filter></defs>
<g filter="url(#hb)"><g stroke-width="1" shape-rendering="crispEdges" fill="none"><path stroke="#a3a300" d="M205.5 22.5h1.9M205.5 23.5h1.9M205.5 24.5h1.9M215.8 27.5h4.4M207.4 28.5h8.4M215.8 29.5h4.4M207.4 30.5h8.4M220.2 30.5h7.9M205.5 32.5h1.9M207.4 33.5h8.4M205.5 40.5h1.9M205.5 41.5h10.3M220.2 42.5h7.9M205.5 44.5h10.3M215.8 54.5h4.4M228.1 56.5h8.4M215.8 64.5h12.3M220.2 68.5h7.9M220.2 70.5h7.9M228.1 71.5h8.4M228.1 74.5h8.4M220.2 76.5h7.9M207.4 78.5h12.8M236.5 79.5h10.9M220.2 80.5h7.9M236.5 80.5h10.9M305.2 82.5h6.5M305.2 83.5h6.5M305.2 98.5h6.5M247.4 106.5h15.8M247.4 110.5h15.8M236.5 122.5h10.9M236.5 131.5h10.9M247.4 139.5h15.8M247.4 155.5h15.8M263.2 163.5h9.2M263.2 164.5h9.2M285.5 164.5h7.1M263.2 166.5h9.2M263.2 169.5h9.2M272.4 180.5h13.1M272.4 184.5h13.1M285.5 192.5h7.1M285.5 194.5h7.1M292.6 200.5h7.1M272.4 203.5h13.1M285.5 206.5h7.1M299.7 206.5h5.5M263.2 210.5h9.2M285.5 211.5h7.1M272.4 218.5h20.2M272.4 219.5h13.1M285.5 223.5h7.1M292.6 224.5h7.1M299.7 225.5h5.5M292.6 231.5h7.1M305.2 232.5h6.5M305.2 242.5h6.5M205.5 253.5h10.3M305.2 254.5h6.5"/><path stroke="#484800" d="M207.4 22.5h8.4M228.1 31.5h8.4M305.2 31.5h6.5M215.8 35.5h4.4M220.2 37.5h7.9M305.2 38.5h6.5M220.2 40.5h7.9M228.1 44.5h8.4M247.4 51.5h15.8M228.1 54.5h8.4M236.5 69.5h10.9M236.5 71.5h10.9M207.4 93.5h8.4M236.5 124.5h10.9M236.5 130.5h10.9M236.5 150.5h10.9M272.4 207.5h13.1M272.4 213.5h13.1M272.4 215.5h20.2M285.5 222.5h7.1M205.5 262.5h14.7M205.5 263.5h14.7M285.5 275.5h7.1M305.2 275.5h6.5M305.2 277.5h6.5M305.2 278.5h6.5M305.2 284.5h6.5M305.2 286.5h6.5M272.4 287.5h13.1"/><path stroke="#480048" d="M215.8 22.5h31.6M220.2 23.5h16.3M207.4 24.5h29.1M247.4 24.5h15.8M215.8 25.5h4.4M228.1 25.5h8.4M247.4 25.5h15.8M292.6 28.5h7.1M247.4 29.5h15.8M272.4 29.5h13.1M236.5 30.5h10.9M272.4 30.5h13.1M236.5 33.5h10.9M215.8 34.5h4.4M272.4 34.5h20.2M299.7 35.5h5.5M247.4 36.5h25.0M228.1 38.5h8.4M272.4 38.5h20.2M236.5 39.5h26.7M285.5 40.5h7.1M236.5 41.5h10.9M215.8 43.5h4.4M228.1 43.5h8.4M263.2 44.5h9.2M285.5 44.5h7.1M228.1 45.5h8.4M247.4 45.5h15.8M215.8 46.5h12.3M228.1 47.5h8.4M247.4 48.5h15.8M292.6 48.5h7.1M205.5 49.5h1.9M228.1 49.5h8.4M305.2 49.5h6.5M220.2 50.5h27.2M220.2 51.5h7.9M305.2 51.5h6.5M220.2 52.5h7.9M305.2 52.5h6.5M220.2 53.5h16.3M205.5 54.5h1.9M220.2 54.5h7.9M236.5 54.5h10.9M236.5 55.5h10.9M220.2 56.5h7.9M292.6 57.5h7.1M305.2 58.5h6.5M215.8 61.5h4.4M247.4 61.5h15.8M305.2 65.5h6.5M236.5 66.5h26.7M205.5 67.5h1.9M263.2 70.5h9.2M236.5 72.5h10.9M305.2 73.5h6.5M292.6 75.5h7.1M305.2 75.5h6.5M236.5 78.5h10.9M205.5 81.5h1.9M205.5 82.5h1.9M205.5 83.5h1.9M205.5 84.5h1.9M205.5 85.5h1.9M305.2 85.5h6.5M299.7 86.5h5.5M215.8 89.5h4.4M205.5 90.5h1.9M292.6 91.5h7.1M236.5 92.5h10.9M236.5 93.5h26.7M207.4 94.5h8.4M236.5 94.5h10.9M247.4 95.5h15.8M236.5 96.5h26.7M236.5 97.5h10.9M228.1 101.5h8.4M247.4 101.5h15.8M263.2 103.5h9.2M263.2 104.5h9.2M220.2 105.5h7.9M220.2 106.5h7.9M305.2 109.5h6.5M220.2 110.5h7.9M228.1 112.5h8.4M247.4 112.5h15.8M305.2 112.5h6.5M292.6 118.5h7.1M292.6 119.5h7.1M272.4 120.5h13.1M220.2 122.5h7.9M263.2 125.5h9.2M305.2 125.5h6.5M236.5 128.5h10.9M263.2 130.5h9.2M263.2 131.5h9.2M236.5 133.5h10.9M236.5 134.5h26.7M272.4 134.5h20.2M299.7 137.5h5.5M236.5 138.5h10.9M305.2 140.5h6.5M236.5 141.5h10.9M247.4 142.5h15.8M305.2 142.5h6.5M272.4 145.5h13.1M299.7 145.5h5.5M272.4 146.5h13.1M292.6 146.5h7.1M299.7 148.5h5.5M272.4 151.5h13.1M305.2 151.5h6.5M236.5 152.5h10.9M299.7 152.5h5.5M236.5 153.5h10.9M272.4 153.5h20.2M236.5 154.5h26.7M285.5 155.5h7.1M205.5 159.5h1.9M247.4 159.5h15.8M285.5 159.5h7.1M299.7 165.5h5.5M236.5 168.5h10.9M285.5 169.5h7.1M247.4 170.5h15.8M247.4 171.5h15.8M205.5 172.5h1.9M305.2 172.5h6.5M285.5 173.5h7.1M285.5 176.5h7.1M299.7 178.5h5.5M263.2 180.5h9.2M263.2 184.5h9.2M292.6 184.5h7.1M247.4 186.5h15.8M263.2 190.5h9.2M292.6 191.5h7.1M263.2 192.5h9.2M299.7 192.5h5.5M263.2 193.5h9.2M228.1 194.5h19.3M305.2 194.5h6.5M205.5 195.5h1.9M263.2 195.5h9.2M220.2 196.5h7.9M299.7 197.5h5.5M263.2 198.5h9.2M299.7 198.5h5.5M247.4 200.5h15.8M247.4 201.5h15.8M272.4 201.5h13.1M272.4 204.5h13.1M205.5 205.5h1.9M263.2 205.5h9.2M305.2 206.5h6.5M263.2 207.5h9.2M272.4 208.5h13.1M220.2 210.5h7.9M247.4 210.5h15.8M263.2 211.5h9.2M305.2 212.5h6.5M272.4 214.5h20.2M247.4 216.5h15.8M263.2 217.5h9.2M305.2 219.5h6.5M247.4 221.5h15.8M305.2 221.5h6.5M263.2 225.5h9.2M263.2 228.5h9.2M285.5 228.5h7.1M272.4 229.5h13.1M305.2 230.5h6.5M263.2 231.5h9.2M285.5 231.5h7.1M263.2 249.5h9.2M207.4 256.5h8.4M228.1 256.5h8.4M247.4 256.5h25.0M292.6 256.5h7.1M207.4 269.5h8.4M292.6 269.5h7.1M220.2 271.5h7.9M285.5 271.5h7.1M299.7 272.5h5.5M247.4 274.5h15.8M236.5 276.5h10.9M292.6 278.5h7.1M215.8 279.5h4.4M215.8 281.5h4.4M272.4 282.5h13.1M220.2 283.5h16.3M236.5 285.5h10.9M247.4 288.5h15.8"/><path stroke="#121200" d="M247.4 22.5h15.8M236.5 25.5h10.9M215.8 26.5h4.4M263.2 26.5h22.3M247.4 33.5h15.8M305.2 34.5h6.5M247.4 37.5h15.8M215.8 39.5h4.4M220.2 41.5h7.9M247.4 43.5h15.8M236.5 48.5h10.9M215.8 52.5h4.4M247.4 63.5h15.8M236.5 65.5h10.9M236.5 67.5h10.9M205.5 89.5h1.9M236.5 90.5h10.9M205.5 91.5h1.9M305.2 95.5h6.5M207.4 98.5h8.4M236.5 98.5h10.9M228.1 102.5h8.4M228.1 107.5h8.4M228.1 109.5h8.4M236.5 117.5h10.9M236.5 120.5h10.9M272.4 142.5h13.1M285.5 144.5h7.1M247.4 146.5h15.8M272.4 149.5h13.1M236.5 151.5h10.9M285.5 163.5h7.1M285.5 171.5h7.1M292.6 178.5h7.1M263.2 181.5h9.2M299.7 194.5h5.5M263.2 196.5h9.2M263.2 204.5h9.2M263.2 213.5h9.2M272.4 217.5h13.1M285.5 224.5h7.1M285.5 229.5h7.1M205.5 232.5h1.9M205.5 233.5h1.9M205.5 234.5h1.9M205.5 236.5h1.9M247.4 236.5h15.8M220.2 238.5h7.9M263.2 238.5h9.2M205.5 240.5h1.9M285.5 240.5h7.1M207.4 242.5h8.4M205.5 244.5h1.9M236.5 245.5h10.9M215.8 246.5h4.4M272.4 246.5h27.3M205.5 247.5h1.9M205.5 248.5h10.3M292.6 248.5h7.1M205.5 250.5h10.3M285.5 251.5h7.1M228.1 252.5h8.4M285.5 252.5h7.1M236.5 253.5h10.9M215.8 254.5h12.3M272.4 258.5h13.1M215.8 259.5h4.4M228.1 259.5h8.4M299.7 259.5h5.5M305.2 260.5h6.5M215.8 261.5h4.4M220.2 262.5h7.9M263.2 263.5h9.2M215.8 265.5h4.4M263.2 265.5h22.3M305.2 270.5h6.5"/><path stroke="#6d006d" d="M263.2 22.5h22.3M263.2 27.5h9.2M299.7 30.5h5.5M272.4 32.5h13.1M299.7 32.5h5.5M263.2 33.5h9.2M247.4 35.5h15.8M292.6 35.5h7.1M263.2 38.5h9.2M299.7 38.5h5.5M299.7 40.5h5.5M236.5 42.5h10.9M292.6 44.5h7.1M292.6 45.5h7.1M272.4 46.5h13.1M205.5 47.5h1.9M236.5 49.5h10.9M263.2 49.5h36.5M205.5 50.5h1.9M292.6 51.5h7.1M285.5 52.5h7.1M205.5 53.5h1.9M247.4 53.5h15.8M305.2 55.5h6.5M285.5 56.5h7.1M205.5 57.5h1.9M236.5 58.5h10.9M292.6 61.5h7.1M205.5 62.5h1.9M292.6 63.5h7.1M263.2 65.5h9.2M205.5 66.5h1.9M305.2 68.5h6.5M285.5 70.5h7.1M247.4 71.5h15.8M305.2 71.5h6.5M247.4 74.5h15.8M305.2 74.5h6.5M299.7 75.5h5.5M292.6 76.5h12.6M292.6 77.5h7.1M292.6 78.5h7.1M285.5 79.5h7.1M247.4 80.5h15.8M305.2 84.5h6.5M292.6 86.5h7.1M285.5 88.5h14.2M207.4 89.5h8.4M299.7 90.5h5.5M272.4 91.5h13.1M207.4 92.5h8.4M285.5 92.5h7.1M220.2 94.5h7.9M299.7 94.5h5.5M220.2 95.5h7.9M220.2 96.5h7.9M299.7 98.5h5.5M220.2 102.5h7.9M207.4 103.5h8.4M220.2 103.5h7.9M305.2 103.5h6.5M285.5 104.5h14.2M207.4 105.5h8.4M272.4 105.5h13.1M292.6 105.5h7.1M285.5 106.5h7.1M299.7 106.5h5.5M220.2 107.5h7.9M263.2 107.5h9.2M207.4 108.5h8.4M220.2 108.5h7.9M263.2 108.5h9.2M299.7 108.5h5.5M272.4 109.5h13.1M215.8 110.5h4.4M263.2 110.5h9.2M285.5 110.5h7.1M299.7 110.5h5.5M207.4 111.5h8.4M220.2 111.5h7.9M305.2 111.5h6.5M292.6 117.5h7.1M207.4 118.5h12.8M228.1 118.5h8.4M272.4 118.5h13.1M220.2 119.5h7.9M305.2 119.5h6.5M263.2 120.5h9.2M272.4 121.5h13.1M299.7 121.5h5.5M272.4 122.5h13.1M299.7 122.5h5.5M263.2 124.5h9.2M305.2 124.5h6.5M285.5 125.5h14.2M205.5 126.5h1.9M285.5 126.5h7.1M272.4 127.5h13.1M292.6 127.5h7.1M285.5 128.5h14.2M272.4 130.5h13.1M292.6 132.5h7.1M305.2 132.5h6.5M292.6 134.5h7.1M220.2 136.5h7.9M292.6 136.5h7.1M299.7 140.5h5.5M205.5 144.5h1.9M205.5 147.5h1.9M305.2 147.5h6.5M205.5 148.5h1.9M220.2 148.5h16.3M285.5 150.5h7.1M292.6 153.5h19.1M236.5 160.5h26.7M247.4 161.5h15.8M299.7 161.5h5.5M205.5 162.5h1.9M220.2 162.5h7.9M236.5 162.5h10.9M236.5 163.5h10.9M292.6 164.5h7.1M305.2 164.5h6.5M247.4 165.5h15.8M220.2 166.5h7.9M236.5 166.5h10.9M292.6 166.5h7.1M305.2 166.5h6.5M247.4 167.5h15.8M207.4 168.5h8.4M205.5 170.5h1.9M299.7 170.5h5.5M299.7 171.5h5.5M220.2 173.5h7.9M292.6 173.5h7.1M305.2 175.5h6.5M292.6 176.5h7.1M205.5 177.5h1.9M236.5 177.5h26.7M305.2 178.5h6.5M205.5 179.5h1.9M247.4 180.5h15.8M205.5 182.5h1.9M236.5 182.5h10.9M305.2 182.5h6.5M236.5 186.5h10.9M299.7 186.5h5.5M299.7 189.5h12.0M205.5 192.5h1.9M236.5 192.5h26.7M205.5 193.5h1.9M220.2 193.5h7.9M205.5 198.5h1.9M236.5 201.5h10.9M305.2 204.5h6.5M236.5 206.5h10.9M205.5 207.5h1.9M236.5 207.5h10.9M205.5 210.5h1.9M305.2 210.5h6.5M236.5 212.5h10.9M236.5 215.5h10.9M205.5 217.5h1.9M205.5 218.5h1.9M305.2 218.5h6.5M220.2 219.5h7.9M247.4 219.5h15.8M220.2 220.5h7.9M247.4 220.5h15.8M305.2 220.5h6.5M220.2 221.5h7.9M236.5 222.5h10.9M236.5 224.5h10.9M236.5 226.5h10.9M205.5 227.5h1.9M205.5 229.5h1.9M236.5 230.5h10.9M272.4 235.5h13.1M299.7 235.5h5.5M207.4 249.5h8.4M205.5 252.5h1.9M292.6 268.5h7.1M292.6 282.5h7.1M207.4 284.5h8.4M207.4 285.5h8.4M285.5 285.5h7.1"/><path stroke="#240024" d="M285.5 22.5h7.1M272.4 23.5h13.1M305.2 24.5h6.5M272.4 25.5h13.1M247.4 27.5h15.8M236.5 28.5h10.9M285.5 29.5h7.1M247.4 30.5h15.8M292.6 30.5h7.1M220.2 34.5h7.9M263.2 37.5h9.2M285.5 37.5h7.1M215.8 38.5h4.4M236.5 38.5h10.9M292.6 38.5h7.1M285.5 42.5h7.1M247.4 44.5h15.8M205.5 45.5h1.9M236.5 46.5h10.9M205.5 48.5h1.9M247.4 50.5h15.8M236.5 51.5h10.9M236.5 52.5h26.7M215.8 53.5h4.4M215.8 55.5h4.4M220.2 57.5h7.9M236.5 57.5h10.9M215.8 58.5h4.4M247.4 62.5h15.8M305.2 63.5h6.5M305.2 67.5h6.5M247.4 68.5h15.8M205.5 69.5h1.9M236.5 73.5h26.7M205.5 76.5h1.9M236.5 77.5h10.9M205.5 86.5h1.9M236.5 86.5h10.9M207.4 87.5h8.4M305.2 88.5h6.5M247.4 92.5h15.8M305.2 92.5h6.5M305.2 104.5h6.5M263.2 106.5h9.2M305.2 106.5h6.5M263.2 118.5h9.2M305.2 130.5h6.5M285.5 131.5h7.1M263.2 133.5h9.2M299.7 135.5h5.5M305.2 136.5h6.5M305.2 139.5h6.5M292.6 144.5h7.1M305.2 144.5h6.5M272.4 147.5h13.1M285.5 148.5h7.1M285.5 152.5h7.1M305.2 155.5h6.5M285.5 160.5h7.1M285.5 166.5h7.1M247.4 168.5h15.8M305.2 168.5h6.5M292.6 170.5h7.1M299.7 174.5h5.5M263.2 178.5h9.2M299.7 180.5h5.5M299.7 184.5h5.5M292.6 187.5h7.1M263.2 189.5h9.2M247.4 194.5h15.8M299.7 207.5h5.5M299.7 212.5h5.5M263.2 216.5h9.2M263.2 220.5h9.2M272.4 225.5h13.1M272.4 228.5h13.1M215.8 236.5h4.4M215.8 237.5h4.4M236.5 237.5h10.9M205.5 239.5h1.9M285.5 239.5h7.1M215.8 241.5h4.4M272.4 241.5h13.1M215.8 243.5h4.4M228.1 243.5h8.4M263.2 243.5h9.2M299.7 243.5h5.5M215.8 244.5h4.4M220.2 245.5h7.9M263.2 245.5h9.2M207.4 246.5h8.4M236.5 246.5h26.7M220.2 247.5h7.9M247.4 247.5h15.8M263.2 250.5h22.3M236.5 251.5h10.9M228.1 253.5h8.4M299.7 253.5h5.5M207.4 254.5h8.4M285.5 254.5h7.1M299.7 255.5h5.5M220.2 256.5h7.9M285.5 256.5h7.1M247.4 257.5h15.8M215.8 258.5h4.4M220.2 259.5h7.9M247.4 260.5h15.8M285.5 261.5h7.1M299.7 261.5h5.5M299.7 263.5h5.5M207.4 264.5h8.4M299.7 264.5h5.5M236.5 265.5h10.9M299.7 265.5h5.5M205.5 268.5h10.3M228.1 268.5h8.4M263.2 268.5h9.2M299.7 268.5h5.5M228.1 269.5h8.4M272.4 269.5h20.2M207.4 270.5h12.8M228.1 270.5h19.3M292.6 270.5h7.1M236.5 271.5h10.9M263.2 271.5h22.3M205.5 272.5h1.9M228.1 272.5h8.4M207.4 273.5h8.4M228.1 273.5h19.3M263.2 273.5h9.2M292.6 273.5h12.6M220.2 274.5h16.3M272.4 274.5h32.8M215.8 275.5h20.7M247.4 275.5h15.8M292.6 275.5h7.1M205.5 276.5h1.9M215.8 276.5h4.4M272.4 276.5h32.8M205.5 277.5h14.7M236.5 277.5h10.9M272.4 277.5h13.1M215.8 278.5h4.4M272.4 278.5h13.1M207.4 279.5h8.4M285.5 279.5h7.1M207.4 280.5h12.8M263.2 280.5h9.2M285.5 280.5h14.2M205.5 281.5h1.9M220.2 281.5h16.3M247.4 281.5h15.8M207.4 282.5h8.4M228.1 282.5h44.3M299.7 282.5h5.5M207.4 283.5h8.4M263.2 283.5h22.3M220.2 284.5h7.9M247.4 284.5h25.0M285.5 284.5h19.7M215.8 285.5h20.7M272.4 285.5h13.1M299.7 285.5h5.5M207.4 286.5h20.7M247.4 286.5h15.8M299.7 286.5h5.5M236.5 287.5h26.7M292.6 287.5h7.1M220.2 288.5h16.3M263.2 288.5h9.2"/><path stroke="#360036" d="M292.6 22.5h7.1M236.5 23.5h10.9M263.2 23.5h9.2M285.5 24.5h7.1M292.6 25.5h7.1M236.5 27.5h10.9M285.5 27.5h7.1M299.7 28.5h5.5M263.2 32.5h9.2M299.7 33.5h5.5M272.4 36.5h13.1M299.7 36.5h5.5M292.6 39.5h7.1M272.4 42.5h13.1M299.7 42.5h5.5M220.2 43.5h7.9M236.5 43.5h10.9M220.2 44.5h7.9M236.5 44.5h10.9M215.8 47.5h4.4M247.4 47.5h15.8M305.2 48.5h6.5M247.4 55.5h15.8M215.8 56.5h4.4M247.4 57.5h15.8M228.1 58.5h8.4M205.5 59.5h1.9M247.4 59.5h15.8M247.4 60.5h15.8M205.5 61.5h1.9M220.2 61.5h7.9M305.2 61.5h6.5M236.5 62.5h10.9M205.5 63.5h1.9M236.5 76.5h26.7M205.5 79.5h1.9M205.5 80.5h1.9M236.5 82.5h10.9M215.8 86.5h12.3M220.2 89.5h7.9M215.8 91.5h12.3M205.5 92.5h1.9M305.2 93.5h6.5M205.5 95.5h1.9M215.8 95.5h4.4M207.4 96.5h8.4M205.5 98.5h1.9M228.1 104.5h8.4M305.2 105.5h6.5M305.2 107.5h6.5M305.2 108.5h6.5M228.1 110.5h8.4M220.2 113.5h7.9M292.6 126.5h12.6M236.5 127.5h10.9M263.2 128.5h9.2M236.5 129.5h10.9M305.2 129.5h6.5M272.4 131.5h13.1M292.6 131.5h7.1M263.2 132.5h9.2M285.5 135.5h7.1M285.5 136.5h7.1M247.4 137.5h15.8M285.5 137.5h7.1M305.2 137.5h6.5M272.4 138.5h13.1M299.7 138.5h5.5M299.7 139.5h5.5M236.5 140.5h10.9M285.5 141.5h7.1M247.4 143.5h15.8M285.5 143.5h7.1M247.4 145.5h15.8M285.5 147.5h7.1M305.2 148.5h6.5M292.6 149.5h7.1M247.4 153.5h15.8M299.7 159.5h5.5M299.7 160.5h5.5M247.4 162.5h15.8M247.4 164.5h15.8M205.5 165.5h1.9M305.2 167.5h6.5M220.2 168.5h7.9M292.6 168.5h7.1M292.6 171.5h7.1M305.2 171.5h6.5M292.6 172.5h7.1M292.6 174.5h7.1M205.5 176.5h1.9M299.7 177.5h5.5M292.6 180.5h7.1M292.6 182.5h12.6M299.7 188.5h5.5M247.4 191.5h15.8M272.4 192.5h13.1M299.7 193.5h5.5M299.7 195.5h5.5M247.4 196.5h15.8M263.2 203.5h9.2M299.7 203.5h5.5M247.4 205.5h15.8M247.4 211.5h15.8M263.2 212.5h9.2M263.2 221.5h9.2M220.2 223.5h7.9M263.2 224.5h9.2M247.4 225.5h15.8M305.2 226.5h6.5M263.2 230.5h9.2M272.4 231.5h13.1M205.5 249.5h1.9M215.8 249.5h12.3M247.4 249.5h15.8M292.6 255.5h7.1M205.5 256.5h1.9M236.5 256.5h10.9M299.7 256.5h5.5M236.5 263.5h10.9M205.5 267.5h1.9M215.8 268.5h4.4M236.5 268.5h26.7M272.4 268.5h20.2M205.5 269.5h1.9M215.8 269.5h12.3M236.5 269.5h35.9M299.7 269.5h5.5M205.5 270.5h1.9M220.2 270.5h7.9M247.4 270.5h15.8M272.4 270.5h20.2M299.7 270.5h5.5M205.5 271.5h10.3M247.4 271.5h15.8M292.6 271.5h12.6M207.4 272.5h20.7M236.5 272.5h56.1M205.5 273.5h1.9M215.8 273.5h12.3M247.4 273.5h15.8M272.4 273.5h20.2M205.5 274.5h14.7M236.5 274.5h10.9M205.5 275.5h10.3M236.5 275.5h10.9M263.2 275.5h22.3M299.7 275.5h5.5M207.4 276.5h8.4M220.2 276.5h16.3M247.4 276.5h25.0M220.2 277.5h16.3M247.4 277.5h25.0M292.6 277.5h12.6M205.5 278.5h10.3M220.2 278.5h16.3M247.4 278.5h25.0M285.5 278.5h7.1M299.7 278.5h5.5M205.5 279.5h1.9M228.1 279.5h57.4M292.6 279.5h12.6M205.5 280.5h1.9M220.2 280.5h27.2M272.4 280.5h13.1M299.7 280.5h5.5M207.4 281.5h8.4M236.5 281.5h10.9M263.2 281.5h9.2M285.5 281.5h19.7M205.5 282.5h1.9M220.2 282.5h7.9M285.5 282.5h7.1M205.5 283.5h1.9M215.8 283.5h4.4M236.5 283.5h26.7M285.5 283.5h19.7M205.5 284.5h1.9M215.8 284.5h4.4M236.5 284.5h10.9M272.4 284.5h13.1M205.5 285.5h1.9M263.2 285.5h9.2M292.6 285.5h7.1M236.5 286.5h10.9M263.2 286.5h36.5M205.5 287.5h31.0M263.2 287.5h9.2M285.5 287.5h7.1M299.7 287.5h5.5M205.5 288.5h10.3M236.5 288.5h10.9M272.4 288.5h32.8"/><path stroke="#000000" d="M299.7 22.5h5.5M247.4 23.5h15.8M299.7 23.5h5.5M285.5 25.5h7.1M299.7 25.5h12.0M285.5 26.5h19.7M263.2 30.5h9.2M220.2 32.5h7.9M247.4 32.5h15.8M285.5 33.5h7.1M236.5 34.5h10.9M228.1 35.5h8.4M247.4 38.5h15.8M215.8 40.5h4.4M263.2 43.5h9.2M215.8 57.5h4.4M215.8 60.5h4.4M228.1 60.5h8.4M305.2 76.5h6.5M247.4 79.5h15.8M305.2 81.5h6.5M236.5 87.5h10.9M305.2 87.5h6.5M207.4 90.5h8.4M220.2 109.5h7.9M305.2 131.5h6.5M272.4 140.5h13.1M305.2 141.5h6.5M272.4 144.5h13.1M236.5 146.5h10.9M292.6 150.5h7.1M285.5 151.5h7.1M272.4 154.5h13.1M285.5 174.5h7.1M263.2 185.5h9.2M263.2 186.5h9.2M272.4 193.5h13.1M272.4 195.5h13.1M263.2 197.5h22.3M272.4 198.5h13.1M263.2 200.5h9.2M263.2 208.5h9.2M263.2 209.5h22.3M263.2 219.5h9.2M285.5 225.5h7.1M263.2 226.5h9.2M236.5 232.5h49.0M299.7 232.5h5.5M228.1 233.5h35.1M272.4 233.5h13.1M292.6 233.5h12.6M215.8 234.5h4.4M236.5 234.5h10.9M272.4 234.5h27.3M207.4 236.5h8.4M220.2 236.5h7.9M236.5 236.5h10.9M292.6 236.5h12.6M207.4 237.5h8.4M228.1 237.5h8.4M263.2 237.5h22.3M292.6 237.5h7.1M205.5 238.5h1.9M236.5 238.5h10.9M272.4 238.5h13.1M292.6 238.5h7.1M207.4 239.5h20.7M247.4 239.5h15.8M272.4 239.5h13.1M292.6 239.5h7.1M207.4 240.5h12.8M228.1 240.5h57.4M292.6 240.5h12.6M205.5 241.5h10.3M220.2 241.5h7.9M263.2 241.5h9.2M285.5 241.5h7.1M205.5 242.5h1.9M215.8 242.5h4.4M236.5 242.5h10.9M285.5 242.5h14.2M205.5 243.5h10.3M236.5 243.5h10.9M285.5 243.5h7.1M207.4 244.5h8.4M228.1 244.5h8.4M292.6 244.5h12.6M205.5 245.5h14.7M228.1 245.5h8.4M272.4 245.5h20.2M299.7 245.5h5.5M205.5 246.5h1.9M285.5 247.5h7.1M215.8 248.5h31.6M299.7 248.5h5.5M220.2 250.5h16.3M247.4 250.5h15.8M292.6 250.5h12.6M205.5 251.5h14.7M247.4 251.5h15.8M272.4 251.5h13.1M292.6 251.5h12.6M272.4 252.5h13.1M220.2 253.5h7.9M272.4 253.5h13.1M205.5 254.5h1.9M228.1 254.5h8.4M247.4 254.5h15.8M292.6 254.5h7.1M205.5 255.5h1.9M215.8 255.5h12.3M247.4 255.5h38.1M205.5 257.5h22.6M236.5 257.5h10.9M292.6 257.5h12.6M220.2 258.5h7.9M236.5 258.5h26.7M285.5 258.5h14.2M205.5 259.5h1.9M285.5 259.5h14.2M263.2 260.5h9.2M205.5 261.5h10.3M228.1 261.5h8.4M292.6 261.5h7.1M228.1 262.5h8.4M247.4 262.5h15.8M272.4 262.5h13.1M220.2 263.5h7.9M205.5 264.5h1.9M228.1 264.5h44.3M292.6 264.5h7.1M228.1 265.5h8.4M285.5 265.5h7.1M205.5 266.5h14.7M236.5 266.5h26.7M272.4 266.5h13.1M299.7 266.5h5.5M207.4 267.5h8.4M220.2 267.5h43.0M285.5 267.5h7.1M305.2 280.5h6.5"/><path stroke="#242400" d="M305.2 22.5h6.5M305.2 23.5h6.5M236.5 26.5h26.7M228.1 32.5h8.4M305.2 33.5h6.5M220.2 39.5h16.3M305.2 40.5h6.5M215.8 42.5h4.4M215.8 45.5h4.4M228.1 46.5h8.4M215.8 50.5h4.4M247.4 70.5h15.8M236.5 75.5h10.9M236.5 84.5h10.9M247.4 87.5h15.8M236.5 91.5h10.9M247.4 107.5h15.8M236.5 125.5h10.9M272.4 135.5h13.1M236.5 136.5h10.9M272.4 137.5h13.1M285.5 138.5h7.1M236.5 139.5h10.9M247.4 140.5h15.8M236.5 143.5h10.9M247.4 147.5h15.8M272.4 150.5h13.1M272.4 152.5h13.1M263.2 183.5h9.2M263.2 187.5h9.2M292.6 189.5h7.1M292.6 190.5h7.1M299.7 196.5h5.5M263.2 202.5h9.2M299.7 208.5h5.5M272.4 212.5h13.1M263.2 223.5h9.2M272.4 230.5h13.1M305.2 263.5h6.5M305.2 281.5h6.5M305.2 282.5h6.5M305.2 285.5h6.5"/><path stroke="#ffff00" d="M207.4 23.5h8.4M220.2 28.5h16.3M215.8 30.5h4.4M305.2 30.5h6.5M220.2 33.5h16.3M305.2 36.5h6.5M228.1 37.5h8.4M305.2 43.5h6.5M305.2 44.5h6.5M207.4 48.5h12.8M207.4 54.5h8.4M207.4 56.5h8.4M228.1 59.5h8.4M207.4 60.5h8.4M207.4 62.5h8.4M207.4 70.5h8.4M228.1 73.5h8.4M215.8 79.5h4.4M207.4 81.5h8.4M236.5 83.5h10.9M247.4 88.5h15.8M228.1 89.5h8.4M228.1 90.5h8.4M247.4 91.5h15.8M247.4 103.5h15.8M247.4 104.5h15.8M247.4 108.5h15.8M236.5 113.5h10.9M247.4 114.5h15.8M247.4 116.5h15.8M247.4 118.5h15.8M247.4 128.5h15.8M247.4 131.5h15.8M263.2 140.5h9.2M263.2 144.5h9.2M263.2 147.5h9.2M263.2 149.5h9.2M263.2 155.5h9.2M272.4 164.5h13.1M292.6 188.5h7.1M285.5 189.5h7.1M272.4 194.5h13.1M292.6 194.5h7.1M292.6 195.5h7.1M299.7 199.5h5.5M272.4 202.5h13.1M292.6 203.5h7.1M272.4 205.5h13.1M272.4 206.5h13.1M292.6 206.5h7.1M299.7 209.5h5.5M292.6 210.5h7.1M292.6 211.5h7.1M299.7 216.5h5.5M299.7 217.5h5.5M272.4 223.5h13.1M299.7 223.5h5.5M299.7 226.5h5.5M285.5 230.5h7.1M305.2 233.5h6.5M305.2 240.5h6.5M305.2 247.5h6.5M305.2 253.5h6.5M305.2 255.5h6.5"/><path stroke="#120012" d="M215.8 23.5h4.4M285.5 23.5h14.2M263.2 25.5h9.2M215.8 28.5h4.4M247.4 28.5h15.8M228.1 30.5h8.4M215.8 33.5h4.4M292.6 33.5h7.1M292.6 36.5h7.1M236.5 37.5h10.9M228.1 41.5h8.4M247.4 41.5h15.8M236.5 45.5h10.9M305.2 45.5h6.5M220.2 49.5h7.9M247.4 49.5h15.8M215.8 51.5h4.4M247.4 54.5h15.8M205.5 55.5h1.9M220.2 60.5h7.9M236.5 64.5h10.9M247.4 67.5h15.8M247.4 69.5h15.8M305.2 70.5h6.5M205.5 73.5h1.9M247.4 75.5h15.8M247.4 77.5h15.8M247.4 81.5h15.8M247.4 82.5h15.8M247.4 83.5h15.8M305.2 86.5h6.5M215.8 90.5h4.4M305.2 90.5h6.5M207.4 91.5h8.4M247.4 94.5h15.8M305.2 94.5h6.5M247.4 97.5h15.8M305.2 118.5h6.5M236.5 121.5h10.9M292.6 138.5h7.1M305.2 138.5h6.5M292.6 141.5h7.1M236.5 142.5h10.9M247.4 149.5h15.8M299.7 149.5h5.5M247.4 152.5h15.8M236.5 155.5h10.9M292.6 162.5h19.1M299.7 168.5h5.5M285.5 177.5h7.1M299.7 181.5h5.5M263.2 182.5h9.2M263.2 191.5h9.2M299.7 204.5h5.5M247.4 206.5h15.8M263.2 215.5h9.2M263.2 227.5h9.2M207.4 232.5h12.8M228.1 232.5h8.4M285.5 232.5h14.2M207.4 233.5h20.7M263.2 233.5h9.2M285.5 233.5h7.1M207.4 234.5h8.4M220.2 234.5h16.3M263.2 234.5h9.2M299.7 234.5h5.5M228.1 236.5h8.4M263.2 236.5h29.4M205.5 237.5h1.9M220.2 237.5h7.9M247.4 237.5h15.8M285.5 237.5h7.1M299.7 237.5h5.5M207.4 238.5h12.8M228.1 238.5h8.4M247.4 238.5h15.8M299.7 238.5h5.5M228.1 239.5h19.3M263.2 239.5h9.2M299.7 239.5h5.5M220.2 240.5h7.9M228.1 241.5h35.1M292.6 241.5h12.6M220.2 242.5h16.3M247.4 242.5h38.1M299.7 242.5h5.5M220.2 243.5h7.9M247.4 243.5h15.8M272.4 243.5h13.1M292.6 243.5h7.1M220.2 244.5h7.9M236.5 244.5h56.1M247.4 245.5h15.8M292.6 245.5h7.1M220.2 246.5h16.3M263.2 246.5h9.2M299.7 246.5h5.5M207.4 247.5h12.8M228.1 247.5h19.3M263.2 247.5h22.3M292.6 247.5h12.6M247.4 248.5h45.2M215.8 250.5h4.4M236.5 250.5h10.9M285.5 250.5h7.1M220.2 251.5h16.3M263.2 251.5h9.2M207.4 252.5h20.7M236.5 252.5h35.9M292.6 252.5h12.6M215.8 253.5h4.4M247.4 253.5h25.0M285.5 253.5h14.2M236.5 254.5h10.9M263.2 254.5h22.3M299.7 254.5h5.5M207.4 255.5h8.4M228.1 255.5h19.3M285.5 255.5h7.1M228.1 257.5h8.4M263.2 257.5h29.4M205.5 258.5h10.3M228.1 258.5h8.4M263.2 258.5h9.2M299.7 258.5h5.5M207.4 259.5h8.4M236.5 259.5h49.0M205.5 260.5h41.9M272.4 260.5h32.8M220.2 261.5h7.9M236.5 261.5h49.0M236.5 262.5h10.9M263.2 262.5h9.2M285.5 262.5h19.7M228.1 263.5h8.4M247.4 263.5h15.8M272.4 263.5h27.3M215.8 264.5h12.3M272.4 264.5h20.2M205.5 265.5h10.3M220.2 265.5h7.9M247.4 265.5h15.8M292.6 265.5h7.1M220.2 266.5h16.3M263.2 266.5h9.2M285.5 266.5h14.2M215.8 267.5h4.4M263.2 267.5h22.3M292.6 267.5h12.6M220.2 268.5h7.9M263.2 270.5h9.2M215.8 271.5h4.4M228.1 271.5h8.4M292.6 272.5h7.1M285.5 277.5h7.1M220.2 279.5h7.9M247.4 280.5h15.8M215.8 282.5h4.4M247.4 285.5h15.8M205.5 286.5h1.9M228.1 286.5h8.4M215.8 288.5h4.4"/><path stroke="#7f007f" d="M236.5 24.5h10.9M292.6 24.5h7.1M272.4 28.5h13.1M236.5 29.5h10.9M292.6 29.5h7.1M272.4 31.5h13.1M292.6 31.5h7.1M236.5 32.5h10.9M285.5 32.5h7.1M299.7 34.5h5.5M263.2 35.5h9.2M263.2 39.5h9.2M263.2 41.5h9.2M263.2 42.5h9.2M272.4 43.5h13.1M292.6 43.5h7.1M299.7 44.5h5.5M263.2 45.5h29.4M205.5 46.5h1.9M285.5 46.5h7.1M305.2 46.5h6.5M305.2 47.5h6.5M263.2 48.5h9.2M285.5 50.5h7.1M263.2 51.5h9.2M292.6 52.5h7.1M299.7 53.5h5.5M272.4 54.5h27.3M205.5 56.5h1.9M285.5 57.5h7.1M305.2 57.5h6.5M205.5 58.5h1.9M272.4 59.5h13.1M292.6 59.5h12.6M285.5 61.5h7.1M263.2 62.5h9.2M305.2 62.5h6.5M263.2 63.5h22.3M299.7 63.5h5.5M205.5 64.5h1.9M263.2 64.5h9.2M292.6 66.5h7.1M263.2 67.5h9.2M272.4 69.5h13.1M292.6 69.5h7.1M305.2 69.5h6.5M299.7 70.5h5.5M299.7 71.5h5.5M299.7 72.5h5.5M272.4 73.5h13.1M263.2 74.5h9.2M285.5 74.5h7.1M205.5 75.5h1.9M272.4 75.5h13.1M263.2 76.5h9.2M285.5 76.5h7.1M205.5 77.5h1.9M299.7 77.5h12.0M272.4 79.5h13.1M263.2 80.5h9.2M263.2 81.5h9.2M263.2 82.5h9.2M299.7 82.5h5.5M263.2 83.5h9.2M263.2 84.5h9.2M263.2 85.5h9.2M292.6 85.5h7.1M263.2 86.5h22.3M285.5 87.5h7.1M299.7 87.5h5.5M263.2 88.5h22.3M305.2 89.5h6.5M263.2 90.5h9.2M292.6 90.5h7.1M292.6 93.5h7.1M205.5 94.5h1.9M263.2 94.5h22.3M292.6 95.5h7.1M205.5 96.5h1.9M299.7 96.5h12.0M263.2 101.5h9.2M305.2 101.5h6.5M205.5 103.5h1.9M292.6 103.5h12.6M205.5 104.5h14.7M215.8 105.5h4.4M205.5 106.5h10.3M272.4 107.5h13.1M205.5 109.5h1.9M215.8 109.5h4.4M263.2 109.5h9.2M285.5 109.5h7.1M299.7 109.5h5.5M205.5 110.5h1.9M272.4 110.5h13.1M205.5 111.5h1.9M215.8 111.5h4.4M272.4 111.5h27.3M205.5 112.5h1.9M263.2 112.5h22.3M215.8 113.5h4.4M292.6 113.5h7.1M228.1 119.5h8.4M299.7 119.5h5.5M205.5 120.5h1.9M220.2 121.5h16.3M285.5 122.5h7.1M228.1 123.5h8.4M228.1 124.5h8.4M272.4 124.5h32.8M228.1 125.5h8.4M220.2 126.5h7.9M272.4 126.5h13.1M299.7 127.5h12.0M220.2 128.5h7.9M263.2 129.5h9.2M299.7 129.5h5.5M207.4 130.5h8.4M220.2 130.5h7.9M299.7 130.5h5.5M215.8 131.5h4.4M228.1 131.5h8.4M205.5 132.5h1.9M299.7 132.5h5.5M220.2 133.5h7.9M285.5 133.5h7.1M299.7 133.5h12.0M228.1 135.5h8.4M305.2 135.5h6.5M205.5 137.5h1.9M220.2 137.5h7.9M207.4 138.5h8.4M220.2 138.5h16.3M215.8 139.5h20.7M220.2 140.5h7.9M205.5 141.5h1.9M228.1 141.5h8.4M205.5 142.5h1.9M220.2 142.5h7.9M285.5 142.5h7.1M205.5 143.5h1.9M305.2 143.5h6.5M207.4 144.5h12.8M215.8 146.5h4.4M220.2 147.5h16.3M215.8 148.5h4.4M205.5 149.5h1.9M285.5 149.5h7.1M299.7 154.5h5.5M220.2 155.5h7.9M292.6 155.5h12.6M292.6 159.5h7.1M305.2 159.5h6.5M205.5 160.5h1.9M305.2 160.5h6.5M205.5 161.5h1.9M220.2 161.5h7.9M305.2 161.5h6.5M215.8 162.5h4.4M220.2 163.5h7.9M205.5 164.5h1.9M236.5 164.5h10.9M299.7 164.5h5.5M236.5 165.5h10.9M205.5 166.5h1.9M299.7 166.5h5.5M205.5 167.5h1.9M220.2 170.5h7.9M205.5 173.5h1.9M220.2 174.5h7.9M247.4 174.5h15.8M236.5 175.5h10.9M228.1 177.5h8.4M205.5 178.5h1.9M220.2 178.5h7.9M305.2 179.5h6.5M205.5 180.5h1.9M220.2 180.5h7.9M205.5 181.5h1.9M220.2 181.5h7.9M236.5 181.5h26.7M247.4 182.5h15.8M205.5 183.5h1.9M220.2 185.5h7.9M236.5 185.5h10.9M299.7 185.5h5.5M220.2 186.5h7.9M299.7 187.5h5.5M205.5 189.5h1.9M220.2 189.5h7.9M236.5 189.5h10.9M236.5 190.5h10.9M305.2 190.5h6.5M205.5 191.5h1.9M220.2 191.5h7.9M220.2 192.5h7.9M247.4 193.5h15.8M220.2 194.5h7.9M305.2 195.5h6.5M205.5 196.5h1.9M205.5 197.5h1.9M305.2 201.5h6.5M220.2 202.5h7.9M305.2 202.5h6.5M205.5 203.5h1.9M236.5 203.5h26.7M305.2 203.5h6.5M205.5 204.5h1.9M220.2 205.5h7.9M220.2 206.5h7.9M220.2 207.5h7.9M247.4 208.5h15.8M305.2 208.5h6.5M236.5 209.5h10.9M236.5 210.5h10.9M205.5 213.5h1.9M220.2 213.5h7.9M247.4 213.5h15.8M305.2 213.5h6.5M205.5 215.5h1.9M220.2 216.5h7.9M220.2 217.5h7.9M247.4 217.5h15.8M236.5 218.5h10.9M205.5 219.5h1.9M236.5 219.5h10.9M205.5 221.5h1.9M220.2 222.5h7.9M247.4 223.5h15.8M220.2 225.5h7.9M305.2 225.5h6.5M220.2 226.5h7.9M247.4 226.5h15.8M220.2 229.5h7.9M205.5 235.5h1.9M228.1 235.5h8.4M292.6 235.5h7.1M228.1 249.5h8.4"/><path stroke="#363600" d="M263.2 24.5h9.2M207.4 25.5h8.4M220.2 25.5h7.9M305.2 26.5h6.5M228.1 29.5h8.4M228.1 36.5h8.4M220.2 38.5h7.9M305.2 39.5h6.5M215.8 41.5h4.4M220.2 47.5h7.9M220.2 55.5h7.9M220.2 59.5h7.9M247.4 65.5h15.8M236.5 89.5h10.9M305.2 91.5h6.5M228.1 103.5h8.4M247.4 109.5h15.8M247.4 111.5h15.8M228.1 113.5h8.4M272.4 139.5h13.1M247.4 141.5h15.8M272.4 143.5h13.1M247.4 144.5h15.8M236.5 145.5h10.9M236.5 149.5h10.9M285.5 167.5h7.1M285.5 170.5h7.1M285.5 175.5h7.1M292.6 185.5h7.1M272.4 196.5h13.1M272.4 200.5h13.1M299.7 200.5h5.5M263.2 206.5h9.2M272.4 211.5h13.1M263.2 218.5h9.2M285.5 220.5h7.1M263.2 222.5h9.2M305.2 268.5h6.5"/><path stroke="#5b005b" d="M272.4 24.5h13.1M299.7 24.5h5.5M272.4 27.5h13.1M263.2 28.5h9.2M285.5 28.5h7.1M263.2 29.5h9.2M299.7 29.5h5.5M285.5 30.5h7.1M247.4 31.5h15.8M285.5 31.5h7.1M299.7 31.5h5.5M247.4 34.5h15.8M236.5 35.5h10.9M236.5 36.5h10.9M285.5 36.5h7.1M292.6 37.5h12.6M299.7 39.5h5.5M236.5 40.5h26.7M247.4 42.5h15.8M272.4 44.5h13.1M272.4 48.5h20.2M299.7 48.5h5.5M205.5 52.5h1.9M263.2 55.5h9.2M236.5 56.5h10.9M236.5 59.5h10.9M263.2 59.5h9.2M285.5 59.5h7.1M305.2 59.5h6.5M236.5 60.5h10.9M236.5 61.5h10.9M247.4 64.5h15.8M305.2 64.5h6.5M205.5 70.5h1.9M292.6 70.5h7.1M205.5 71.5h1.9M247.4 72.5h15.8M305.2 72.5h6.5M285.5 73.5h7.1M305.2 80.5h6.5M299.7 81.5h5.5M247.4 84.5h15.8M247.4 85.5h15.8M207.4 86.5h8.4M205.5 87.5h1.9M215.8 87.5h4.4M299.7 89.5h5.5M220.2 90.5h7.9M263.2 91.5h9.2M285.5 91.5h7.1M299.7 91.5h5.5M215.8 92.5h4.4M207.4 95.5h8.4M215.8 96.5h4.4M272.4 97.5h13.1M305.2 97.5h6.5M220.2 98.5h7.9M272.4 103.5h13.1M220.2 104.5h7.9M272.4 104.5h13.1M299.7 104.5h5.5M285.5 105.5h7.1M272.4 106.5h13.1M272.4 108.5h27.3M305.2 110.5h6.5M220.2 112.5h7.9M292.6 112.5h7.1M285.5 113.5h7.1M272.4 117.5h13.1M285.5 118.5h7.1M299.7 118.5h5.5M263.2 119.5h9.2M285.5 119.5h7.1M285.5 120.5h7.1M305.2 120.5h6.5M263.2 121.5h9.2M305.2 121.5h6.5M263.2 122.5h9.2M292.6 122.5h7.1M305.2 122.5h6.5M263.2 123.5h22.3M299.7 123.5h12.0M263.2 126.5h9.2M299.7 128.5h12.0M292.6 129.5h7.1M285.5 130.5h14.2M228.1 132.5h8.4M272.4 132.5h20.2M272.4 133.5h13.1M305.2 134.5h6.5M299.7 136.5h5.5M228.1 137.5h8.4M292.6 137.5h7.1M285.5 139.5h14.2M285.5 140.5h7.1M299.7 141.5h5.5M292.6 142.5h7.1M228.1 144.5h8.4M299.7 144.5h5.5M220.2 145.5h7.9M305.2 145.5h6.5M285.5 146.5h7.1M292.6 147.5h7.1M292.6 148.5h7.1M220.2 151.5h16.3M292.6 151.5h7.1M292.6 152.5h7.1M305.2 152.5h6.5M220.2 159.5h7.9M292.6 160.5h7.1M205.5 163.5h1.9M292.6 165.5h7.1M305.2 165.5h6.5M292.6 167.5h7.1M205.5 168.5h1.9M305.2 170.5h6.5M299.7 172.5h5.5M205.5 175.5h1.9M247.4 175.5h15.8M247.4 176.5h15.8M299.7 176.5h5.5M292.6 177.5h7.1M247.4 179.5h15.8M299.7 179.5h5.5M305.2 181.5h6.5M305.2 185.5h6.5M247.4 189.5h15.8M205.5 190.5h1.9M299.7 191.5h5.5M205.5 194.5h1.9M247.4 195.5h15.8M247.4 197.5h15.8M205.5 201.5h1.9M236.5 202.5h10.9M236.5 205.5h10.9M305.2 205.5h6.5M205.5 206.5h1.9M220.2 209.5h7.9M205.5 211.5h1.9M205.5 212.5h1.9M247.4 212.5h15.8M263.2 214.5h9.2M205.5 216.5h1.9M236.5 216.5h10.9M305.2 216.5h6.5M305.2 217.5h6.5M205.5 220.5h1.9M305.2 222.5h6.5M205.5 223.5h1.9M305.2 223.5h6.5M263.2 229.5h9.2M205.5 230.5h1.9M247.4 230.5h15.8M236.5 249.5h10.9M272.4 249.5h32.8M215.8 256.5h4.4M272.4 256.5h13.1M263.2 274.5h9.2M272.4 281.5h13.1M228.1 284.5h8.4"/><path stroke="#b6b600" d="M205.5 25.5h1.9M220.2 26.5h7.9M220.2 29.5h7.9M305.2 29.5h6.5M215.8 31.5h4.4M215.8 36.5h4.4M205.5 37.5h1.9M207.4 38.5h8.4M305.2 41.5h6.5M205.5 42.5h10.3M228.1 42.5h8.4M215.8 44.5h4.4M207.4 45.5h8.4M207.4 50.5h8.4M207.4 58.5h8.4M220.2 62.5h7.9M236.5 63.5h10.9M207.4 65.5h12.8M228.1 65.5h8.4M215.8 67.5h4.4M228.1 69.5h8.4M215.8 72.5h4.4M228.1 72.5h8.4M228.1 78.5h8.4M236.5 81.5h10.9M207.4 84.5h8.4M215.8 85.5h4.4M228.1 86.5h8.4M207.4 88.5h12.8M215.8 93.5h4.4M228.1 97.5h8.4M247.4 98.5h15.8M236.5 100.5h10.9M228.1 108.5h8.4M247.4 123.5h15.8M263.2 134.5h9.2M263.2 137.5h9.2M247.4 151.5h15.8M263.2 152.5h9.2M263.2 154.5h9.2M272.4 155.5h13.1M272.4 157.5h13.1M263.2 161.5h22.3M263.2 165.5h9.2M263.2 171.5h22.3M272.4 172.5h20.2M263.2 174.5h9.2M272.4 175.5h13.1M272.4 179.5h13.1M272.4 181.5h13.1M285.5 182.5h7.1M272.4 187.5h13.1M292.6 196.5h7.1M292.6 197.5h7.1M285.5 203.5h7.1M285.5 207.5h7.1M285.5 210.5h7.1M285.5 212.5h7.1M292.6 213.5h7.1M299.7 214.5h5.5M292.6 220.5h7.1M285.5 221.5h7.1M299.7 231.5h5.5M305.2 239.5h6.5M305.2 266.5h6.5M305.2 272.5h6.5"/><path stroke="#c8c800" d="M205.5 26.5h1.9M205.5 28.5h1.9M305.2 28.5h6.5M205.5 29.5h1.9M228.1 34.5h8.4M220.2 35.5h7.9M205.5 36.5h1.9M205.5 38.5h1.9M205.5 39.5h1.9M207.4 47.5h8.4M228.1 51.5h8.4M207.4 53.5h8.4M207.4 61.5h8.4M215.8 62.5h4.4M228.1 64.5h8.4M207.4 66.5h12.8M228.1 67.5h8.4M207.4 68.5h8.4M215.8 74.5h4.4M207.4 79.5h8.4M228.1 79.5h8.4M228.1 80.5h8.4M228.1 81.5h8.4M215.8 83.5h4.4M207.4 85.5h8.4M228.1 88.5h8.4M247.4 90.5h15.8M228.1 92.5h8.4M228.1 94.5h8.4M207.4 97.5h8.4M220.2 97.5h7.9M228.1 99.5h8.4M236.5 101.5h10.9M236.5 102.5h10.9M236.5 108.5h10.9M236.5 111.5h10.9M236.5 112.5h10.9M247.4 117.5h15.8M247.4 120.5h15.8M247.4 121.5h15.8M247.4 124.5h15.8M236.5 126.5h10.9M247.4 127.5h15.8M247.4 130.5h15.8M263.2 135.5h9.2M263.2 136.5h9.2M236.5 137.5h10.9M247.4 138.5h25.0M263.2 142.5h9.2M263.2 143.5h9.2M263.2 146.5h9.2M236.5 147.5h10.9M263.2 151.5h9.2M263.2 153.5h9.2M263.2 156.5h9.2M272.4 158.5h13.1M272.4 160.5h13.1M263.2 162.5h9.2M272.4 163.5h13.1M263.2 167.5h22.3M263.2 168.5h9.2M263.2 172.5h9.2M272.4 174.5h13.1M263.2 175.5h9.2M263.2 176.5h9.2M263.2 177.5h9.2M272.4 182.5h13.1M285.5 183.5h14.2M285.5 184.5h7.1M285.5 186.5h7.1M285.5 187.5h7.1M272.4 189.5h13.1M272.4 199.5h13.1M292.6 199.5h7.1M292.6 202.5h7.1M292.6 207.5h7.1M299.7 210.5h5.5M292.6 215.5h7.1M285.5 216.5h7.1M292.6 218.5h7.1M292.6 219.5h7.1M292.6 221.5h7.1M299.7 222.5h5.5M285.5 227.5h14.2M299.7 229.5h5.5M292.6 230.5h7.1M247.4 234.5h15.8M305.2 235.5h6.5M305.2 237.5h6.5M305.2 238.5h6.5M305.2 241.5h6.5M305.2 245.5h6.5M305.2 256.5h6.5"/><path stroke="#919100" d="M207.4 26.5h8.4M228.1 26.5h8.4M205.5 27.5h10.3M205.5 31.5h10.3M207.4 32.5h12.8M207.4 34.5h8.4M205.5 35.5h10.3M207.4 36.5h8.4M305.2 37.5h6.5M207.4 39.5h8.4M207.4 40.5h8.4M205.5 43.5h1.9M220.2 63.5h7.9M220.2 66.5h7.9M220.2 67.5h7.9M236.5 70.5h10.9M220.2 73.5h7.9M220.2 74.5h7.9M236.5 74.5h10.9M228.1 75.5h8.4M220.2 77.5h7.9M220.2 78.5h7.9M220.2 79.5h7.9M220.2 81.5h7.9M220.2 85.5h7.9M236.5 85.5h10.9M247.4 86.5h15.8M220.2 88.5h7.9M205.5 93.5h1.9M236.5 95.5h10.9M205.5 97.5h1.9M215.8 97.5h4.4M247.4 105.5h15.8M247.4 113.5h15.8M263.2 159.5h9.2M263.2 160.5h9.2M285.5 165.5h7.1M272.4 169.5h13.1M263.2 173.5h22.3M272.4 178.5h13.1M272.4 186.5h13.1M272.4 188.5h13.1M272.4 190.5h13.1M272.4 191.5h13.1M285.5 193.5h7.1M263.2 194.5h9.2M285.5 196.5h7.1M292.6 198.5h7.1M285.5 201.5h7.1M285.5 202.5h7.1M299.7 202.5h5.5M285.5 208.5h7.1M292.6 214.5h7.1M285.5 219.5h7.1M292.6 222.5h7.1M292.6 225.5h7.1M292.6 226.5h7.1M292.6 228.5h12.6M305.2 236.5h6.5M305.2 249.5h6.5M305.2 251.5h6.5M305.2 252.5h6.5M305.2 258.5h6.5M305.2 262.5h6.5M305.2 274.5h6.5M305.2 279.5h6.5M305.2 287.5h6.5"/><path stroke="#6d6d00" d="M220.2 27.5h7.9M205.5 30.5h1.9M305.2 32.5h6.5M305.2 35.5h6.5M207.4 37.5h8.4M215.8 49.5h4.4M228.1 57.5h8.4M220.2 58.5h7.9M215.8 59.5h4.4M220.2 72.5h7.9M247.4 89.5h15.8M247.4 102.5h15.8M228.1 105.5h8.4M228.1 106.5h8.4M247.4 150.5h15.8M285.5 162.5h7.1M292.6 179.5h7.1M292.6 186.5h7.1M285.5 198.5h7.1M272.4 224.5h13.1M272.4 226.5h13.1M220.2 232.5h7.9M285.5 238.5h7.1M305.2 243.5h6.5M305.2 244.5h6.5M305.2 246.5h6.5M305.2 261.5h6.5M305.2 267.5h6.5M305.2 273.5h6.5M236.5 278.5h10.9"/><path stroke="#7f7f00" d="M228.1 27.5h8.4M207.4 29.5h8.4M205.5 34.5h1.9M220.2 36.5h7.9M207.4 43.5h8.4M220.2 45.5h7.9M228.1 52.5h8.4M228.1 61.5h8.4M220.2 65.5h7.9M220.2 69.5h7.9M220.2 71.5h7.9M220.2 75.5h7.9M220.2 83.5h7.9M220.2 84.5h7.9M205.5 88.5h1.9M236.5 88.5h10.9M220.2 93.5h7.9M228.1 111.5h8.4M236.5 132.5h10.9M236.5 148.5h26.7M272.4 148.5h13.1M263.2 158.5h9.2M263.2 179.5h9.2M272.4 183.5h13.1M285.5 195.5h7.1M285.5 197.5h7.1M285.5 199.5h7.1M285.5 200.5h7.1M263.2 201.5h9.2M285.5 204.5h7.1M285.5 205.5h7.1M285.5 209.5h7.1M285.5 217.5h7.1M305.2 234.5h6.5M305.2 248.5h6.5M305.2 265.5h6.5M305.2 269.5h6.5"/><path stroke="#910091" d="M292.6 27.5h12.6M236.5 31.5h10.9M263.2 31.5h9.2M292.6 32.5h7.1M292.6 34.5h7.1M272.4 37.5h13.1M285.5 39.5h7.1M263.2 40.5h22.3M292.6 42.5h7.1M299.7 43.5h5.5M299.7 45.5h5.5M247.4 46.5h25.0M299.7 49.5h5.5M299.7 50.5h12.0M205.5 51.5h1.9M272.4 51.5h20.2M299.7 51.5h5.5M263.2 52.5h9.2M236.5 53.5h10.9M292.6 53.5h7.1M299.7 54.5h12.0M285.5 55.5h7.1M299.7 55.5h5.5M247.4 56.5h25.0M299.7 57.5h5.5M247.4 58.5h38.1M299.7 58.5h5.5M205.5 60.5h1.9M285.5 60.5h7.1M305.2 60.5h6.5M263.2 61.5h22.3M299.7 62.5h5.5M272.4 64.5h13.1M205.5 65.5h1.9M285.5 65.5h7.1M299.7 65.5h5.5M272.4 66.5h20.2M299.7 66.5h5.5M299.7 67.5h5.5M299.7 68.5h5.5M285.5 69.5h7.1M299.7 69.5h5.5M272.4 70.5h13.1M263.2 71.5h29.4M205.5 72.5h1.9M263.2 73.5h9.2M292.6 73.5h12.6M263.2 75.5h9.2M272.4 76.5h13.1M263.2 77.5h9.2M247.4 78.5h15.8M263.2 79.5h9.2M292.6 79.5h7.1M272.4 80.5h13.1M292.6 81.5h7.1M272.4 82.5h13.1M292.6 82.5h7.1M285.5 83.5h19.7M299.7 84.5h5.5M272.4 85.5h20.2M299.7 85.5h5.5M220.2 87.5h7.9M272.4 87.5h13.1M272.4 90.5h20.2M220.2 92.5h7.9M215.8 94.5h4.4M292.6 94.5h7.1M299.7 95.5h5.5M272.4 96.5h13.1M285.5 97.5h7.1M299.7 97.5h5.5M263.2 98.5h29.4M205.5 101.5h1.9M272.4 101.5h20.2M272.4 102.5h13.1M215.8 103.5h4.4M285.5 103.5h7.1M299.7 105.5h5.5M215.8 106.5h4.4M215.8 107.5h4.4M285.5 107.5h14.2M215.8 108.5h4.4M292.6 109.5h7.1M263.2 111.5h9.2M299.7 111.5h5.5M285.5 112.5h7.1M299.7 112.5h5.5M207.4 113.5h8.4M272.4 113.5h13.1M299.7 113.5h5.5M299.7 117.5h5.5M205.5 118.5h1.9M220.2 118.5h7.9M272.4 119.5h13.1M220.2 120.5h7.9M299.7 120.5h5.5M207.4 121.5h8.4M292.6 121.5h7.1M285.5 123.5h14.2M220.2 124.5h7.9M215.8 125.5h4.4M272.4 125.5h13.1M215.8 126.5h4.4M228.1 126.5h8.4M220.2 127.5h7.9M272.4 128.5h13.1M228.1 129.5h8.4M285.5 129.5h7.1M215.8 130.5h4.4M228.1 130.5h8.4M205.5 131.5h1.9M299.7 131.5h5.5M220.2 132.5h7.9M292.6 133.5h7.1M292.6 135.5h7.1M207.4 137.5h8.4M205.5 138.5h1.9M207.4 139.5h8.4M292.6 140.5h7.1M215.8 141.5h4.4M228.1 143.5h8.4M299.7 143.5h5.5M220.2 144.5h7.9M285.5 145.5h7.1M228.1 146.5h8.4M299.7 147.5h5.5M220.2 149.5h7.9M207.4 150.5h12.8M299.7 150.5h12.0M205.5 151.5h14.7M299.7 151.5h5.5M228.1 152.5h8.4M228.1 153.5h8.4M292.6 154.5h7.1M305.2 154.5h6.5M205.5 155.5h1.9M228.1 160.5h8.4M228.1 161.5h19.3M292.6 161.5h7.1M292.6 163.5h12.6M207.4 164.5h8.4M228.1 164.5h8.4M215.8 165.5h12.3M299.7 167.5h5.5M220.2 169.5h7.9M299.7 169.5h5.5M236.5 170.5h10.9M205.5 171.5h1.9M215.8 171.5h12.3M236.5 171.5h10.9M220.2 172.5h27.2M305.2 173.5h6.5M305.2 174.5h6.5M220.2 175.5h7.9M292.6 175.5h12.6M220.2 176.5h7.9M236.5 176.5h10.9M305.2 176.5h6.5M220.2 177.5h7.9M228.1 178.5h35.1M215.8 179.5h4.4M236.5 179.5h10.9M228.1 181.5h8.4M236.5 183.5h10.9M299.7 183.5h12.0M247.4 185.5h15.8M228.1 189.5h8.4M247.4 190.5h15.8M236.5 191.5h10.9M305.2 191.5h6.5M305.2 192.5h6.5M236.5 193.5h10.9M305.2 193.5h6.5M220.2 195.5h7.9M236.5 195.5h10.9M236.5 196.5h10.9M305.2 196.5h6.5M220.2 198.5h7.9M236.5 198.5h10.9M205.5 200.5h1.9M228.1 201.5h8.4M205.5 202.5h1.9M220.2 204.5h7.9M207.4 205.5h8.4M247.4 207.5h15.8M305.2 207.5h6.5M205.5 208.5h1.9M205.5 209.5h1.9M247.4 209.5h15.8M228.1 210.5h8.4M305.2 211.5h6.5M236.5 213.5h10.9M205.5 214.5h1.9M220.2 215.5h7.9M247.4 215.5h15.8M305.2 215.5h6.5M228.1 217.5h8.4M247.4 218.5h15.8M228.1 220.5h8.4M236.5 221.5h10.9M228.1 222.5h8.4M247.4 222.5h15.8M228.1 223.5h19.3M205.5 224.5h1.9M220.2 224.5h7.9M305.2 224.5h6.5M205.5 225.5h1.9M205.5 226.5h1.9M228.1 226.5h8.4M220.2 227.5h7.9M305.2 227.5h6.5M247.4 228.5h15.8M247.4 229.5h15.8M305.2 229.5h6.5M220.2 230.5h7.9M205.5 231.5h1.9M247.4 231.5h15.8M247.4 235.5h15.8"/><path stroke="#ecec00" d="M305.2 27.5h6.5M215.8 37.5h4.4M220.2 48.5h7.9M207.4 51.5h8.4M207.4 52.5h8.4M228.1 62.5h8.4M207.4 63.5h12.8M207.4 67.5h8.4M228.1 68.5h8.4M207.4 69.5h8.4M215.8 70.5h4.4M207.4 72.5h8.4M207.4 74.5h8.4M207.4 76.5h8.4M228.1 76.5h8.4M228.1 77.5h8.4M207.4 80.5h12.8M207.4 82.5h8.4M207.4 83.5h8.4M228.1 85.5h8.4M228.1 87.5h8.4M228.1 98.5h8.4M236.5 105.5h10.9M236.5 107.5h10.9M236.5 109.5h10.9M247.4 115.5h15.8M247.4 119.5h15.8M247.4 126.5h15.8M247.4 129.5h15.8M263.2 150.5h9.2M272.4 159.5h13.1M285.5 161.5h7.1M272.4 162.5h13.1M272.4 168.5h13.1M263.2 170.5h22.3M272.4 176.5h13.1M272.4 177.5h13.1M285.5 179.5h7.1M285.5 181.5h7.1M272.4 185.5h20.2M285.5 190.5h7.1M292.6 192.5h7.1M292.6 201.5h7.1M292.6 209.5h7.1M299.7 211.5h5.5M292.6 212.5h7.1M299.7 215.5h5.5M272.4 216.5h13.1M299.7 218.5h5.5M299.7 219.5h5.5M272.4 221.5h13.1M299.7 221.5h5.5M272.4 222.5h13.1M285.5 226.5h7.1M299.7 227.5h5.5M299.7 230.5h5.5M305.2 257.5h6.5"/><path stroke="#5b5b00" d="M220.2 31.5h7.9M272.4 33.5h13.1M228.1 40.5h8.4M305.2 42.5h6.5M228.1 55.5h8.4M236.5 68.5h10.9M220.2 82.5h7.9M236.5 118.5h10.9M236.5 119.5h10.9M236.5 123.5h10.9M272.4 136.5h13.1M236.5 144.5h10.9M285.5 168.5h7.1M292.6 181.5h7.1M263.2 188.5h9.2M263.2 199.5h9.2M299.7 201.5h5.5M272.4 210.5h13.1M285.5 213.5h7.1M272.4 220.5h13.1M272.4 227.5h13.1M305.2 259.5h6.5M305.2 264.5h6.5M305.2 271.5h6.5M305.2 276.5h6.5M305.2 283.5h6.5M305.2 288.5h6.5"/><path stroke="#dada00" d="M205.5 33.5h1.9M207.4 46.5h8.4M228.1 48.5h8.4M207.4 49.5h8.4M207.4 55.5h8.4M207.4 57.5h8.4M207.4 59.5h8.4M228.1 63.5h8.4M207.4 64.5h8.4M228.1 66.5h8.4M215.8 68.5h4.4M215.8 69.5h4.4M228.1 70.5h8.4M207.4 71.5h12.8M207.4 73.5h12.8M207.4 75.5h12.8M215.8 76.5h4.4M207.4 77.5h12.8M215.8 81.5h4.4M215.8 82.5h4.4M228.1 82.5h8.4M228.1 83.5h8.4M215.8 84.5h4.4M228.1 84.5h8.4M228.1 91.5h8.4M228.1 93.5h8.4M228.1 95.5h8.4M228.1 96.5h8.4M236.5 103.5h10.9M236.5 104.5h10.9M236.5 106.5h10.9M236.5 110.5h10.9M247.4 122.5h15.8M247.4 125.5h15.8M247.4 132.5h15.8M247.4 133.5h15.8M236.5 135.5h26.7M247.4 136.5h15.8M263.2 139.5h9.2M263.2 141.5h22.3M263.2 145.5h9.2M263.2 148.5h9.2M263.2 157.5h9.2M272.4 165.5h13.1M272.4 166.5h13.1M285.5 178.5h7.1M285.5 180.5h7.1M285.5 188.5h7.1M285.5 191.5h7.1M292.6 193.5h7.1M292.6 204.5h7.1M292.6 205.5h12.6M292.6 208.5h7.1M299.7 213.5h5.5M292.6 216.5h7.1M292.6 217.5h7.1M299.7 220.5h5.5M292.6 223.5h7.1M299.7 224.5h5.5M292.6 229.5h7.1M305.2 250.5h6.5"/><path stroke="#a300a3" d="M263.2 34.5h9.2M272.4 39.5h13.1M272.4 41.5h32.8M292.6 46.5h12.6M236.5 47.5h10.9M272.4 47.5h27.3M299.7 52.5h5.5M272.4 53.5h20.2M263.2 54.5h9.2M272.4 55.5h13.1M299.7 56.5h5.5M263.2 57.5h22.3M263.2 60.5h22.3M292.6 60.5h7.1M272.4 62.5h13.1M292.6 62.5h7.1M285.5 63.5h7.1M285.5 64.5h7.1M299.7 64.5h5.5M292.6 65.5h7.1M285.5 68.5h14.2M263.2 69.5h9.2M263.2 72.5h9.2M205.5 74.5h1.9M292.6 74.5h7.1M285.5 75.5h7.1M285.5 77.5h7.1M299.7 79.5h12.0M285.5 80.5h19.7M272.4 81.5h20.2M272.4 83.5h13.1M285.5 84.5h7.1M285.5 86.5h7.1M299.7 88.5h5.5M272.4 89.5h13.1M292.6 89.5h7.1M263.2 92.5h22.3M292.6 92.5h7.1M272.4 93.5h13.1M299.7 93.5h5.5M285.5 94.5h7.1M263.2 96.5h9.2M292.6 96.5h7.1M263.2 97.5h9.2M292.6 97.5h7.1M292.6 98.5h7.1M207.4 101.5h8.4M220.2 101.5h7.9M292.6 101.5h12.6M205.5 102.5h10.3M263.2 102.5h9.2M305.2 102.5h6.5M263.2 105.5h9.2M292.6 106.5h7.1M205.5 107.5h1.9M299.7 107.5h5.5M205.5 108.5h1.9M207.4 109.5h8.4M292.6 110.5h7.1M207.4 112.5h12.8M205.5 113.5h1.9M263.2 113.5h9.2M305.2 113.5h6.5M263.2 117.5h9.2M285.5 117.5h7.1M205.5 119.5h14.7M207.4 120.5h8.4M228.1 120.5h8.4M292.6 120.5h7.1M205.5 123.5h1.9M215.8 123.5h12.3M207.4 124.5h8.4M207.4 125.5h8.4M220.2 125.5h7.9M305.2 126.5h6.5M228.1 127.5h8.4M263.2 127.5h9.2M285.5 127.5h7.1M205.5 128.5h1.9M215.8 128.5h4.4M207.4 129.5h20.7M272.4 129.5h13.1M205.5 130.5h1.9M207.4 131.5h8.4M207.4 132.5h8.4M205.5 134.5h1.9M220.2 134.5h16.3M207.4 136.5h12.8M205.5 139.5h1.9M207.4 140.5h12.8M228.1 140.5h8.4M220.2 141.5h7.9M228.1 142.5h8.4M220.2 143.5h7.9M292.6 143.5h7.1M205.5 145.5h1.9M205.5 146.5h1.9M220.2 146.5h7.9M299.7 146.5h12.0M207.4 148.5h8.4M228.1 149.5h8.4M305.2 149.5h6.5M205.5 150.5h1.9M220.2 150.5h7.9M205.5 152.5h1.9M228.1 154.5h8.4M207.4 155.5h8.4M228.1 155.5h8.4M228.1 159.5h19.3M220.2 160.5h7.9M228.1 162.5h8.4M215.8 163.5h4.4M247.4 163.5h15.8M305.2 163.5h6.5M220.2 164.5h7.9M207.4 165.5h8.4M247.4 166.5h15.8M220.2 167.5h7.9M215.8 168.5h4.4M205.5 169.5h1.9M247.4 169.5h15.8M292.6 169.5h7.1M228.1 171.5h8.4M247.4 172.5h15.8M247.4 173.5h15.8M205.5 174.5h1.9M236.5 174.5h10.9M228.1 176.5h8.4M220.2 179.5h16.3M305.2 180.5h6.5M220.2 182.5h7.9M220.2 183.5h7.9M247.4 183.5h15.8M228.1 184.5h8.4M247.4 184.5h15.8M305.2 184.5h6.5M205.5 185.5h1.9M215.8 189.5h4.4M220.2 190.5h16.3M228.1 191.5h8.4M228.1 195.5h8.4M215.8 196.5h4.4M228.1 196.5h8.4M236.5 197.5h10.9M305.2 197.5h6.5M236.5 200.5h10.9M305.2 200.5h6.5M220.2 201.5h7.9M215.8 202.5h4.4M228.1 202.5h8.4M247.4 202.5h15.8M220.2 203.5h7.9M236.5 204.5h10.9M215.8 205.5h4.4M228.1 205.5h8.4M215.8 206.5h4.4M228.1 207.5h8.4M220.2 208.5h7.9M236.5 208.5h10.9M215.8 210.5h4.4M220.2 211.5h7.9M236.5 211.5h10.9M220.2 212.5h7.9M220.2 214.5h7.9M228.1 215.5h8.4M220.2 218.5h7.9M236.5 220.5h10.9M215.8 221.5h4.4M228.1 221.5h8.4M205.5 222.5h1.9M228.1 224.5h8.4M236.5 225.5h10.9M236.5 227.5h26.7M205.5 228.5h1.9M236.5 228.5h10.9M215.8 230.5h4.4M228.1 230.5h8.4M305.2 231.5h6.5M207.4 235.5h8.4M220.2 235.5h7.9M285.5 235.5h7.1"/><path stroke="#b600b6" d="M272.4 35.5h13.1M285.5 43.5h7.1M263.2 47.5h9.2M299.7 47.5h5.5M263.2 50.5h22.3M292.6 50.5h7.1M272.4 52.5h13.1M263.2 53.5h9.2M292.6 55.5h7.1M272.4 56.5h13.1M292.6 56.5h7.1M305.2 56.5h6.5M285.5 58.5h14.2M299.7 61.5h5.5M263.2 66.5h9.2M305.2 66.5h6.5M272.4 67.5h20.2M205.5 68.5h1.9M263.2 68.5h22.3M292.6 71.5h7.1M272.4 72.5h20.2M299.7 74.5h5.5M205.5 78.5h1.9M299.7 78.5h12.0M272.4 84.5h13.1M292.6 84.5h7.1M292.6 87.5h7.1M263.2 89.5h9.2M285.5 89.5h7.1M299.7 92.5h5.5M263.2 93.5h9.2M263.2 95.5h9.2M285.5 95.5h7.1M285.5 96.5h7.1M215.8 98.5h4.4M285.5 102.5h14.2M205.5 105.5h1.9M207.4 110.5h8.4M205.5 117.5h1.9M228.1 117.5h8.4M305.2 117.5h6.5M215.8 120.5h4.4M285.5 121.5h7.1M207.4 122.5h12.8M228.1 122.5h8.4M215.8 124.5h4.4M205.5 125.5h1.9M207.4 126.5h8.4M205.5 127.5h1.9M228.1 128.5h8.4M205.5 129.5h1.9M220.2 131.5h7.9M215.8 132.5h4.4M205.5 133.5h1.9M228.1 133.5h8.4M205.5 135.5h10.3M205.5 136.5h1.9M228.1 136.5h8.4M215.8 137.5h4.4M207.4 143.5h8.4M228.1 145.5h8.4M207.4 146.5h8.4M207.4 147.5h8.4M215.8 149.5h4.4M207.4 152.5h8.4M220.2 152.5h7.9M205.5 153.5h22.6M215.8 154.5h4.4M228.1 163.5h8.4M215.8 164.5h4.4M228.1 165.5h8.4M207.4 166.5h8.4M228.1 166.5h8.4M228.1 167.5h19.3M228.1 168.5h8.4M236.5 169.5h10.9M207.4 170.5h8.4M228.1 170.5h8.4M215.8 172.5h4.4M299.7 173.5h5.5M215.8 175.5h4.4M215.8 177.5h4.4M305.2 177.5h6.5M236.5 180.5h10.9M228.1 182.5h8.4M205.5 184.5h1.9M220.2 184.5h7.9M236.5 184.5h10.9M205.5 186.5h1.9M228.1 186.5h8.4M228.1 192.5h8.4M228.1 193.5h8.4M215.8 194.5h4.4M215.8 197.5h4.4M228.1 204.5h8.4M247.4 204.5h15.8M207.4 206.5h8.4M228.1 206.5h8.4M215.8 207.5h4.4M228.1 208.5h8.4M215.8 209.5h4.4M305.2 209.5h6.5M207.4 210.5h8.4M228.1 211.5h8.4M228.1 212.5h8.4M247.4 214.5h15.8M305.2 214.5h6.5M228.1 216.5h8.4M236.5 217.5h10.9M215.8 218.5h4.4M228.1 219.5h8.4M215.8 224.5h4.4M247.4 224.5h15.8M228.1 225.5h8.4M215.8 226.5h4.4M220.2 228.5h7.9M305.2 228.5h6.5M236.5 229.5h10.9M215.8 235.5h4.4M263.2 235.5h9.2"/><path stroke="#c800c8" d="M285.5 35.5h7.1M292.6 40.5h7.1M299.7 60.5h5.5M285.5 62.5h7.1M292.6 64.5h7.1M272.4 65.5h13.1M292.6 67.5h7.1M272.4 77.5h13.1M272.4 78.5h20.2M263.2 87.5h9.2M285.5 93.5h7.1M272.4 95.5h13.1M215.8 101.5h4.4M299.7 102.5h5.5M285.5 114.5h7.1M305.2 114.5h6.5M215.8 117.5h12.3M205.5 121.5h1.9M215.8 121.5h4.4M205.5 122.5h1.9M207.4 123.5h8.4M205.5 124.5h1.9M207.4 127.5h12.8M207.4 128.5h8.4M207.4 133.5h12.8M207.4 134.5h12.8M220.2 135.5h7.9M215.8 138.5h4.4M205.5 140.5h1.9M207.4 141.5h8.4M207.4 142.5h12.8M299.7 142.5h5.5M215.8 143.5h4.4M207.4 145.5h8.4M207.4 149.5h8.4M228.1 150.5h8.4M215.8 152.5h4.4M220.2 154.5h7.9M285.5 154.5h7.1M215.8 155.5h4.4M207.4 158.5h20.7M215.8 159.5h4.4M207.4 161.5h8.4M207.4 162.5h8.4M215.8 166.5h4.4M207.4 172.5h8.4M236.5 173.5h10.9M228.1 174.5h8.4M207.4 175.5h8.4M228.1 175.5h8.4M207.4 176.5h12.8M207.4 177.5h8.4M207.4 179.5h8.4M215.8 180.5h4.4M215.8 181.5h4.4M215.8 182.5h4.4M228.1 183.5h8.4M228.1 185.5h8.4M207.4 186.5h8.4M228.1 188.5h19.3M207.4 189.5h8.4M207.4 190.5h12.8M299.7 190.5h5.5M215.8 192.5h4.4M215.8 198.5h4.4M228.1 198.5h8.4M305.2 198.5h6.5M220.2 200.5h7.9M215.8 203.5h4.4M228.1 203.5h8.4M215.8 208.5h4.4M228.1 209.5h8.4M215.8 211.5h4.4M236.5 214.5h10.9M215.8 215.5h4.4M215.8 216.5h4.4M228.1 218.5h8.4M207.4 219.5h12.8M215.8 220.5h4.4M215.8 223.5h4.4M215.8 227.5h4.4M228.1 227.5h8.4M228.1 229.5h8.4M207.4 230.5h8.4M215.8 231.5h31.6M236.5 235.5h10.9"/><path stroke="#ec00ec" d="M305.2 53.5h6.5M236.5 99.5h10.9M263.2 99.5h9.2M285.5 99.5h7.1M220.2 100.5h7.9M285.5 100.5h7.1M215.8 114.5h4.4M236.5 114.5h10.9M215.8 115.5h12.3M292.6 115.5h7.1M305.2 115.5h6.5M215.8 116.5h4.4M272.4 116.5h13.1M299.7 116.5h5.5M292.6 145.5h7.1M205.5 154.5h10.3M205.5 158.5h1.9M292.6 158.5h12.6M207.4 159.5h8.4M215.8 167.5h4.4M207.4 169.5h12.8M215.8 178.5h4.4M207.4 180.5h8.4M215.8 184.5h4.4M207.4 185.5h8.4M215.8 186.5h4.4M205.5 187.5h1.9M215.8 187.5h4.4M247.4 187.5h15.8M247.4 188.5h15.8M305.2 188.5h6.5M207.4 195.5h12.8M207.4 196.5h8.4M207.4 197.5h8.4M207.4 198.5h8.4M247.4 198.5h15.8M215.8 199.5h20.7M215.8 200.5h4.4M207.4 201.5h8.4M207.4 207.5h8.4M207.4 212.5h8.4M207.4 213.5h12.8M215.8 214.5h4.4M228.1 214.5h8.4M215.8 217.5h4.4M207.4 220.5h8.4M207.4 221.5h8.4M207.4 222.5h8.4M207.4 223.5h8.4M207.4 224.5h8.4M207.4 225.5h8.4M207.4 227.5h8.4M215.8 228.5h4.4M207.4 229.5h8.4"/><path stroke="#da00da" d="M292.6 72.5h7.1M272.4 74.5h13.1M263.2 78.5h9.2M285.5 82.5h7.1M299.7 99.5h12.0M247.4 100.5h25.0M292.6 100.5h7.1M215.8 102.5h4.4M207.4 107.5h8.4M207.4 114.5h8.4M228.1 114.5h8.4M263.2 114.5h22.3M292.6 114.5h12.6M285.5 115.5h7.1M220.2 116.5h27.2M263.2 116.5h9.2M285.5 116.5h7.1M305.2 116.5h6.5M207.4 117.5h8.4M299.7 125.5h5.5M299.7 134.5h5.5M215.8 145.5h4.4M215.8 147.5h4.4M205.5 156.5h10.3M228.1 156.5h8.4M207.4 157.5h8.4M285.5 157.5h7.1M228.1 158.5h19.3M207.4 160.5h12.8M215.8 161.5h4.4M207.4 163.5h8.4M207.4 167.5h8.4M305.2 169.5h6.5M207.4 171.5h8.4M215.8 173.5h4.4M215.8 174.5h4.4M207.4 178.5h8.4M228.1 180.5h8.4M207.4 183.5h12.8M305.2 186.5h6.5M207.4 187.5h8.4M205.5 188.5h1.9M220.2 188.5h7.9M207.4 191.5h12.8M207.4 194.5h8.4M220.2 197.5h16.3M207.4 199.5h8.4M247.4 199.5h15.8M305.2 199.5h6.5M228.1 200.5h8.4M215.8 201.5h4.4M207.4 202.5h8.4M207.4 204.5h8.4M207.4 209.5h8.4M207.4 211.5h8.4M215.8 212.5h4.4M228.1 213.5h8.4M207.4 216.5h8.4M215.8 225.5h4.4M207.4 226.5h8.4M228.1 228.5h8.4"/><path stroke="#ff00ff" d="M205.5 99.5h22.6M247.4 99.5h15.8M272.4 99.5h13.1M292.6 99.5h7.1M205.5 100.5h14.7M228.1 100.5h8.4M272.4 100.5h13.1M299.7 100.5h12.0M205.5 114.5h1.9M220.2 114.5h7.9M205.5 115.5h10.3M228.1 115.5h19.3M263.2 115.5h22.3M299.7 115.5h5.5M205.5 116.5h10.3M292.6 116.5h7.1M215.8 135.5h4.4M215.8 156.5h12.3M236.5 156.5h26.7M272.4 156.5h39.3M205.5 157.5h1.9M215.8 157.5h47.4M292.6 157.5h19.1M247.4 158.5h15.8M285.5 158.5h7.1M305.2 158.5h6.5M228.1 169.5h8.4M215.8 170.5h4.4M207.4 173.5h8.4M228.1 173.5h8.4M207.4 174.5h8.4M207.4 181.5h8.4M207.4 182.5h8.4M207.4 184.5h8.4M215.8 185.5h4.4M220.2 187.5h27.2M305.2 187.5h6.5M207.4 188.5h12.8M207.4 192.5h8.4M207.4 193.5h12.8M205.5 199.5h1.9M236.5 199.5h10.9M207.4 200.5h8.4M207.4 203.5h8.4M215.8 204.5h4.4M207.4 208.5h8.4M207.4 214.5h8.4M207.4 215.5h8.4M207.4 217.5h8.4M207.4 218.5h8.4M215.8 222.5h4.4M207.4 228.5h8.4M215.8 229.5h4.4M207.4 231.5h8.4"/></g>
<rect x="207.05" y="22" width="0.7" height="267" fill="#f0c0f0" opacity="0.55"/>
<rect x="215.45" y="22" width="0.7" height="267" fill="#f0c0f0" opacity="0.55"/>
<rect x="219.85" y="22" width="0.7" height="267" fill="#f0c0f0" opacity="0.55"/>
<rect x="227.75" y="22" width="0.7" height="267" fill="#f0c0f0" opacity="0.55"/>
<rect x="236.15" y="22" width="0.7" height="267" fill="#f0c0f0" opacity="0.55"/>
<rect x="247.05" y="22" width="0.7" height="267" fill="#f0c0f0" opacity="0.55"/>
<rect x="262.85" y="22" width="0.7" height="267" fill="#f0c0f0" opacity="0.55"/>
<rect x="272.05" y="22" width="0.7" height="267" fill="#f0c0f0" opacity="0.55"/>
<rect x="285.15" y="22" width="0.7" height="267" fill="#f0c0f0" opacity="0.55"/>
<rect x="292.25" y="22" width="0.7" height="267" fill="#f0c0f0" opacity="0.55"/>
<rect x="299.35" y="22" width="0.7" height="267" fill="#f0c0f0" opacity="0.55"/>
<rect x="304.85" y="22" width="0.7" height="267" fill="#f0c0f0" opacity="0.55"/>
</g>
<text x="205.2" y="19.9" font-size="6.2" font-weight="bold">1</text>
<line x1="209" y1="18.2" x2="303" y2="18.2" stroke="#444" stroke-width="0.45"/>
<path d="M301.5,16.8 L304.6,18.2 L301.5,19.6 Z" fill="#000"/>
<text x="304.4" y="20.3" font-size="6.8" font-weight="bold">15</text>
<text transform="translate(315.8,125.3) scale(0.32)" font-size="10" font-family="Liberation Sans" fill="#333">Expression</text>
<defs><linearGradient id="hg" x1="0" y1="0" x2="0" y2="1"><stop offset="0" stop-color="#ffff00"/><stop offset="0.5" stop-color="#000"/><stop offset="1" stop-color="#ff00ff"/></linearGradient></defs>
<rect x="315.8" y="128" width="5.3" height="30.5" fill="url(#hg)"/>
<text transform="translate(322.5,131.3) scale(0.3)" font-size="10" font-family="Liberation Sans" fill="#333">2</text>
<text transform="translate(322.5,137.6) scale(0.3)" font-size="10" font-family="Liberation Sans" fill="#333">1</text>
<text transform="translate(322.5,144) scale(0.3)" font-size="10" font-family="Liberation Sans" fill="#333">0</text>
<text transform="translate(322.5,150) scale(0.3)" font-size="10" font-family="Liberation Sans" fill="#333">-1</text>
<text transform="translate(322.5,156) scale(0.3)" font-size="10" font-family="Liberation Sans" fill="#333">-2</text>
<circle cx="396.50" cy="20.40" r="1.65" fill="#0a02fd"/><circle cx="402.46" cy="20.40" r="0.6" fill="#d6d6d6"/><circle cx="408.42" cy="20.40" r="0.6" fill="#d6d6d6"/><circle cx="414.38" cy="20.40" r="0.6" fill="#d6d6d6"/><circle cx="420.34" cy="20.40" r="1.05" fill="#bba4ee"/><circle cx="426.30" cy="20.40" r="1.05" fill="#bba4ee"/><circle cx="432.26" cy="20.40" r="0.6" fill="#c8b8ec"/><circle cx="438.22" cy="20.40" r="0.6" fill="#d6d6d6"/><circle cx="444.18" cy="20.40" r="0.6" fill="#d6d6d6"/><circle cx="450.14" cy="20.40" r="0.6" fill="#d6d6d6"/><circle cx="456.10" cy="20.40" r="0.6" fill="#d6d6d6"/><circle cx="462.06" cy="20.40" r="0.6" fill="#d6d6d6"/><circle cx="468.02" cy="20.40" r="0.6" fill="#d6d6d6"/><circle cx="473.98" cy="20.40" r="1.05" fill="#bba4ee"/><circle cx="479.94" cy="20.40" r="0.6" fill="#c8b8ec"/><text x="390.4" y="22.70" font-size="5.4" text-anchor="end" fill="#2a2a2a" stroke="#2a2a2a" stroke-width="0.1">Dmrt1</text><line x1="391" y1="20.40" x2="392.8" y2="20.40" stroke="#444" stroke-width="0.4"/><circle cx="396.50" cy="26.99" r="1.65" fill="#0a02fd"/><circle cx="402.46" cy="26.99" r="0.6" fill="#bba4ee"/><circle cx="408.42" cy="26.99" r="0.6" fill="#d6d6d6"/><circle cx="414.38" cy="26.99" r="0.6" fill="#d6d6d6"/><circle cx="420.34" cy="26.99" r="0.6" fill="#d6d6d6"/><circle cx="426.30" cy="26.99" r="0.6" fill="#d6d6d6"/><circle cx="432.26" cy="26.99" r="0.6" fill="#d6d6d6"/><circle cx="438.22" cy="26.99" r="0.6" fill="#d6d6d6"/><circle cx="444.18" cy="26.99" r="0.6" fill="#d6d6d6"/><circle cx="450.14" cy="26.99" r="0.6" fill="#d6d6d6"/><circle cx="456.10" cy="26.99" r="0.6" fill="#d6d6d6"/><circle cx="462.06" cy="26.99" r="0.6" fill="#d6d6d6"/><circle cx="468.02" cy="26.99" r="0.6" fill="#d6d6d6"/><circle cx="473.98" cy="26.99" r="1.05" fill="#bba4ee"/><circle cx="479.94" cy="26.99" r="0.6" fill="#c8b8ec"/><text x="390.4" y="29.29" font-size="5.4" text-anchor="end" fill="#2a2a2a" stroke="#2a2a2a" stroke-width="0.1">Uchl1</text><line x1="391" y1="26.99" x2="392.8" y2="26.99" stroke="#444" stroke-width="0.4"/><circle cx="396.50" cy="33.57" r="2.8" fill="#0a02fd"/><circle cx="402.46" cy="33.57" r="1.65" fill="#bba4ee"/><circle cx="408.42" cy="33.57" r="0.6" fill="#c8b8ec"/><circle cx="414.38" cy="33.57" r="0.6" fill="#d6d6d6"/><circle cx="420.34" cy="33.57" r="0.6" fill="#d6d6d6"/><circle cx="426.30" cy="33.57" r="0.6" fill="#d6d6d6"/><circle cx="432.26" cy="33.57" r="0.6" fill="#d6d6d6"/><circle cx="438.22" cy="33.57" r="0.6" fill="#d6d6d6"/><circle cx="444.18" cy="33.57" r="0.6" fill="#d6d6d6"/><circle cx="450.14" cy="33.57" r="0.6" fill="#d6d6d6"/><circle cx="456.10" cy="33.57" r="0.6" fill="#d6d6d6"/><circle cx="462.06" cy="33.57" r="0.6" fill="#d6d6d6"/><circle cx="468.02" cy="33.57" r="0.6" fill="#d6d6d6"/><circle cx="473.98" cy="33.57" r="0.6" fill="#d6d6d6"/><circle cx="479.94" cy="33.57" r="2.3" fill="#c8b8ec"/><text x="390.4" y="35.87" font-size="5.4" text-anchor="end" fill="#2a2a2a" stroke="#2a2a2a" stroke-width="0.1">Dazl</text><line x1="391" y1="33.57" x2="392.8" y2="33.57" stroke="#444" stroke-width="0.4"/><circle cx="396.50" cy="40.16" r="2.8" fill="#0a02fd"/><circle cx="402.46" cy="40.16" r="2.3" fill="#c8b8ec"/><circle cx="408.42" cy="40.16" r="1.05" fill="#bba4ee"/><circle cx="414.38" cy="40.16" r="0.6" fill="#bba4ee"/><circle cx="420.34" cy="40.16" r="0.6" fill="#d6d6d6"/><circle cx="426.30" cy="40.16" r="0.6" fill="#d6d6d6"/><circle cx="432.26" cy="40.16" r="0.6" fill="#d6d6d6"/><circle cx="438.22" cy="40.16" r="0.6" fill="#d6d6d6"/><circle cx="444.18" cy="40.16" r="0.6" fill="#d6d6d6"/><circle cx="450.14" cy="40.16" r="0.6" fill="#d6d6d6"/><circle cx="456.10" cy="40.16" r="0.6" fill="#d6d6d6"/><circle cx="462.06" cy="40.16" r="0.6" fill="#d6d6d6"/><circle cx="468.02" cy="40.16" r="0.6" fill="#d6d6d6"/><circle cx="473.98" cy="40.16" r="0.6" fill="#d6d6d6"/><circle cx="479.94" cy="40.16" r="2.3" fill="#c8b8ec"/><text x="390.4" y="42.46" font-size="5.4" text-anchor="end" fill="#2a2a2a" stroke="#2a2a2a" stroke-width="0.1">Hells</text><line x1="391" y1="40.16" x2="392.8" y2="40.16" stroke="#444" stroke-width="0.4"/><circle cx="396.50" cy="46.74" r="2.8" fill="#0a02fd"/><circle cx="402.46" cy="46.74" r="1.65" fill="#bba4ee"/><circle cx="408.42" cy="46.74" r="1.05" fill="#bba4ee"/><circle cx="414.38" cy="46.74" r="0.6" fill="#d6d6d6"/><circle cx="420.34" cy="46.74" r="0.6" fill="#d6d6d6"/><circle cx="426.30" cy="46.74" r="0.6" fill="#d6d6d6"/><circle cx="432.26" cy="46.74" r="0.6" fill="#d6d6d6"/><circle cx="438.22" cy="46.74" r="0.6" fill="#d6d6d6"/><circle cx="444.18" cy="46.74" r="0.6" fill="#d6d6d6"/><circle cx="450.14" cy="46.74" r="0.6" fill="#d6d6d6"/><circle cx="456.10" cy="46.74" r="0.6" fill="#d6d6d6"/><circle cx="462.06" cy="46.74" r="0.6" fill="#d6d6d6"/><circle cx="468.02" cy="46.74" r="2.8" fill="#c8b8ec"/><circle cx="473.98" cy="46.74" r="1.05" fill="#bba4ee"/><circle cx="479.94" cy="46.74" r="1.05" fill="#bba4ee"/><text x="390.4" y="49.04" font-size="5.4" text-anchor="end" fill="#2a2a2a" stroke="#2a2a2a" stroke-width="0.1">Ncl</text><line x1="391" y1="46.74" x2="392.8" y2="46.74" stroke="#444" stroke-width="0.4"/><circle cx="396.50" cy="53.33" r="2.3" fill="#0a02fd"/><circle cx="402.46" cy="53.33" r="2.3" fill="#7a58f4"/><circle cx="408.42" cy="53.33" r="1.05" fill="#bba4ee"/><circle cx="414.38" cy="53.33" r="0.6" fill="#c8b8ec"/><circle cx="420.34" cy="53.33" r="1.05" fill="#bba4ee"/><circle cx="426.30" cy="53.33" r="0.6" fill="#d6d6d6"/><circle cx="432.26" cy="53.33" r="0.6" fill="#d6d6d6"/><circle cx="438.22" cy="53.33" r="0.6" fill="#d6d6d6"/><circle cx="444.18" cy="53.33" r="0.6" fill="#d6d6d6"/><circle cx="450.14" cy="53.33" r="0.6" fill="#d6d6d6"/><circle cx="456.10" cy="53.33" r="0.6" fill="#d6d6d6"/><circle cx="462.06" cy="53.33" r="0.6" fill="#d6d6d6"/><circle cx="468.02" cy="53.33" r="0.6" fill="#d6d6d6"/><circle cx="473.98" cy="53.33" r="0.6" fill="#d6d6d6"/><circle cx="479.94" cy="53.33" r="0.6" fill="#d6d6d6"/><text x="390.4" y="55.63" font-size="5.4" text-anchor="end" fill="#2a2a2a" stroke="#2a2a2a" stroke-width="0.1">Hormad2</text><line x1="391" y1="53.33" x2="392.8" y2="53.33" stroke="#444" stroke-width="0.4"/><circle cx="396.50" cy="59.92" r="2.8" fill="#0a02fd"/><circle cx="402.46" cy="59.92" r="2.8" fill="#c8b8ec"/><circle cx="408.42" cy="59.92" r="2.8" fill="#c8b8ec"/><circle cx="414.38" cy="59.92" r="1.65" fill="#bba4ee"/><circle cx="420.34" cy="59.92" r="1.65" fill="#bba4ee"/><circle cx="426.30" cy="59.92" r="0.6" fill="#d6d6d6"/><circle cx="432.26" cy="59.92" r="0.6" fill="#d6d6d6"/><circle cx="438.22" cy="59.92" r="0.6" fill="#d6d6d6"/><circle cx="444.18" cy="59.92" r="0.6" fill="#d6d6d6"/><circle cx="450.14" cy="59.92" r="0.6" fill="#d6d6d6"/><circle cx="456.10" cy="59.92" r="0.6" fill="#d6d6d6"/><circle cx="462.06" cy="59.92" r="0.6" fill="#d6d6d6"/><circle cx="468.02" cy="59.92" r="0.6" fill="#d6d6d6"/><circle cx="473.98" cy="59.92" r="1.05" fill="#bba4ee"/><circle cx="479.94" cy="59.92" r="0.6" fill="#d6d6d6"/><text x="390.4" y="62.22" font-size="5.4" text-anchor="end" fill="#2a2a2a" stroke="#2a2a2a" stroke-width="0.1">Sycp3</text><line x1="391" y1="59.92" x2="392.8" y2="59.92" stroke="#444" stroke-width="0.4"/><circle cx="396.50" cy="66.50" r="2.8" fill="#0a02fd"/><circle cx="402.46" cy="66.50" r="2.3" fill="#c8b8ec"/><circle cx="408.42" cy="66.50" r="1.05" fill="#bba4ee"/><circle cx="414.38" cy="66.50" r="1.65" fill="#bba4ee"/><circle cx="420.34" cy="66.50" r="0.6" fill="#d6d6d6"/><circle cx="426.30" cy="66.50" r="0.6" fill="#d6d6d6"/><circle cx="432.26" cy="66.50" r="0.6" fill="#d6d6d6"/><circle cx="438.22" cy="66.50" r="0.6" fill="#d6d6d6"/><circle cx="444.18" cy="66.50" r="0.6" fill="#d6d6d6"/><circle cx="450.14" cy="66.50" r="0.6" fill="#d6d6d6"/><circle cx="456.10" cy="66.50" r="0.6" fill="#d6d6d6"/><circle cx="462.06" cy="66.50" r="0.6" fill="#d6d6d6"/><circle cx="468.02" cy="66.50" r="0.6" fill="#d6d6d6"/><circle cx="473.98" cy="66.50" r="1.05" fill="#bba4ee"/><circle cx="479.94" cy="66.50" r="1.05" fill="#bba4ee"/><text x="390.4" y="68.80" font-size="5.4" text-anchor="end" fill="#2a2a2a" stroke="#2a2a2a" stroke-width="0.1">Hmgb2</text><line x1="391" y1="66.50" x2="392.8" y2="66.50" stroke="#444" stroke-width="0.4"/><circle cx="396.50" cy="73.09" r="0.6" fill="#bba4ee"/><circle cx="402.46" cy="73.09" r="2.8" fill="#0a02fd"/><circle cx="408.42" cy="73.09" r="1.65" fill="#bba4ee"/><circle cx="414.38" cy="73.09" r="1.05" fill="#bba4ee"/><circle cx="420.34" cy="73.09" r="0.6" fill="#d6d6d6"/><circle cx="426.30" cy="73.09" r="0.6" fill="#d6d6d6"/><circle cx="432.26" cy="73.09" r="0.6" fill="#d6d6d6"/><circle cx="438.22" cy="73.09" r="0.6" fill="#d6d6d6"/><circle cx="444.18" cy="73.09" r="0.6" fill="#d6d6d6"/><circle cx="450.14" cy="73.09" r="0.6" fill="#d6d6d6"/><circle cx="456.10" cy="73.09" r="0.6" fill="#d6d6d6"/><circle cx="462.06" cy="73.09" r="0.6" fill="#d6d6d6"/><circle cx="468.02" cy="73.09" r="0.6" fill="#d6d6d6"/><circle cx="473.98" cy="73.09" r="0.6" fill="#d6d6d6"/><circle cx="479.94" cy="73.09" r="0.6" fill="#d6d6d6"/><text x="390.4" y="75.39" font-size="5.4" text-anchor="end" fill="#2a2a2a" stroke="#2a2a2a" stroke-width="0.1">Piwil1</text><line x1="391" y1="73.09" x2="392.8" y2="73.09" stroke="#444" stroke-width="0.4"/><circle cx="396.50" cy="79.67" r="0.6" fill="#bba4ee"/><circle cx="402.46" cy="79.67" r="2.8" fill="#0a02fd"/><circle cx="408.42" cy="79.67" r="2.3" fill="#c8b8ec"/><circle cx="414.38" cy="79.67" r="1.05" fill="#9272f2"/><circle cx="420.34" cy="79.67" r="1.05" fill="#bba4ee"/><circle cx="426.30" cy="79.67" r="0.6" fill="#d6d6d6"/><circle cx="432.26" cy="79.67" r="0.6" fill="#d6d6d6"/><circle cx="438.22" cy="79.67" r="0.6" fill="#d6d6d6"/><circle cx="444.18" cy="79.67" r="0.6" fill="#d6d6d6"/><circle cx="450.14" cy="79.67" r="0.6" fill="#d6d6d6"/><circle cx="456.10" cy="79.67" r="0.6" fill="#d6d6d6"/><circle cx="462.06" cy="79.67" r="0.6" fill="#d6d6d6"/><circle cx="468.02" cy="79.67" r="0.6" fill="#d6d6d6"/><circle cx="473.98" cy="79.67" r="0.6" fill="#bba4ee"/><circle cx="479.94" cy="79.67" r="0.6" fill="#d6d6d6"/><text x="390.4" y="81.97" font-size="5.4" text-anchor="end" fill="#2a2a2a" stroke="#2a2a2a" stroke-width="0.1">Cdc42ep3</text><line x1="391" y1="79.67" x2="392.8" y2="79.67" stroke="#444" stroke-width="0.4"/><circle cx="396.50" cy="86.26" r="1.65" fill="#bba4ee"/><circle cx="402.46" cy="86.26" r="2.8" fill="#0a02fd"/><circle cx="408.42" cy="86.26" r="2.3" fill="#c8b8ec"/><circle cx="414.38" cy="86.26" r="1.65" fill="#bba4ee"/><circle cx="420.34" cy="86.26" r="0.6" fill="#d6d6d6"/><circle cx="426.30" cy="86.26" r="0.6" fill="#d6d6d6"/><circle cx="432.26" cy="86.26" r="0.6" fill="#d6d6d6"/><circle cx="438.22" cy="86.26" r="0.6" fill="#d6d6d6"/><circle cx="444.18" cy="86.26" r="0.6" fill="#d6d6d6"/><circle cx="450.14" cy="86.26" r="0.6" fill="#d6d6d6"/><circle cx="456.10" cy="86.26" r="0.6" fill="#d6d6d6"/><circle cx="462.06" cy="86.26" r="0.6" fill="#d6d6d6"/><circle cx="468.02" cy="86.26" r="1.05" fill="#bba4ee"/><circle cx="473.98" cy="86.26" r="1.65" fill="#bba4ee"/><circle cx="479.94" cy="86.26" r="1.65" fill="#bba4ee"/><text x="390.4" y="88.56" font-size="5.4" text-anchor="end" fill="#2a2a2a" stroke="#2a2a2a" stroke-width="0.1">Calm2</text><line x1="391" y1="86.26" x2="392.8" y2="86.26" stroke="#444" stroke-width="0.4"/><circle cx="396.50" cy="92.85" r="1.05" fill="#bba4ee"/><circle cx="402.46" cy="92.85" r="2.8" fill="#9272f2"/><circle cx="408.42" cy="92.85" r="2.8" fill="#9272f2"/><circle cx="414.38" cy="92.85" r="2.3" fill="#3a1ef9"/><circle cx="420.34" cy="92.85" r="1.65" fill="#bba4ee"/><circle cx="426.30" cy="92.85" r="1.05" fill="#c8b8ec"/><circle cx="432.26" cy="92.85" r="0.6" fill="#d6d6d6"/><circle cx="438.22" cy="92.85" r="0.6" fill="#d6d6d6"/><circle cx="444.18" cy="92.85" r="0.6" fill="#d6d6d6"/><circle cx="450.14" cy="92.85" r="0.6" fill="#d6d6d6"/><circle cx="456.10" cy="92.85" r="0.6" fill="#d6d6d6"/><circle cx="462.06" cy="92.85" r="0.6" fill="#d6d6d6"/><circle cx="468.02" cy="92.85" r="0.6" fill="#d6d6d6"/><circle cx="473.98" cy="92.85" r="1.05" fill="#bba4ee"/><circle cx="479.94" cy="92.85" r="0.6" fill="#d6d6d6"/><text x="390.4" y="95.15" font-size="5.4" text-anchor="end" fill="#2a2a2a" stroke="#2a2a2a" stroke-width="0.1">Rsph1</text><line x1="391" y1="92.85" x2="392.8" y2="92.85" stroke="#444" stroke-width="0.4"/><circle cx="396.50" cy="99.43" r="0.6" fill="#d6d6d6"/><circle cx="402.46" cy="99.43" r="0.6" fill="#d6d6d6"/><circle cx="408.42" cy="99.43" r="0.6" fill="#d6d6d6"/><circle cx="414.38" cy="99.43" r="1.05" fill="#0a02fd"/><circle cx="420.34" cy="99.43" r="0.6" fill="#d6d6d6"/><circle cx="426.30" cy="99.43" r="2.8" fill="#0a02fd"/><circle cx="432.26" cy="99.43" r="1.65" fill="#bba4ee"/><circle cx="438.22" cy="99.43" r="1.05" fill="#bba4ee"/><circle cx="444.18" cy="99.43" r="0.6" fill="#d6d6d6"/><circle cx="450.14" cy="99.43" r="0.6" fill="#d6d6d6"/><circle cx="456.10" cy="99.43" r="0.6" fill="#d6d6d6"/><circle cx="462.06" cy="99.43" r="0.6" fill="#bba4ee"/><circle cx="468.02" cy="99.43" r="0.6" fill="#d6d6d6"/><circle cx="473.98" cy="99.43" r="0.6" fill="#d6d6d6"/><circle cx="479.94" cy="99.43" r="0.6" fill="#d6d6d6"/><text x="390.4" y="101.73" font-size="5.4" text-anchor="end" fill="#2a2a2a" stroke="#2a2a2a" stroke-width="0.1">Spata45</text><line x1="391" y1="99.43" x2="392.8" y2="99.43" stroke="#444" stroke-width="0.4"/><circle cx="396.50" cy="106.02" r="0.6" fill="#d6d6d6"/><circle cx="402.46" cy="106.02" r="0.6" fill="#d6d6d6"/><circle cx="408.42" cy="106.02" r="0.6" fill="#d6d6d6"/><circle cx="414.38" cy="106.02" r="0.6" fill="#bba4ee"/><circle cx="420.34" cy="106.02" r="1.05" fill="#bba4ee"/><circle cx="426.30" cy="106.02" r="2.3" fill="#9272f2"/><circle cx="432.26" cy="106.02" r="1.05" fill="#0a02fd"/><circle cx="438.22" cy="106.02" r="2.3" fill="#9272f2"/><circle cx="444.18" cy="106.02" r="1.05" fill="#bba4ee"/><circle cx="450.14" cy="106.02" r="0.6" fill="#d6d6d6"/><circle cx="456.10" cy="106.02" r="0.6" fill="#d6d6d6"/><circle cx="462.06" cy="106.02" r="0.6" fill="#d6d6d6"/><circle cx="468.02" cy="106.02" r="0.6" fill="#d6d6d6"/><circle cx="473.98" cy="106.02" r="0.6" fill="#bba4ee"/><circle cx="479.94" cy="106.02" r="0.6" fill="#d6d6d6"/><text x="390.4" y="108.32" font-size="5.4" text-anchor="end" fill="#2a2a2a" stroke="#2a2a2a" stroke-width="0.1">Tssk1</text><line x1="391" y1="106.02" x2="392.8" y2="106.02" stroke="#444" stroke-width="0.4"/><circle cx="396.50" cy="112.60" r="0.6" fill="#d6d6d6"/><circle cx="402.46" cy="112.60" r="0.6" fill="#d6d6d6"/><circle cx="408.42" cy="112.60" r="0.6" fill="#d6d6d6"/><circle cx="414.38" cy="112.60" r="0.6" fill="#d6d6d6"/><circle cx="420.34" cy="112.60" r="0.6" fill="#d6d6d6"/><circle cx="426.30" cy="112.60" r="1.65" fill="#bba4ee"/><circle cx="432.26" cy="112.60" r="2.8" fill="#0a02fd"/><circle cx="438.22" cy="112.60" r="1.05" fill="#bba4ee"/><circle cx="444.18" cy="112.60" r="0.6" fill="#d6d6d6"/><circle cx="450.14" cy="112.60" r="0.6" fill="#d6d6d6"/><circle cx="456.10" cy="112.60" r="0.6" fill="#d6d6d6"/><circle cx="462.06" cy="112.60" r="0.6" fill="#d6d6d6"/><circle cx="468.02" cy="112.60" r="0.6" fill="#d6d6d6"/><circle cx="473.98" cy="112.60" r="0.6" fill="#d6d6d6"/><circle cx="479.94" cy="112.60" r="0.6" fill="#d6d6d6"/><text x="390.4" y="114.90" font-size="5.4" text-anchor="end" fill="#2a2a2a" stroke="#2a2a2a" stroke-width="0.1">Acrv1</text><line x1="391" y1="112.60" x2="392.8" y2="112.60" stroke="#444" stroke-width="0.4"/><circle cx="396.50" cy="119.19" r="0.6" fill="#d6d6d6"/><circle cx="402.46" cy="119.19" r="0.6" fill="#d6d6d6"/><circle cx="408.42" cy="119.19" r="0.6" fill="#d6d6d6"/><circle cx="414.38" cy="119.19" r="0.6" fill="#d6d6d6"/><circle cx="420.34" cy="119.19" r="0.6" fill="#d6d6d6"/><circle cx="426.30" cy="119.19" r="1.65" fill="#bba4ee"/><circle cx="432.26" cy="119.19" r="2.8" fill="#0a02fd"/><circle cx="438.22" cy="119.19" r="1.65" fill="#bba4ee"/><circle cx="444.18" cy="119.19" r="0.6" fill="#d6d6d6"/><circle cx="450.14" cy="119.19" r="0.6" fill="#d6d6d6"/><circle cx="456.10" cy="119.19" r="0.6" fill="#d6d6d6"/><circle cx="462.06" cy="119.19" r="0.6" fill="#d6d6d6"/><circle cx="468.02" cy="119.19" r="0.6" fill="#d6d6d6"/><circle cx="473.98" cy="119.19" r="0.6" fill="#d6d6d6"/><circle cx="479.94" cy="119.19" r="0.6" fill="#d6d6d6"/><text x="390.4" y="121.49" font-size="5.4" text-anchor="end" fill="#2a2a2a" stroke="#2a2a2a" stroke-width="0.1">Spaca1</text><line x1="391" y1="119.19" x2="392.8" y2="119.19" stroke="#444" stroke-width="0.4"/><circle cx="396.50" cy="125.78" r="0.6" fill="#d6d6d6"/><circle cx="402.46" cy="125.78" r="0.6" fill="#d6d6d6"/><circle cx="408.42" cy="125.78" r="0.6" fill="#d6d6d6"/><circle cx="414.38" cy="125.78" r="0.6" fill="#d6d6d6"/><circle cx="420.34" cy="125.78" r="0.6" fill="#d6d6d6"/><circle cx="426.30" cy="125.78" r="2.3" fill="#c8b8ec"/><circle cx="432.26" cy="125.78" r="2.8" fill="#0a02fd"/><circle cx="438.22" cy="125.78" r="1.05" fill="#bba4ee"/><circle cx="444.18" cy="125.78" r="0.6" fill="#d6d6d6"/><circle cx="450.14" cy="125.78" r="0.6" fill="#bba4ee"/><circle cx="456.10" cy="125.78" r="0.6" fill="#d6d6d6"/><circle cx="462.06" cy="125.78" r="0.6" fill="#d6d6d6"/><circle cx="468.02" cy="125.78" r="0.6" fill="#d6d6d6"/><circle cx="473.98" cy="125.78" r="0.6" fill="#d6d6d6"/><circle cx="479.94" cy="125.78" r="0.6" fill="#d6d6d6"/><text x="390.4" y="128.08" font-size="5.4" text-anchor="end" fill="#2a2a2a" stroke="#2a2a2a" stroke-width="0.1">Spaca3</text><line x1="391" y1="125.78" x2="392.8" y2="125.78" stroke="#444" stroke-width="0.4"/><circle cx="396.50" cy="132.36" r="0.6" fill="#d6d6d6"/><circle cx="402.46" cy="132.36" r="0.6" fill="#d6d6d6"/><circle cx="408.42" cy="132.36" r="0.6" fill="#d6d6d6"/><circle cx="414.38" cy="132.36" r="0.6" fill="#d6d6d6"/><circle cx="420.34" cy="132.36" r="0.6" fill="#d6d6d6"/><circle cx="426.30" cy="132.36" r="1.65" fill="#bba4ee"/><circle cx="432.26" cy="132.36" r="2.8" fill="#0a02fd"/><circle cx="438.22" cy="132.36" r="1.05" fill="#bba4ee"/><circle cx="444.18" cy="132.36" r="0.6" fill="#d6d6d6"/><circle cx="450.14" cy="132.36" r="0.6" fill="#d6d6d6"/><circle cx="456.10" cy="132.36" r="0.6" fill="#d6d6d6"/><circle cx="462.06" cy="132.36" r="0.6" fill="#d6d6d6"/><circle cx="468.02" cy="132.36" r="0.6" fill="#d6d6d6"/><circle cx="473.98" cy="132.36" r="0.6" fill="#d6d6d6"/><circle cx="479.94" cy="132.36" r="0.6" fill="#d6d6d6"/><text x="390.4" y="134.66" font-size="5.4" text-anchor="end" fill="#2a2a2a" stroke="#2a2a2a" stroke-width="0.1">Catsper3</text><line x1="391" y1="132.36" x2="392.8" y2="132.36" stroke="#444" stroke-width="0.4"/><circle cx="396.50" cy="138.95" r="0.6" fill="#d6d6d6"/><circle cx="402.46" cy="138.95" r="0.6" fill="#d6d6d6"/><circle cx="408.42" cy="138.95" r="0.6" fill="#d6d6d6"/><circle cx="414.38" cy="138.95" r="0.6" fill="#d6d6d6"/><circle cx="420.34" cy="138.95" r="0.6" fill="#d6d6d6"/><circle cx="426.30" cy="138.95" r="1.65" fill="#bba4ee"/><circle cx="432.26" cy="138.95" r="2.3" fill="#0a02fd"/><circle cx="438.22" cy="138.95" r="1.05" fill="#bba4ee"/><circle cx="444.18" cy="138.95" r="0.6" fill="#d6d6d6"/><circle cx="450.14" cy="138.95" r="0.6" fill="#d6d6d6"/><circle cx="456.10" cy="138.95" r="0.6" fill="#d6d6d6"/><circle cx="462.06" cy="138.95" r="0.6" fill="#d6d6d6"/><circle cx="468.02" cy="138.95" r="0.6" fill="#d6d6d6"/><circle cx="473.98" cy="138.95" r="0.6" fill="#d6d6d6"/><circle cx="479.94" cy="138.95" r="0.6" fill="#d6d6d6"/><text x="390.4" y="141.25" font-size="5.4" text-anchor="end" fill="#2a2a2a" stroke="#2a2a2a" stroke-width="0.1">Eqtn</text><line x1="391" y1="138.95" x2="392.8" y2="138.95" stroke="#444" stroke-width="0.4"/><circle cx="396.50" cy="145.53" r="0.6" fill="#d6d6d6"/><circle cx="402.46" cy="145.53" r="0.6" fill="#d6d6d6"/><circle cx="408.42" cy="145.53" r="0.6" fill="#d6d6d6"/><circle cx="414.38" cy="145.53" r="0.6" fill="#d6d6d6"/><circle cx="420.34" cy="145.53" r="0.6" fill="#d6d6d6"/><circle cx="426.30" cy="145.53" r="1.05" fill="#bba4ee"/><circle cx="432.26" cy="145.53" r="2.3" fill="#0a02fd"/><circle cx="438.22" cy="145.53" r="0.6" fill="#d6d6d6"/><circle cx="444.18" cy="145.53" r="0.6" fill="#d6d6d6"/><circle cx="450.14" cy="145.53" r="0.6" fill="#d6d6d6"/><circle cx="456.10" cy="145.53" r="0.6" fill="#d6d6d6"/><circle cx="462.06" cy="145.53" r="0.6" fill="#d6d6d6"/><circle cx="468.02" cy="145.53" r="0.6" fill="#d6d6d6"/><circle cx="473.98" cy="145.53" r="0.6" fill="#d6d6d6"/><circle cx="479.94" cy="145.53" r="0.6" fill="#d6d6d6"/><text x="390.4" y="147.83" font-size="5.4" text-anchor="end" fill="#2a2a2a" stroke="#2a2a2a" stroke-width="0.1">Izumo1</text><line x1="391" y1="145.53" x2="392.8" y2="145.53" stroke="#444" stroke-width="0.4"/><circle cx="396.50" cy="152.12" r="0.6" fill="#d6d6d6"/><circle cx="402.46" cy="152.12" r="0.6" fill="#d6d6d6"/><circle cx="408.42" cy="152.12" r="0.6" fill="#d6d6d6"/><circle cx="414.38" cy="152.12" r="0.6" fill="#d6d6d6"/><circle cx="420.34" cy="152.12" r="0.6" fill="#d6d6d6"/><circle cx="426.30" cy="152.12" r="0.6" fill="#d6d6d6"/><circle cx="432.26" cy="152.12" r="0.6" fill="#d6d6d6"/><circle cx="438.22" cy="152.12" r="2.8" fill="#7a58f4"/><circle cx="444.18" cy="152.12" r="2.8" fill="#0a02fd"/><circle cx="450.14" cy="152.12" r="0.6" fill="#d6d6d6"/><circle cx="456.10" cy="152.12" r="0.6" fill="#d6d6d6"/><circle cx="462.06" cy="152.12" r="0.6" fill="#d6d6d6"/><circle cx="468.02" cy="152.12" r="0.6" fill="#d6d6d6"/><circle cx="473.98" cy="152.12" r="1.05" fill="#bba4ee"/><circle cx="479.94" cy="152.12" r="0.6" fill="#d6d6d6"/><text x="390.4" y="154.42" font-size="5.4" text-anchor="end" fill="#2a2a2a" stroke="#2a2a2a" stroke-width="0.1">Tnp1</text><line x1="391" y1="152.12" x2="392.8" y2="152.12" stroke="#444" stroke-width="0.4"/><circle cx="396.50" cy="158.71" r="0.6" fill="#d6d6d6"/><circle cx="402.46" cy="158.71" r="0.6" fill="#d6d6d6"/><circle cx="408.42" cy="158.71" r="0.6" fill="#d6d6d6"/><circle cx="414.38" cy="158.71" r="0.6" fill="#d6d6d6"/><circle cx="420.34" cy="158.71" r="0.6" fill="#d6d6d6"/><circle cx="426.30" cy="158.71" r="0.6" fill="#d6d6d6"/><circle cx="432.26" cy="158.71" r="0.6" fill="#d6d6d6"/><circle cx="438.22" cy="158.71" r="2.8" fill="#7a58f4"/><circle cx="444.18" cy="158.71" r="2.8" fill="#0a02fd"/><circle cx="450.14" cy="158.71" r="0.6" fill="#d6d6d6"/><circle cx="456.10" cy="158.71" r="0.6" fill="#d6d6d6"/><circle cx="462.06" cy="158.71" r="0.6" fill="#d6d6d6"/><circle cx="468.02" cy="158.71" r="0.6" fill="#d6d6d6"/><circle cx="473.98" cy="158.71" r="1.05" fill="#bba4ee"/><circle cx="479.94" cy="158.71" r="0.6" fill="#d6d6d6"/><text x="390.4" y="161.01" font-size="5.4" text-anchor="end" fill="#2a2a2a" stroke="#2a2a2a" stroke-width="0.1">Tnp2</text><line x1="391" y1="158.71" x2="392.8" y2="158.71" stroke="#444" stroke-width="0.4"/><circle cx="396.50" cy="165.29" r="0.6" fill="#d6d6d6"/><circle cx="402.46" cy="165.29" r="0.6" fill="#d6d6d6"/><circle cx="408.42" cy="165.29" r="0.6" fill="#d6d6d6"/><circle cx="414.38" cy="165.29" r="0.6" fill="#d6d6d6"/><circle cx="420.34" cy="165.29" r="0.6" fill="#d6d6d6"/><circle cx="426.30" cy="165.29" r="0.6" fill="#d6d6d6"/><circle cx="432.26" cy="165.29" r="0.6" fill="#d6d6d6"/><circle cx="438.22" cy="165.29" r="2.3" fill="#bba4ee"/><circle cx="444.18" cy="165.29" r="2.8" fill="#0a02fd"/><circle cx="450.14" cy="165.29" r="1.65" fill="#bba4ee"/><circle cx="456.10" cy="165.29" r="0.6" fill="#d6d6d6"/><circle cx="462.06" cy="165.29" r="0.6" fill="#d6d6d6"/><circle cx="468.02" cy="165.29" r="0.6" fill="#d6d6d6"/><circle cx="473.98" cy="165.29" r="1.05" fill="#bba4ee"/><circle cx="479.94" cy="165.29" r="0.6" fill="#d6d6d6"/><text x="390.4" y="167.59" font-size="5.4" text-anchor="end" fill="#2a2a2a" stroke="#2a2a2a" stroke-width="0.1">Prm1</text><line x1="391" y1="165.29" x2="392.8" y2="165.29" stroke="#444" stroke-width="0.4"/><circle cx="396.50" cy="171.88" r="0.6" fill="#d6d6d6"/><circle cx="402.46" cy="171.88" r="0.6" fill="#d6d6d6"/><circle cx="408.42" cy="171.88" r="0.6" fill="#d6d6d6"/><circle cx="414.38" cy="171.88" r="0.6" fill="#d6d6d6"/><circle cx="420.34" cy="171.88" r="0.6" fill="#d6d6d6"/><circle cx="426.30" cy="171.88" r="0.6" fill="#d6d6d6"/><circle cx="432.26" cy="171.88" r="0.6" fill="#d6d6d6"/><circle cx="438.22" cy="171.88" r="1.65" fill="#c8b8ec"/><circle cx="444.18" cy="171.88" r="2.3" fill="#c8b8ec"/><circle cx="450.14" cy="171.88" r="2.8" fill="#3a1ef9"/><circle cx="456.10" cy="171.88" r="2.8" fill="#0a02fd"/><circle cx="462.06" cy="171.88" r="0.6" fill="#d6d6d6"/><circle cx="468.02" cy="171.88" r="0.6" fill="#d6d6d6"/><circle cx="473.98" cy="171.88" r="1.05" fill="#bba4ee"/><circle cx="479.94" cy="171.88" r="0.6" fill="#d6d6d6"/><text x="390.4" y="174.18" font-size="5.4" text-anchor="end" fill="#2a2a2a" stroke="#2a2a2a" stroke-width="0.1">Prm2</text><line x1="391" y1="171.88" x2="392.8" y2="171.88" stroke="#444" stroke-width="0.4"/><circle cx="396.50" cy="178.46" r="0.6" fill="#d6d6d6"/><circle cx="402.46" cy="178.46" r="0.6" fill="#d6d6d6"/><circle cx="408.42" cy="178.46" r="0.6" fill="#d6d6d6"/><circle cx="414.38" cy="178.46" r="0.6" fill="#d6d6d6"/><circle cx="420.34" cy="178.46" r="0.6" fill="#d6d6d6"/><circle cx="426.30" cy="178.46" r="0.6" fill="#d6d6d6"/><circle cx="432.26" cy="178.46" r="0.6" fill="#d6d6d6"/><circle cx="438.22" cy="178.46" r="1.65" fill="#bba4ee"/><circle cx="444.18" cy="178.46" r="2.3" fill="#bba4ee"/><circle cx="450.14" cy="178.46" r="2.3" fill="#9272f2"/><circle cx="456.10" cy="178.46" r="2.8" fill="#0a02fd"/><circle cx="462.06" cy="178.46" r="0.6" fill="#d6d6d6"/><circle cx="468.02" cy="178.46" r="0.6" fill="#d6d6d6"/><circle cx="473.98" cy="178.46" r="1.05" fill="#bba4ee"/><circle cx="479.94" cy="178.46" r="0.6" fill="#d6d6d6"/><text x="390.4" y="180.76" font-size="5.4" text-anchor="end" fill="#2a2a2a" stroke="#2a2a2a" stroke-width="0.1">Spem1</text><line x1="391" y1="178.46" x2="392.8" y2="178.46" stroke="#444" stroke-width="0.4"/><circle cx="396.50" cy="185.05" r="0.6" fill="#d6d6d6"/><circle cx="402.46" cy="185.05" r="0.6" fill="#d6d6d6"/><circle cx="408.42" cy="185.05" r="0.6" fill="#d6d6d6"/><circle cx="414.38" cy="185.05" r="0.6" fill="#d6d6d6"/><circle cx="420.34" cy="185.05" r="0.6" fill="#d6d6d6"/><circle cx="426.30" cy="185.05" r="0.6" fill="#d6d6d6"/><circle cx="432.26" cy="185.05" r="0.6" fill="#d6d6d6"/><circle cx="438.22" cy="185.05" r="1.65" fill="#bba4ee"/><circle cx="444.18" cy="185.05" r="2.3" fill="#c8b8ec"/><circle cx="450.14" cy="185.05" r="2.8" fill="#c8b8ec"/><circle cx="456.10" cy="185.05" r="2.8" fill="#0a02fd"/><circle cx="462.06" cy="185.05" r="2.3" fill="#a98cf0"/><circle cx="468.02" cy="185.05" r="0.6" fill="#d6d6d6"/><circle cx="473.98" cy="185.05" r="0.6" fill="#d6d6d6"/><circle cx="479.94" cy="185.05" r="0.6" fill="#d6d6d6"/><text x="390.4" y="187.35" font-size="5.4" text-anchor="end" fill="#2a2a2a" stroke="#2a2a2a" stroke-width="0.1">Tssk6</text><line x1="391" y1="185.05" x2="392.8" y2="185.05" stroke="#444" stroke-width="0.4"/><circle cx="396.50" cy="191.64" r="0.6" fill="#d6d6d6"/><circle cx="402.46" cy="191.64" r="0.6" fill="#d6d6d6"/><circle cx="408.42" cy="191.64" r="0.6" fill="#d6d6d6"/><circle cx="414.38" cy="191.64" r="0.6" fill="#d6d6d6"/><circle cx="420.34" cy="191.64" r="0.6" fill="#d6d6d6"/><circle cx="426.30" cy="191.64" r="0.6" fill="#d6d6d6"/><circle cx="432.26" cy="191.64" r="0.6" fill="#d6d6d6"/><circle cx="438.22" cy="191.64" r="1.65" fill="#bba4ee"/><circle cx="444.18" cy="191.64" r="2.3" fill="#c8b8ec"/><circle cx="450.14" cy="191.64" r="2.8" fill="#c8b8ec"/><circle cx="456.10" cy="191.64" r="2.8" fill="#0a02fd"/><circle cx="462.06" cy="191.64" r="1.05" fill="#bba4ee"/><circle cx="468.02" cy="191.64" r="0.6" fill="#d6d6d6"/><circle cx="473.98" cy="191.64" r="0.6" fill="#d6d6d6"/><circle cx="479.94" cy="191.64" r="0.6" fill="#d6d6d6"/><text x="390.4" y="193.94" font-size="5.4" text-anchor="end" fill="#2a2a2a" stroke="#2a2a2a" stroke-width="0.1">Ccdc91</text><line x1="391" y1="191.64" x2="392.8" y2="191.64" stroke="#444" stroke-width="0.4"/><circle cx="396.50" cy="198.22" r="0.6" fill="#d6d6d6"/><circle cx="402.46" cy="198.22" r="0.6" fill="#d6d6d6"/><circle cx="408.42" cy="198.22" r="0.6" fill="#d6d6d6"/><circle cx="414.38" cy="198.22" r="0.6" fill="#d6d6d6"/><circle cx="420.34" cy="198.22" r="0.6" fill="#d6d6d6"/><circle cx="426.30" cy="198.22" r="1.05" fill="#bba4ee"/><circle cx="432.26" cy="198.22" r="1.05" fill="#9272f2"/><circle cx="438.22" cy="198.22" r="1.65" fill="#bba4ee"/><circle cx="444.18" cy="198.22" r="2.8" fill="#0a02fd"/><circle cx="450.14" cy="198.22" r="0.6" fill="#bba4ee"/><circle cx="456.10" cy="198.22" r="0.6" fill="#d6d6d6"/><circle cx="462.06" cy="198.22" r="0.6" fill="#d6d6d6"/><circle cx="468.02" cy="198.22" r="0.6" fill="#d6d6d6"/><circle cx="473.98" cy="198.22" r="1.05" fill="#bba4ee"/><circle cx="479.94" cy="198.22" r="0.6" fill="#d6d6d6"/><text x="390.4" y="200.52" font-size="5.4" text-anchor="end" fill="#2a2a2a" stroke="#2a2a2a" stroke-width="0.1">Izumo2</text><line x1="391" y1="198.22" x2="392.8" y2="198.22" stroke="#444" stroke-width="0.4"/><circle cx="396.50" cy="204.81" r="0.6" fill="#bba4ee"/><circle cx="402.46" cy="204.81" r="1.05" fill="#bba4ee"/><circle cx="408.42" cy="204.81" r="0.6" fill="#d6d6d6"/><circle cx="414.38" cy="204.81" r="1.05" fill="#bba4ee"/><circle cx="420.34" cy="204.81" r="0.6" fill="#d6d6d6"/><circle cx="426.30" cy="204.81" r="0.6" fill="#d6d6d6"/><circle cx="432.26" cy="204.81" r="0.6" fill="#d6d6d6"/><circle cx="438.22" cy="204.81" r="0.6" fill="#d6d6d6"/><circle cx="444.18" cy="204.81" r="0.6" fill="#d6d6d6"/><circle cx="450.14" cy="204.81" r="0.6" fill="#d6d6d6"/><circle cx="456.10" cy="204.81" r="0.6" fill="#d6d6d6"/><circle cx="462.06" cy="204.81" r="0.6" fill="#d6d6d6"/><circle cx="468.02" cy="204.81" r="2.3" fill="#0a02fd"/><circle cx="473.98" cy="204.81" r="1.05" fill="#bba4ee"/><circle cx="479.94" cy="204.81" r="1.05" fill="#bba4ee"/><text x="390.4" y="207.11" font-size="5.4" text-anchor="end" fill="#2a2a2a" stroke="#2a2a2a" stroke-width="0.1">Ptch1</text><line x1="391" y1="204.81" x2="392.8" y2="204.81" stroke="#444" stroke-width="0.4"/><circle cx="396.50" cy="211.39" r="0.6" fill="#d6d6d6"/><circle cx="402.46" cy="211.39" r="0.6" fill="#d6d6d6"/><circle cx="408.42" cy="211.39" r="0.6" fill="#d6d6d6"/><circle cx="414.38" cy="211.39" r="0.6" fill="#d6d6d6"/><circle cx="420.34" cy="211.39" r="0.6" fill="#d6d6d6"/><circle cx="426.30" cy="211.39" r="0.6" fill="#d6d6d6"/><circle cx="432.26" cy="211.39" r="0.6" fill="#d6d6d6"/><circle cx="438.22" cy="211.39" r="0.6" fill="#d6d6d6"/><circle cx="444.18" cy="211.39" r="0.6" fill="#d6d6d6"/><circle cx="450.14" cy="211.39" r="0.6" fill="#d6d6d6"/><circle cx="456.10" cy="211.39" r="0.6" fill="#d6d6d6"/><circle cx="462.06" cy="211.39" r="0.6" fill="#d6d6d6"/><circle cx="468.02" cy="211.39" r="3.2" fill="#0a02fd"/><circle cx="473.98" cy="211.39" r="0.6" fill="#d6d6d6"/><circle cx="479.94" cy="211.39" r="1.05" fill="#bba4ee"/><text x="390.4" y="213.69" font-size="5.4" text-anchor="end" fill="#2a2a2a" stroke="#2a2a2a" stroke-width="0.1">Igfbp6</text><line x1="391" y1="211.39" x2="392.8" y2="211.39" stroke="#444" stroke-width="0.4"/><circle cx="396.50" cy="217.98" r="1.05" fill="#bba4ee"/><circle cx="402.46" cy="217.98" r="0.6" fill="#d6d6d6"/><circle cx="408.42" cy="217.98" r="0.6" fill="#d6d6d6"/><circle cx="414.38" cy="217.98" r="0.6" fill="#d6d6d6"/><circle cx="420.34" cy="217.98" r="0.6" fill="#d6d6d6"/><circle cx="426.30" cy="217.98" r="0.6" fill="#d6d6d6"/><circle cx="432.26" cy="217.98" r="0.6" fill="#d6d6d6"/><circle cx="438.22" cy="217.98" r="0.6" fill="#d6d6d6"/><circle cx="444.18" cy="217.98" r="0.6" fill="#d6d6d6"/><circle cx="450.14" cy="217.98" r="0.6" fill="#d6d6d6"/><circle cx="456.10" cy="217.98" r="0.6" fill="#d6d6d6"/><circle cx="462.06" cy="217.98" r="0.6" fill="#d6d6d6"/><circle cx="468.02" cy="217.98" r="1.05" fill="#bba4ee"/><circle cx="473.98" cy="217.98" r="1.65" fill="#0a02fd"/><circle cx="479.94" cy="217.98" r="2.3" fill="#c8b8ec"/><text x="390.4" y="220.28" font-size="5.4" text-anchor="end" fill="#2a2a2a" stroke="#2a2a2a" stroke-width="0.1">Rhox8</text><line x1="391" y1="217.98" x2="392.8" y2="217.98" stroke="#444" stroke-width="0.4"/><circle cx="396.50" cy="224.57" r="1.65" fill="#bba4ee"/><circle cx="402.46" cy="224.57" r="0.6" fill="#d6d6d6"/><circle cx="408.42" cy="224.57" r="0.6" fill="#d6d6d6"/><circle cx="414.38" cy="224.57" r="0.6" fill="#d6d6d6"/><circle cx="420.34" cy="224.57" r="0.6" fill="#d6d6d6"/><circle cx="426.30" cy="224.57" r="0.6" fill="#d6d6d6"/><circle cx="432.26" cy="224.57" r="0.6" fill="#d6d6d6"/><circle cx="438.22" cy="224.57" r="0.6" fill="#d6d6d6"/><circle cx="444.18" cy="224.57" r="0.6" fill="#d6d6d6"/><circle cx="450.14" cy="224.57" r="0.6" fill="#d6d6d6"/><circle cx="456.10" cy="224.57" r="0.6" fill="#d6d6d6"/><circle cx="462.06" cy="224.57" r="0.6" fill="#d6d6d6"/><circle cx="468.02" cy="224.57" r="2.3" fill="#c8b8ec"/><circle cx="473.98" cy="224.57" r="2.3" fill="#0a02fd"/><circle cx="479.94" cy="224.57" r="2.3" fill="#c8b8ec"/><text x="390.4" y="226.87" font-size="5.4" text-anchor="end" fill="#2a2a2a" stroke="#2a2a2a" stroke-width="0.1">Cst9</text><line x1="391" y1="224.57" x2="392.8" y2="224.57" stroke="#444" stroke-width="0.4"/><circle cx="396.50" cy="231.15" r="2.3" fill="#3a1ef9"/><circle cx="402.46" cy="231.15" r="0.6" fill="#d6d6d6"/><circle cx="408.42" cy="231.15" r="0.6" fill="#d6d6d6"/><circle cx="414.38" cy="231.15" r="0.6" fill="#d6d6d6"/><circle cx="420.34" cy="231.15" r="0.6" fill="#d6d6d6"/><circle cx="426.30" cy="231.15" r="0.6" fill="#d6d6d6"/><circle cx="432.26" cy="231.15" r="0.6" fill="#d6d6d6"/><circle cx="438.22" cy="231.15" r="0.6" fill="#d6d6d6"/><circle cx="444.18" cy="231.15" r="0.6" fill="#d6d6d6"/><circle cx="450.14" cy="231.15" r="0.6" fill="#d6d6d6"/><circle cx="456.10" cy="231.15" r="0.6" fill="#d6d6d6"/><circle cx="462.06" cy="231.15" r="0.6" fill="#d6d6d6"/><circle cx="468.02" cy="231.15" r="0.6" fill="#bba4ee"/><circle cx="473.98" cy="231.15" r="1.65" fill="#0a02fd"/><circle cx="479.94" cy="231.15" r="1.05" fill="#bba4ee"/><text x="390.4" y="233.45" font-size="5.4" text-anchor="end" fill="#2a2a2a" stroke="#2a2a2a" stroke-width="0.1">Clu</text><line x1="391" y1="231.15" x2="392.8" y2="231.15" stroke="#444" stroke-width="0.4"/><circle cx="396.50" cy="237.74" r="0.6" fill="#d6d6d6"/><circle cx="402.46" cy="237.74" r="0.6" fill="#d6d6d6"/><circle cx="408.42" cy="237.74" r="0.6" fill="#d6d6d6"/><circle cx="414.38" cy="237.74" r="0.6" fill="#d6d6d6"/><circle cx="420.34" cy="237.74" r="1.05" fill="#bba4ee"/><circle cx="426.30" cy="237.74" r="0.6" fill="#d6d6d6"/><circle cx="432.26" cy="237.74" r="1.05" fill="#bba4ee"/><circle cx="438.22" cy="237.74" r="0.6" fill="#d6d6d6"/><circle cx="444.18" cy="237.74" r="0.6" fill="#d6d6d6"/><circle cx="450.14" cy="237.74" r="0.6" fill="#d6d6d6"/><circle cx="456.10" cy="237.74" r="0.6" fill="#d6d6d6"/><circle cx="462.06" cy="237.74" r="0.6" fill="#d6d6d6"/><circle cx="468.02" cy="237.74" r="1.65" fill="#bba4ee"/><circle cx="473.98" cy="237.74" r="0.6" fill="#d6d6d6"/><circle cx="479.94" cy="237.74" r="2.8" fill="#0a02fd"/><text x="390.4" y="240.04" font-size="5.4" text-anchor="end" fill="#2a2a2a" stroke="#2a2a2a" stroke-width="0.1">Adgre1</text><line x1="391" y1="237.74" x2="392.8" y2="237.74" stroke="#444" stroke-width="0.4"/><circle cx="396.50" cy="244.32" r="0.6" fill="#d6d6d6"/><circle cx="402.46" cy="244.32" r="0.6" fill="#d6d6d6"/><circle cx="408.42" cy="244.32" r="0.6" fill="#d6d6d6"/><circle cx="414.38" cy="244.32" r="0.6" fill="#d6d6d6"/><circle cx="420.34" cy="244.32" r="0.6" fill="#d6d6d6"/><circle cx="426.30" cy="244.32" r="0.6" fill="#d6d6d6"/><circle cx="432.26" cy="244.32" r="0.6" fill="#d6d6d6"/><circle cx="438.22" cy="244.32" r="1.05" fill="#bba4ee"/><circle cx="444.18" cy="244.32" r="2.3" fill="#c8b8ec"/><circle cx="450.14" cy="244.32" r="2.3" fill="#c8b8ec"/><circle cx="456.10" cy="244.32" r="2.3" fill="#c8b8ec"/><circle cx="462.06" cy="244.32" r="0.6" fill="#d6d6d6"/><circle cx="468.02" cy="244.32" r="2.8" fill="#0a02fd"/><circle cx="473.98" cy="244.32" r="1.05" fill="#bba4ee"/><circle cx="479.94" cy="244.32" r="2.8" fill="#0a02fd"/><text x="390.4" y="246.62" font-size="5.4" text-anchor="end" fill="#2a2a2a" stroke="#2a2a2a" stroke-width="0.1">Apoe</text><line x1="391" y1="244.32" x2="392.8" y2="244.32" stroke="#444" stroke-width="0.4"/><circle cx="396.50" cy="250.91" r="0.6" fill="#d6d6d6"/><circle cx="402.46" cy="250.91" r="0.6" fill="#d6d6d6"/><circle cx="408.42" cy="250.91" r="0.6" fill="#d6d6d6"/><circle cx="414.38" cy="250.91" r="0.6" fill="#d6d6d6"/><circle cx="420.34" cy="250.91" r="0.6" fill="#d6d6d6"/><circle cx="426.30" cy="250.91" r="0.6" fill="#d6d6d6"/><circle cx="432.26" cy="250.91" r="1.05" fill="#9272f2"/><circle cx="438.22" cy="250.91" r="0.6" fill="#d6d6d6"/><circle cx="444.18" cy="250.91" r="0.6" fill="#d6d6d6"/><circle cx="450.14" cy="250.91" r="0.6" fill="#d6d6d6"/><circle cx="456.10" cy="250.91" r="0.6" fill="#d6d6d6"/><circle cx="462.06" cy="250.91" r="0.6" fill="#d6d6d6"/><circle cx="468.02" cy="250.91" r="1.65" fill="#bba4ee"/><circle cx="473.98" cy="250.91" r="0.6" fill="#d6d6d6"/><circle cx="479.94" cy="250.91" r="2.8" fill="#0a02fd"/><text x="390.4" y="253.21" font-size="5.4" text-anchor="end" fill="#2a2a2a" stroke="#2a2a2a" stroke-width="0.1">Cd163</text><line x1="391" y1="250.91" x2="392.8" y2="250.91" stroke="#444" stroke-width="0.4"/>
<path d="M392.8,16.5 V254.6 H483" fill="none" stroke="#333" stroke-width="0.45"/>
<line x1="396.50" y1="254.6" x2="396.50" y2="256.2" stroke="#444" stroke-width="0.4"/>
<text transform="translate(398.25,257.9) rotate(-90)" font-size="4.9" text-anchor="end" fill="#333">1</text>
<line x1="402.46" y1="254.6" x2="402.46" y2="256.2" stroke="#444" stroke-width="0.4"/>
<text transform="translate(404.21,257.9) rotate(-90)" font-size="4.9" text-anchor="end" fill="#333">2</text>
<line x1="408.42" y1="254.6" x2="408.42" y2="256.2" stroke="#444" stroke-width="0.4"/>
<text transform="translate(410.17,257.9) rotate(-90)" font-size="4.9" text-anchor="end" fill="#333">3</text>
<line x1="414.38" y1="254.6" x2="414.38" y2="256.2" stroke="#444" stroke-width="0.4"/>
<text transform="translate(416.13,257.9) rotate(-90)" font-size="4.9" text-anchor="end" fill="#333">4</text>
<line x1="420.34" y1="254.6" x2="420.34" y2="256.2" stroke="#444" stroke-width="0.4"/>
<text transform="translate(422.09,257.9) rotate(-90)" font-size="4.9" text-anchor="end" fill="#333">5</text>
<line x1="426.30" y1="254.6" x2="426.30" y2="256.2" stroke="#444" stroke-width="0.4"/>
<text transform="translate(428.05,257.9) rotate(-90)" font-size="4.9" text-anchor="end" fill="#333">6</text>
<line x1="432.26" y1="254.6" x2="432.26" y2="256.2" stroke="#444" stroke-width="0.4"/>
<text transform="translate(434.01,257.9) rotate(-90)" font-size="4.9" text-anchor="end" fill="#333">7</text>
<line x1="438.22" y1="254.6" x2="438.22" y2="256.2" stroke="#444" stroke-width="0.4"/>
<text transform="translate(439.97,257.9) rotate(-90)" font-size="4.9" text-anchor="end" fill="#333">8</text>
<line x1="444.18" y1="254.6" x2="444.18" y2="256.2" stroke="#444" stroke-width="0.4"/>
<text transform="translate(445.93,257.9) rotate(-90)" font-size="4.9" text-anchor="end" fill="#333">9</text>
<line x1="450.14" y1="254.6" x2="450.14" y2="256.2" stroke="#444" stroke-width="0.4"/>
<text transform="translate(451.89,257.9) rotate(-90)" font-size="4.9" text-anchor="end" fill="#333">10</text>
<line x1="456.10" y1="254.6" x2="456.10" y2="256.2" stroke="#444" stroke-width="0.4"/>
<text transform="translate(457.85,257.9) rotate(-90)" font-size="4.9" text-anchor="end" fill="#333">11</text>
<line x1="462.06" y1="254.6" x2="462.06" y2="256.2" stroke="#444" stroke-width="0.4"/>
<text transform="translate(463.81,257.9) rotate(-90)" font-size="4.9" text-anchor="end" fill="#333">12</text>
<line x1="468.02" y1="254.6" x2="468.02" y2="256.2" stroke="#444" stroke-width="0.4"/>
<text transform="translate(469.77,257.9) rotate(-90)" font-size="4.9" text-anchor="end" fill="#333">13</text>
<line x1="473.98" y1="254.6" x2="473.98" y2="256.2" stroke="#444" stroke-width="0.4"/>
<text transform="translate(475.73,257.9) rotate(-90)" font-size="4.9" text-anchor="end" fill="#333">14</text>
<line x1="479.94" y1="254.6" x2="479.94" y2="256.2" stroke="#444" stroke-width="0.4"/>
<text transform="translate(481.69,257.9) rotate(-90)" font-size="4.9" text-anchor="end" fill="#333">15</text>
<text x="439" y="271" font-size="6.6" font-weight="bold" text-anchor="middle" fill="#111">Clusters</text>
<text transform="translate(363.9,136.6) rotate(-90)" font-size="7.0" font-weight="bold" text-anchor="middle" fill="#111">Genes</text>
<text x="488.8" y="94" font-size="6.15" fill="#111">Average Expression</text>
<defs><linearGradient id="dg" x1="0" y1="0" x2="0" y2="1"><stop offset="0" stop-color="#0000ff"/><stop offset="0.5" stop-color="#9a80f0"/><stop offset="1" stop-color="#d8d8e0"/></linearGradient></defs>
<rect x="489.3" y="97.4" width="7" height="34.2" fill="url(#dg)"/>
<text x="499.5" y="104.8" font-size="5.2" fill="#222">2</text>
<line x1="489.3" y1="102.8" x2="490.8" y2="102.8" stroke="#fff" stroke-width="0.4"/><line x1="494.8" y1="102.8" x2="496.3" y2="102.8" stroke="#fff" stroke-width="0.4"/>
<text x="499.5" y="115.7" font-size="5.2" fill="#222">1</text>
<line x1="489.3" y1="113.7" x2="490.8" y2="113.7" stroke="#fff" stroke-width="0.4"/><line x1="494.8" y1="113.7" x2="496.3" y2="113.7" stroke="#fff" stroke-width="0.4"/>
<text x="499.5" y="125.7" font-size="5.2" fill="#222">0</text>
<line x1="489.3" y1="123.7" x2="490.8" y2="123.7" stroke="#fff" stroke-width="0.4"/><line x1="494.8" y1="123.7" x2="496.3" y2="123.7" stroke="#fff" stroke-width="0.4"/>
<text x="488.8" y="143.8" font-size="6.2" fill="#111">Percent Expressed</text>
<circle cx="492.8" cy="150.5" r="0.3" fill="#000"/>
<text x="499.5" y="152.4" font-size="5.2" fill="#222">0</text>
<circle cx="492.8" cy="157.9" r="0.85" fill="#000"/>
<text x="499.5" y="159.8" font-size="5.2" fill="#222">25</text>
<circle cx="492.8" cy="164.4" r="1.35" fill="#000"/>
<text x="499.5" y="166.3" font-size="5.2" fill="#222">50</text>
<circle cx="492.8" cy="171.4" r="1.95" fill="#000"/>
<text x="499.5" y="173.3" font-size="5.2" fill="#222">75</text>
<circle cx="492.8" cy="180" r="2.6" fill="#000"/>
<text x="499.5" y="181.9" font-size="5.2" fill="#222">100</text>
</svg></body></html>
